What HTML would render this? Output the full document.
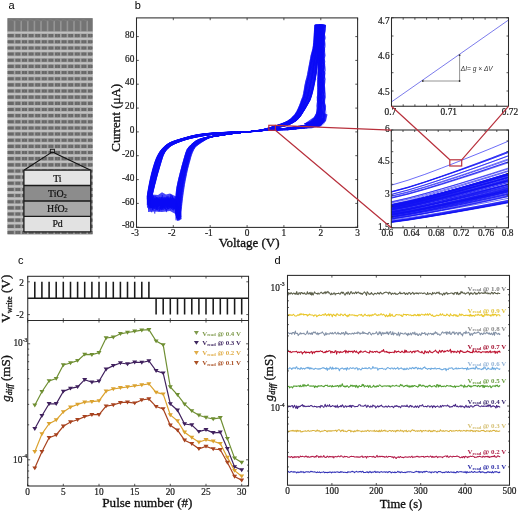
<!DOCTYPE html>
<html><head><meta charset="utf-8"><title>Figure</title>
<style>html,body{margin:0;padding:0;background:#fff;}svg{display:block;}</style></head>
<body><svg width="520" height="512" viewBox="0 0 520 512">
<rect width="520" height="512" fill="#fff"/>
<text x="8.5" y="8.6" font-size="11" text-anchor="start" font-family="'Liberation Sans',Arial,sans-serif" >a</text>
<rect x="7.5" y="18.2" width="85.1" height="216.4" fill="#a3a3a3"/>
<rect x="7.5" y="18.2" width="85.1" height="13.4" fill="#747474"/>
<rect x="13.8" y="20.7" width="1.6" height="11" fill="#949494"/><path d="M14.2,21.4 q-2.4,-2.6 -5.4,-1.2" stroke="#7e7e7e" stroke-width="1.1" fill="none"/><rect x="20.4" y="20.7" width="1.6" height="11" fill="#949494"/><path d="M20.8,21.4 q-2.4,-2.6 -5.4,-1.2" stroke="#7e7e7e" stroke-width="1.1" fill="none"/><rect x="27" y="20.7" width="1.6" height="11" fill="#949494"/><path d="M27.4,21.4 q-2.4,-2.6 -5.4,-1.2" stroke="#7e7e7e" stroke-width="1.1" fill="none"/><rect x="33.6" y="20.7" width="1.6" height="11" fill="#949494"/><path d="M34,21.4 q-2.4,-2.6 -5.4,-1.2" stroke="#7e7e7e" stroke-width="1.1" fill="none"/><rect x="40.2" y="20.7" width="1.6" height="11" fill="#949494"/><path d="M40.6,21.4 q-2.4,-2.6 -5.4,-1.2" stroke="#7e7e7e" stroke-width="1.1" fill="none"/><rect x="46.8" y="20.7" width="1.6" height="11" fill="#949494"/><path d="M47.2,21.4 q-2.4,-2.6 -5.4,-1.2" stroke="#7e7e7e" stroke-width="1.1" fill="none"/><rect x="53.4" y="20.7" width="1.6" height="11" fill="#949494"/><path d="M53.8,21.4 q-2.4,-2.6 -5.4,-1.2" stroke="#7e7e7e" stroke-width="1.1" fill="none"/><rect x="60" y="20.7" width="1.6" height="11" fill="#949494"/><path d="M60.4,21.4 q-2.4,-2.6 -5.4,-1.2" stroke="#7e7e7e" stroke-width="1.1" fill="none"/><rect x="66.6" y="20.7" width="1.6" height="11" fill="#949494"/><path d="M67,21.4 q-2.4,-2.6 -5.4,-1.2" stroke="#7e7e7e" stroke-width="1.1" fill="none"/><rect x="73.2" y="20.7" width="1.6" height="11" fill="#949494"/><path d="M73.6,21.4 q-2.4,-2.6 -5.4,-1.2" stroke="#7e7e7e" stroke-width="1.1" fill="none"/><rect x="79.8" y="20.7" width="1.6" height="11" fill="#949494"/><path d="M80.2,21.4 q-2.4,-2.6 -5.4,-1.2" stroke="#7e7e7e" stroke-width="1.1" fill="none"/><rect x="86.4" y="20.7" width="1.6" height="11" fill="#949494"/><path d="M86.8,21.4 q-2.4,-2.6 -5.4,-1.2" stroke="#7e7e7e" stroke-width="1.1" fill="none"/>
<rect x="7.5" y="31.6" width="85.1" height="1.9" fill="#c2c2c2"/><rect x="7.5" y="37.8" width="85.1" height="1.9" fill="#c2c2c2"/><rect x="7.5" y="43.9" width="85.1" height="1.9" fill="#c2c2c2"/><rect x="7.5" y="50" width="85.1" height="1.9" fill="#c2c2c2"/><rect x="7.5" y="56.2" width="85.1" height="1.9" fill="#c2c2c2"/><rect x="7.5" y="62.3" width="85.1" height="1.9" fill="#c2c2c2"/><rect x="7.5" y="68.5" width="85.1" height="1.9" fill="#c2c2c2"/><rect x="7.5" y="74.7" width="85.1" height="1.9" fill="#c2c2c2"/><rect x="7.5" y="80.8" width="85.1" height="1.9" fill="#c2c2c2"/><rect x="7.5" y="87" width="85.1" height="1.9" fill="#c2c2c2"/><rect x="7.5" y="93.1" width="85.1" height="1.9" fill="#c2c2c2"/><rect x="7.5" y="99.3" width="85.1" height="1.9" fill="#c2c2c2"/><rect x="7.5" y="105.4" width="85.1" height="1.9" fill="#c2c2c2"/><rect x="7.5" y="111.6" width="85.1" height="1.9" fill="#c2c2c2"/><rect x="7.5" y="117.7" width="85.1" height="1.9" fill="#c2c2c2"/><rect x="7.5" y="123.9" width="85.1" height="1.9" fill="#c2c2c2"/><rect x="7.5" y="130" width="85.1" height="1.9" fill="#c2c2c2"/><rect x="7.5" y="136.2" width="85.1" height="1.9" fill="#c2c2c2"/><rect x="7.5" y="142.3" width="85.1" height="1.9" fill="#c2c2c2"/><rect x="7.5" y="148.5" width="85.1" height="1.9" fill="#c2c2c2"/><rect x="7.5" y="154.6" width="85.1" height="1.9" fill="#c2c2c2"/><rect x="7.5" y="160.8" width="85.1" height="1.9" fill="#c2c2c2"/><rect x="7.5" y="166.9" width="85.1" height="1.9" fill="#c2c2c2"/><rect x="7.5" y="173.1" width="85.1" height="1.9" fill="#c2c2c2"/><rect x="7.5" y="179.2" width="85.1" height="1.9" fill="#c2c2c2"/><rect x="7.5" y="185.4" width="85.1" height="1.9" fill="#c2c2c2"/><rect x="7.5" y="191.5" width="85.1" height="1.9" fill="#c2c2c2"/><rect x="7.5" y="197.7" width="85.1" height="1.9" fill="#c2c2c2"/><rect x="7.5" y="203.8" width="85.1" height="1.9" fill="#c2c2c2"/><rect x="7.5" y="210" width="85.1" height="1.9" fill="#c2c2c2"/><rect x="7.5" y="216.1" width="85.1" height="1.9" fill="#c2c2c2"/><rect x="7.5" y="222.3" width="85.1" height="1.9" fill="#c2c2c2"/><rect x="7.5" y="228.4" width="85.1" height="1.9" fill="#c2c2c2"/>
<path d="M7.5,34.1h6.3v3.1h-6.3zM15.4,34.1h5v3.1h-5zM22,34.1h5v3.1h-5zM28.6,34.1h5v3.1h-5zM35.2,34.1h5v3.1h-5zM41.8,34.1h5v3.1h-5zM48.4,34.1h5v3.1h-5zM55,34.1h5v3.1h-5zM61.6,34.1h5v3.1h-5zM68.2,34.1h5v3.1h-5zM74.8,34.1h5v3.1h-5zM81.4,34.1h5v3.1h-5zM88,34.1h4.6v3.1h-4.6zM7.5,40.2h6.3v3.1h-6.3zM15.4,40.2h5v3.1h-5zM22,40.2h5v3.1h-5zM28.6,40.2h5v3.1h-5zM35.2,40.2h5v3.1h-5zM41.8,40.2h5v3.1h-5zM48.4,40.2h5v3.1h-5zM55,40.2h5v3.1h-5zM61.6,40.2h5v3.1h-5zM68.2,40.2h5v3.1h-5zM74.8,40.2h5v3.1h-5zM81.4,40.2h5v3.1h-5zM88,40.2h4.6v3.1h-4.6zM7.5,46.4h6.3v3.1h-6.3zM15.4,46.4h5v3.1h-5zM22,46.4h5v3.1h-5zM28.6,46.4h5v3.1h-5zM35.2,46.4h5v3.1h-5zM41.8,46.4h5v3.1h-5zM48.4,46.4h5v3.1h-5zM55,46.4h5v3.1h-5zM61.6,46.4h5v3.1h-5zM68.2,46.4h5v3.1h-5zM74.8,46.4h5v3.1h-5zM81.4,46.4h5v3.1h-5zM88,46.4h4.6v3.1h-4.6zM7.5,52.5h6.3v3.1h-6.3zM15.4,52.5h5v3.1h-5zM22,52.5h5v3.1h-5zM28.6,52.5h5v3.1h-5zM35.2,52.5h5v3.1h-5zM41.8,52.5h5v3.1h-5zM48.4,52.5h5v3.1h-5zM55,52.5h5v3.1h-5zM61.6,52.5h5v3.1h-5zM68.2,52.5h5v3.1h-5zM74.8,52.5h5v3.1h-5zM81.4,52.5h5v3.1h-5zM88,52.5h4.6v3.1h-4.6zM7.5,58.7h6.3v3.1h-6.3zM15.4,58.7h5v3.1h-5zM22,58.7h5v3.1h-5zM28.6,58.7h5v3.1h-5zM35.2,58.7h5v3.1h-5zM41.8,58.7h5v3.1h-5zM48.4,58.7h5v3.1h-5zM55,58.7h5v3.1h-5zM61.6,58.7h5v3.1h-5zM68.2,58.7h5v3.1h-5zM74.8,58.7h5v3.1h-5zM81.4,58.7h5v3.1h-5zM88,58.7h4.6v3.1h-4.6zM7.5,64.8h6.3v3.1h-6.3zM15.4,64.8h5v3.1h-5zM22,64.8h5v3.1h-5zM28.6,64.8h5v3.1h-5zM35.2,64.8h5v3.1h-5zM41.8,64.8h5v3.1h-5zM48.4,64.8h5v3.1h-5zM55,64.8h5v3.1h-5zM61.6,64.8h5v3.1h-5zM68.2,64.8h5v3.1h-5zM74.8,64.8h5v3.1h-5zM81.4,64.8h5v3.1h-5zM88,64.8h4.6v3.1h-4.6zM7.5,71h6.3v3.1h-6.3zM15.4,71h5v3.1h-5zM22,71h5v3.1h-5zM28.6,71h5v3.1h-5zM35.2,71h5v3.1h-5zM41.8,71h5v3.1h-5zM48.4,71h5v3.1h-5zM55,71h5v3.1h-5zM61.6,71h5v3.1h-5zM68.2,71h5v3.1h-5zM74.8,71h5v3.1h-5zM81.4,71h5v3.1h-5zM88,71h4.6v3.1h-4.6zM7.5,77.2h6.3v3.1h-6.3zM15.4,77.2h5v3.1h-5zM22,77.2h5v3.1h-5zM28.6,77.2h5v3.1h-5zM35.2,77.2h5v3.1h-5zM41.8,77.2h5v3.1h-5zM48.4,77.2h5v3.1h-5zM55,77.2h5v3.1h-5zM61.6,77.2h5v3.1h-5zM68.2,77.2h5v3.1h-5zM74.8,77.2h5v3.1h-5zM81.4,77.2h5v3.1h-5zM88,77.2h4.6v3.1h-4.6zM7.5,83.3h6.3v3.1h-6.3zM15.4,83.3h5v3.1h-5zM22,83.3h5v3.1h-5zM28.6,83.3h5v3.1h-5zM35.2,83.3h5v3.1h-5zM41.8,83.3h5v3.1h-5zM48.4,83.3h5v3.1h-5zM55,83.3h5v3.1h-5zM61.6,83.3h5v3.1h-5zM68.2,83.3h5v3.1h-5zM74.8,83.3h5v3.1h-5zM81.4,83.3h5v3.1h-5zM88,83.3h4.6v3.1h-4.6zM7.5,89.5h6.3v3.1h-6.3zM15.4,89.5h5v3.1h-5zM22,89.5h5v3.1h-5zM28.6,89.5h5v3.1h-5zM35.2,89.5h5v3.1h-5zM41.8,89.5h5v3.1h-5zM48.4,89.5h5v3.1h-5zM55,89.5h5v3.1h-5zM61.6,89.5h5v3.1h-5zM68.2,89.5h5v3.1h-5zM74.8,89.5h5v3.1h-5zM81.4,89.5h5v3.1h-5zM88,89.5h4.6v3.1h-4.6zM7.5,95.6h6.3v3.1h-6.3zM15.4,95.6h5v3.1h-5zM22,95.6h5v3.1h-5zM28.6,95.6h5v3.1h-5zM35.2,95.6h5v3.1h-5zM41.8,95.6h5v3.1h-5zM48.4,95.6h5v3.1h-5zM55,95.6h5v3.1h-5zM61.6,95.6h5v3.1h-5zM68.2,95.6h5v3.1h-5zM74.8,95.6h5v3.1h-5zM81.4,95.6h5v3.1h-5zM88,95.6h4.6v3.1h-4.6zM7.5,101.8h6.3v3.1h-6.3zM15.4,101.8h5v3.1h-5zM22,101.8h5v3.1h-5zM28.6,101.8h5v3.1h-5zM35.2,101.8h5v3.1h-5zM41.8,101.8h5v3.1h-5zM48.4,101.8h5v3.1h-5zM55,101.8h5v3.1h-5zM61.6,101.8h5v3.1h-5zM68.2,101.8h5v3.1h-5zM74.8,101.8h5v3.1h-5zM81.4,101.8h5v3.1h-5zM88,101.8h4.6v3.1h-4.6zM7.5,107.9h6.3v3.1h-6.3zM15.4,107.9h5v3.1h-5zM22,107.9h5v3.1h-5zM28.6,107.9h5v3.1h-5zM35.2,107.9h5v3.1h-5zM41.8,107.9h5v3.1h-5zM48.4,107.9h5v3.1h-5zM55,107.9h5v3.1h-5zM61.6,107.9h5v3.1h-5zM68.2,107.9h5v3.1h-5zM74.8,107.9h5v3.1h-5zM81.4,107.9h5v3.1h-5zM88,107.9h4.6v3.1h-4.6zM7.5,114.1h6.3v3.1h-6.3zM15.4,114.1h5v3.1h-5zM22,114.1h5v3.1h-5zM28.6,114.1h5v3.1h-5zM35.2,114.1h5v3.1h-5zM41.8,114.1h5v3.1h-5zM48.4,114.1h5v3.1h-5zM55,114.1h5v3.1h-5zM61.6,114.1h5v3.1h-5zM68.2,114.1h5v3.1h-5zM74.8,114.1h5v3.1h-5zM81.4,114.1h5v3.1h-5zM88,114.1h4.6v3.1h-4.6zM7.5,120.2h6.3v3.1h-6.3zM15.4,120.2h5v3.1h-5zM22,120.2h5v3.1h-5zM28.6,120.2h5v3.1h-5zM35.2,120.2h5v3.1h-5zM41.8,120.2h5v3.1h-5zM48.4,120.2h5v3.1h-5zM55,120.2h5v3.1h-5zM61.6,120.2h5v3.1h-5zM68.2,120.2h5v3.1h-5zM74.8,120.2h5v3.1h-5zM81.4,120.2h5v3.1h-5zM88,120.2h4.6v3.1h-4.6zM7.5,126.4h6.3v3.1h-6.3zM15.4,126.4h5v3.1h-5zM22,126.4h5v3.1h-5zM28.6,126.4h5v3.1h-5zM35.2,126.4h5v3.1h-5zM41.8,126.4h5v3.1h-5zM48.4,126.4h5v3.1h-5zM55,126.4h5v3.1h-5zM61.6,126.4h5v3.1h-5zM68.2,126.4h5v3.1h-5zM74.8,126.4h5v3.1h-5zM81.4,126.4h5v3.1h-5zM88,126.4h4.6v3.1h-4.6zM7.5,132.5h6.3v3.1h-6.3zM15.4,132.5h5v3.1h-5zM22,132.5h5v3.1h-5zM28.6,132.5h5v3.1h-5zM35.2,132.5h5v3.1h-5zM41.8,132.5h5v3.1h-5zM48.4,132.5h5v3.1h-5zM55,132.5h5v3.1h-5zM61.6,132.5h5v3.1h-5zM68.2,132.5h5v3.1h-5zM74.8,132.5h5v3.1h-5zM81.4,132.5h5v3.1h-5zM88,132.5h4.6v3.1h-4.6zM7.5,138.7h6.3v3.1h-6.3zM15.4,138.7h5v3.1h-5zM22,138.7h5v3.1h-5zM28.6,138.7h5v3.1h-5zM35.2,138.7h5v3.1h-5zM41.8,138.7h5v3.1h-5zM48.4,138.7h5v3.1h-5zM55,138.7h5v3.1h-5zM61.6,138.7h5v3.1h-5zM68.2,138.7h5v3.1h-5zM74.8,138.7h5v3.1h-5zM81.4,138.7h5v3.1h-5zM88,138.7h4.6v3.1h-4.6zM7.5,144.8h6.3v3.1h-6.3zM15.4,144.8h5v3.1h-5zM22,144.8h5v3.1h-5zM28.6,144.8h5v3.1h-5zM35.2,144.8h5v3.1h-5zM41.8,144.8h5v3.1h-5zM48.4,144.8h5v3.1h-5zM55,144.8h5v3.1h-5zM61.6,144.8h5v3.1h-5zM68.2,144.8h5v3.1h-5zM74.8,144.8h5v3.1h-5zM81.4,144.8h5v3.1h-5zM88,144.8h4.6v3.1h-4.6zM7.5,151h6.3v3.1h-6.3zM15.4,151h5v3.1h-5zM22,151h5v3.1h-5zM28.6,151h5v3.1h-5zM35.2,151h5v3.1h-5zM41.8,151h5v3.1h-5zM48.4,151h5v3.1h-5zM55,151h5v3.1h-5zM61.6,151h5v3.1h-5zM68.2,151h5v3.1h-5zM74.8,151h5v3.1h-5zM81.4,151h5v3.1h-5zM88,151h4.6v3.1h-4.6zM7.5,157.1h6.3v3.1h-6.3zM15.4,157.1h5v3.1h-5zM22,157.1h5v3.1h-5zM28.6,157.1h5v3.1h-5zM35.2,157.1h5v3.1h-5zM41.8,157.1h5v3.1h-5zM48.4,157.1h5v3.1h-5zM55,157.1h5v3.1h-5zM61.6,157.1h5v3.1h-5zM68.2,157.1h5v3.1h-5zM74.8,157.1h5v3.1h-5zM81.4,157.1h5v3.1h-5zM88,157.1h4.6v3.1h-4.6zM7.5,163.3h6.3v3.1h-6.3zM15.4,163.3h5v3.1h-5zM22,163.3h5v3.1h-5zM28.6,163.3h5v3.1h-5zM35.2,163.3h5v3.1h-5zM41.8,163.3h5v3.1h-5zM48.4,163.3h5v3.1h-5zM55,163.3h5v3.1h-5zM61.6,163.3h5v3.1h-5zM68.2,163.3h5v3.1h-5zM74.8,163.3h5v3.1h-5zM81.4,163.3h5v3.1h-5zM88,163.3h4.6v3.1h-4.6zM7.5,169.4h6.3v3.1h-6.3zM15.4,169.4h5v3.1h-5zM22,169.4h5v3.1h-5zM28.6,169.4h5v3.1h-5zM35.2,169.4h5v3.1h-5zM41.8,169.4h5v3.1h-5zM48.4,169.4h5v3.1h-5zM55,169.4h5v3.1h-5zM61.6,169.4h5v3.1h-5zM68.2,169.4h5v3.1h-5zM74.8,169.4h5v3.1h-5zM81.4,169.4h5v3.1h-5zM88,169.4h4.6v3.1h-4.6zM7.5,175.6h6.3v3.1h-6.3zM15.4,175.6h5v3.1h-5zM22,175.6h5v3.1h-5zM28.6,175.6h5v3.1h-5zM35.2,175.6h5v3.1h-5zM41.8,175.6h5v3.1h-5zM48.4,175.6h5v3.1h-5zM55,175.6h5v3.1h-5zM61.6,175.6h5v3.1h-5zM68.2,175.6h5v3.1h-5zM74.8,175.6h5v3.1h-5zM81.4,175.6h5v3.1h-5zM88,175.6h4.6v3.1h-4.6zM7.5,181.7h6.3v3.1h-6.3zM15.4,181.7h5v3.1h-5zM22,181.7h5v3.1h-5zM28.6,181.7h5v3.1h-5zM35.2,181.7h5v3.1h-5zM41.8,181.7h5v3.1h-5zM48.4,181.7h5v3.1h-5zM55,181.7h5v3.1h-5zM61.6,181.7h5v3.1h-5zM68.2,181.7h5v3.1h-5zM74.8,181.7h5v3.1h-5zM81.4,181.7h5v3.1h-5zM88,181.7h4.6v3.1h-4.6zM7.5,187.9h6.3v3.1h-6.3zM15.4,187.9h5v3.1h-5zM22,187.9h5v3.1h-5zM28.6,187.9h5v3.1h-5zM35.2,187.9h5v3.1h-5zM41.8,187.9h5v3.1h-5zM48.4,187.9h5v3.1h-5zM55,187.9h5v3.1h-5zM61.6,187.9h5v3.1h-5zM68.2,187.9h5v3.1h-5zM74.8,187.9h5v3.1h-5zM81.4,187.9h5v3.1h-5zM88,187.9h4.6v3.1h-4.6zM7.5,194h6.3v3.1h-6.3zM15.4,194h5v3.1h-5zM22,194h5v3.1h-5zM28.6,194h5v3.1h-5zM35.2,194h5v3.1h-5zM41.8,194h5v3.1h-5zM48.4,194h5v3.1h-5zM55,194h5v3.1h-5zM61.6,194h5v3.1h-5zM68.2,194h5v3.1h-5zM74.8,194h5v3.1h-5zM81.4,194h5v3.1h-5zM88,194h4.6v3.1h-4.6zM7.5,200.2h6.3v3.1h-6.3zM15.4,200.2h5v3.1h-5zM22,200.2h5v3.1h-5zM28.6,200.2h5v3.1h-5zM35.2,200.2h5v3.1h-5zM41.8,200.2h5v3.1h-5zM48.4,200.2h5v3.1h-5zM55,200.2h5v3.1h-5zM61.6,200.2h5v3.1h-5zM68.2,200.2h5v3.1h-5zM74.8,200.2h5v3.1h-5zM81.4,200.2h5v3.1h-5zM88,200.2h4.6v3.1h-4.6zM7.5,206.3h6.3v3.1h-6.3zM15.4,206.3h5v3.1h-5zM22,206.3h5v3.1h-5zM28.6,206.3h5v3.1h-5zM35.2,206.3h5v3.1h-5zM41.8,206.3h5v3.1h-5zM48.4,206.3h5v3.1h-5zM55,206.3h5v3.1h-5zM61.6,206.3h5v3.1h-5zM68.2,206.3h5v3.1h-5zM74.8,206.3h5v3.1h-5zM81.4,206.3h5v3.1h-5zM88,206.3h4.6v3.1h-4.6zM7.5,212.5h6.3v3.1h-6.3zM15.4,212.5h5v3.1h-5zM22,212.5h5v3.1h-5zM28.6,212.5h5v3.1h-5zM35.2,212.5h5v3.1h-5zM41.8,212.5h5v3.1h-5zM48.4,212.5h5v3.1h-5zM55,212.5h5v3.1h-5zM61.6,212.5h5v3.1h-5zM68.2,212.5h5v3.1h-5zM74.8,212.5h5v3.1h-5zM81.4,212.5h5v3.1h-5zM88,212.5h4.6v3.1h-4.6zM7.5,218.6h6.3v3.1h-6.3zM15.4,218.6h5v3.1h-5zM22,218.6h5v3.1h-5zM28.6,218.6h5v3.1h-5zM35.2,218.6h5v3.1h-5zM41.8,218.6h5v3.1h-5zM48.4,218.6h5v3.1h-5zM55,218.6h5v3.1h-5zM61.6,218.6h5v3.1h-5zM68.2,218.6h5v3.1h-5zM74.8,218.6h5v3.1h-5zM81.4,218.6h5v3.1h-5zM88,218.6h4.6v3.1h-4.6zM7.5,224.8h6.3v3.1h-6.3zM15.4,224.8h5v3.1h-5zM22,224.8h5v3.1h-5zM28.6,224.8h5v3.1h-5zM35.2,224.8h5v3.1h-5zM41.8,224.8h5v3.1h-5zM48.4,224.8h5v3.1h-5zM55,224.8h5v3.1h-5zM61.6,224.8h5v3.1h-5zM68.2,224.8h5v3.1h-5zM74.8,224.8h5v3.1h-5zM81.4,224.8h5v3.1h-5zM88,224.8h4.6v3.1h-4.6zM7.5,230.9h6.3v3.1h-6.3zM15.4,230.9h5v3.1h-5zM22,230.9h5v3.1h-5zM28.6,230.9h5v3.1h-5zM35.2,230.9h5v3.1h-5zM41.8,230.9h5v3.1h-5zM48.4,230.9h5v3.1h-5zM55,230.9h5v3.1h-5zM61.6,230.9h5v3.1h-5zM68.2,230.9h5v3.1h-5zM74.8,230.9h5v3.1h-5zM81.4,230.9h5v3.1h-5zM88,230.9h4.6v3.1h-4.6z" fill="#686868"/>
<path d="M17.9,34.1v3.1M24.5,34.1v3.1M31.1,34.1v3.1M37.7,34.1v3.1M44.3,34.1v3.1M50.9,34.1v3.1M57.5,34.1v3.1M64.1,34.1v3.1M70.7,34.1v3.1M77.3,34.1v3.1M83.9,34.1v3.1M90.5,34.1v3.1M17.9,40.2v3.1M24.5,40.2v3.1M31.1,40.2v3.1M37.7,40.2v3.1M44.3,40.2v3.1M50.9,40.2v3.1M57.5,40.2v3.1M64.1,40.2v3.1M70.7,40.2v3.1M77.3,40.2v3.1M83.9,40.2v3.1M90.5,40.2v3.1M17.9,46.4v3.1M24.5,46.4v3.1M31.1,46.4v3.1M37.7,46.4v3.1M44.3,46.4v3.1M50.9,46.4v3.1M57.5,46.4v3.1M64.1,46.4v3.1M70.7,46.4v3.1M77.3,46.4v3.1M83.9,46.4v3.1M90.5,46.4v3.1M17.9,52.5v3.1M24.5,52.5v3.1M31.1,52.5v3.1M37.7,52.5v3.1M44.3,52.5v3.1M50.9,52.5v3.1M57.5,52.5v3.1M64.1,52.5v3.1M70.7,52.5v3.1M77.3,52.5v3.1M83.9,52.5v3.1M90.5,52.5v3.1M17.9,58.7v3.1M24.5,58.7v3.1M31.1,58.7v3.1M37.7,58.7v3.1M44.3,58.7v3.1M50.9,58.7v3.1M57.5,58.7v3.1M64.1,58.7v3.1M70.7,58.7v3.1M77.3,58.7v3.1M83.9,58.7v3.1M90.5,58.7v3.1M17.9,64.8v3.1M24.5,64.8v3.1M31.1,64.8v3.1M37.7,64.8v3.1M44.3,64.8v3.1M50.9,64.8v3.1M57.5,64.8v3.1M64.1,64.8v3.1M70.7,64.8v3.1M77.3,64.8v3.1M83.9,64.8v3.1M90.5,64.8v3.1M17.9,71v3.1M24.5,71v3.1M31.1,71v3.1M37.7,71v3.1M44.3,71v3.1M50.9,71v3.1M57.5,71v3.1M64.1,71v3.1M70.7,71v3.1M77.3,71v3.1M83.9,71v3.1M90.5,71v3.1M17.9,77.2v3.1M24.5,77.2v3.1M31.1,77.2v3.1M37.7,77.2v3.1M44.3,77.2v3.1M50.9,77.2v3.1M57.5,77.2v3.1M64.1,77.2v3.1M70.7,77.2v3.1M77.3,77.2v3.1M83.9,77.2v3.1M90.5,77.2v3.1M17.9,83.3v3.1M24.5,83.3v3.1M31.1,83.3v3.1M37.7,83.3v3.1M44.3,83.3v3.1M50.9,83.3v3.1M57.5,83.3v3.1M64.1,83.3v3.1M70.7,83.3v3.1M77.3,83.3v3.1M83.9,83.3v3.1M90.5,83.3v3.1M17.9,89.5v3.1M24.5,89.5v3.1M31.1,89.5v3.1M37.7,89.5v3.1M44.3,89.5v3.1M50.9,89.5v3.1M57.5,89.5v3.1M64.1,89.5v3.1M70.7,89.5v3.1M77.3,89.5v3.1M83.9,89.5v3.1M90.5,89.5v3.1M17.9,95.6v3.1M24.5,95.6v3.1M31.1,95.6v3.1M37.7,95.6v3.1M44.3,95.6v3.1M50.9,95.6v3.1M57.5,95.6v3.1M64.1,95.6v3.1M70.7,95.6v3.1M77.3,95.6v3.1M83.9,95.6v3.1M90.5,95.6v3.1M17.9,101.8v3.1M24.5,101.8v3.1M31.1,101.8v3.1M37.7,101.8v3.1M44.3,101.8v3.1M50.9,101.8v3.1M57.5,101.8v3.1M64.1,101.8v3.1M70.7,101.8v3.1M77.3,101.8v3.1M83.9,101.8v3.1M90.5,101.8v3.1M17.9,107.9v3.1M24.5,107.9v3.1M31.1,107.9v3.1M37.7,107.9v3.1M44.3,107.9v3.1M50.9,107.9v3.1M57.5,107.9v3.1M64.1,107.9v3.1M70.7,107.9v3.1M77.3,107.9v3.1M83.9,107.9v3.1M90.5,107.9v3.1M17.9,114.1v3.1M24.5,114.1v3.1M31.1,114.1v3.1M37.7,114.1v3.1M44.3,114.1v3.1M50.9,114.1v3.1M57.5,114.1v3.1M64.1,114.1v3.1M70.7,114.1v3.1M77.3,114.1v3.1M83.9,114.1v3.1M90.5,114.1v3.1M17.9,120.2v3.1M24.5,120.2v3.1M31.1,120.2v3.1M37.7,120.2v3.1M44.3,120.2v3.1M50.9,120.2v3.1M57.5,120.2v3.1M64.1,120.2v3.1M70.7,120.2v3.1M77.3,120.2v3.1M83.9,120.2v3.1M90.5,120.2v3.1M17.9,126.4v3.1M24.5,126.4v3.1M31.1,126.4v3.1M37.7,126.4v3.1M44.3,126.4v3.1M50.9,126.4v3.1M57.5,126.4v3.1M64.1,126.4v3.1M70.7,126.4v3.1M77.3,126.4v3.1M83.9,126.4v3.1M90.5,126.4v3.1M17.9,132.5v3.1M24.5,132.5v3.1M31.1,132.5v3.1M37.7,132.5v3.1M44.3,132.5v3.1M50.9,132.5v3.1M57.5,132.5v3.1M64.1,132.5v3.1M70.7,132.5v3.1M77.3,132.5v3.1M83.9,132.5v3.1M90.5,132.5v3.1M17.9,138.7v3.1M24.5,138.7v3.1M31.1,138.7v3.1M37.7,138.7v3.1M44.3,138.7v3.1M50.9,138.7v3.1M57.5,138.7v3.1M64.1,138.7v3.1M70.7,138.7v3.1M77.3,138.7v3.1M83.9,138.7v3.1M90.5,138.7v3.1M17.9,144.8v3.1M24.5,144.8v3.1M31.1,144.8v3.1M37.7,144.8v3.1M44.3,144.8v3.1M50.9,144.8v3.1M57.5,144.8v3.1M64.1,144.8v3.1M70.7,144.8v3.1M77.3,144.8v3.1M83.9,144.8v3.1M90.5,144.8v3.1M17.9,151v3.1M24.5,151v3.1M31.1,151v3.1M37.7,151v3.1M44.3,151v3.1M50.9,151v3.1M57.5,151v3.1M64.1,151v3.1M70.7,151v3.1M77.3,151v3.1M83.9,151v3.1M90.5,151v3.1M17.9,157.1v3.1M24.5,157.1v3.1M31.1,157.1v3.1M37.7,157.1v3.1M44.3,157.1v3.1M50.9,157.1v3.1M57.5,157.1v3.1M64.1,157.1v3.1M70.7,157.1v3.1M77.3,157.1v3.1M83.9,157.1v3.1M90.5,157.1v3.1M17.9,163.3v3.1M24.5,163.3v3.1M31.1,163.3v3.1M37.7,163.3v3.1M44.3,163.3v3.1M50.9,163.3v3.1M57.5,163.3v3.1M64.1,163.3v3.1M70.7,163.3v3.1M77.3,163.3v3.1M83.9,163.3v3.1M90.5,163.3v3.1M17.9,169.4v3.1M24.5,169.4v3.1M31.1,169.4v3.1M37.7,169.4v3.1M44.3,169.4v3.1M50.9,169.4v3.1M57.5,169.4v3.1M64.1,169.4v3.1M70.7,169.4v3.1M77.3,169.4v3.1M83.9,169.4v3.1M90.5,169.4v3.1M17.9,175.6v3.1M24.5,175.6v3.1M31.1,175.6v3.1M37.7,175.6v3.1M44.3,175.6v3.1M50.9,175.6v3.1M57.5,175.6v3.1M64.1,175.6v3.1M70.7,175.6v3.1M77.3,175.6v3.1M83.9,175.6v3.1M90.5,175.6v3.1M17.9,181.7v3.1M24.5,181.7v3.1M31.1,181.7v3.1M37.7,181.7v3.1M44.3,181.7v3.1M50.9,181.7v3.1M57.5,181.7v3.1M64.1,181.7v3.1M70.7,181.7v3.1M77.3,181.7v3.1M83.9,181.7v3.1M90.5,181.7v3.1M17.9,187.9v3.1M24.5,187.9v3.1M31.1,187.9v3.1M37.7,187.9v3.1M44.3,187.9v3.1M50.9,187.9v3.1M57.5,187.9v3.1M64.1,187.9v3.1M70.7,187.9v3.1M77.3,187.9v3.1M83.9,187.9v3.1M90.5,187.9v3.1M17.9,194v3.1M24.5,194v3.1M31.1,194v3.1M37.7,194v3.1M44.3,194v3.1M50.9,194v3.1M57.5,194v3.1M64.1,194v3.1M70.7,194v3.1M77.3,194v3.1M83.9,194v3.1M90.5,194v3.1M17.9,200.2v3.1M24.5,200.2v3.1M31.1,200.2v3.1M37.7,200.2v3.1M44.3,200.2v3.1M50.9,200.2v3.1M57.5,200.2v3.1M64.1,200.2v3.1M70.7,200.2v3.1M77.3,200.2v3.1M83.9,200.2v3.1M90.5,200.2v3.1M17.9,206.3v3.1M24.5,206.3v3.1M31.1,206.3v3.1M37.7,206.3v3.1M44.3,206.3v3.1M50.9,206.3v3.1M57.5,206.3v3.1M64.1,206.3v3.1M70.7,206.3v3.1M77.3,206.3v3.1M83.9,206.3v3.1M90.5,206.3v3.1M17.9,212.5v3.1M24.5,212.5v3.1M31.1,212.5v3.1M37.7,212.5v3.1M44.3,212.5v3.1M50.9,212.5v3.1M57.5,212.5v3.1M64.1,212.5v3.1M70.7,212.5v3.1M77.3,212.5v3.1M83.9,212.5v3.1M90.5,212.5v3.1M17.9,218.6v3.1M24.5,218.6v3.1M31.1,218.6v3.1M37.7,218.6v3.1M44.3,218.6v3.1M50.9,218.6v3.1M57.5,218.6v3.1M64.1,218.6v3.1M70.7,218.6v3.1M77.3,218.6v3.1M83.9,218.6v3.1M90.5,218.6v3.1M17.9,224.8v3.1M24.5,224.8v3.1M31.1,224.8v3.1M37.7,224.8v3.1M44.3,224.8v3.1M50.9,224.8v3.1M57.5,224.8v3.1M64.1,224.8v3.1M70.7,224.8v3.1M77.3,224.8v3.1M83.9,224.8v3.1M90.5,224.8v3.1M17.9,230.9v3.1M24.5,230.9v3.1M31.1,230.9v3.1M37.7,230.9v3.1M44.3,230.9v3.1M50.9,230.9v3.1M57.5,230.9v3.1M64.1,230.9v3.1M70.7,230.9v3.1M77.3,230.9v3.1M83.9,230.9v3.1M90.5,230.9v3.1" stroke="#7a7a7a" stroke-width="0.7"/>
<rect x="50.3" y="149.3" width="4.1" height="3.2" fill="none" stroke="#111" stroke-width="0.9"/>
<path d="M51.2,152.6 L23.9,170.3 M53.5,152.6 L90.7,170.3" stroke="#111" stroke-width="1.1" fill="none"/>
<rect x="23.9" y="170.1" width="66.9" height="15.4" fill="#e4e4e4"/>
<rect x="23.9" y="185.5" width="66.9" height="15.5" fill="#8c8c8c"/>
<rect x="23.9" y="201.0" width="66.9" height="15.4" fill="#a8a8a8"/>
<rect x="23.9" y="216.4" width="66.9" height="15.5" fill="#e2e2e2"/>
<line x1="23.9" y1="170.1" x2="90.8" y2="170.1" stroke="#1a1a1a" stroke-width="1.3"/>
<line x1="23.9" y1="185.5" x2="90.8" y2="185.5" stroke="#1a1a1a" stroke-width="1.3"/>
<line x1="23.9" y1="201.0" x2="90.8" y2="201.0" stroke="#1a1a1a" stroke-width="1.3"/>
<line x1="23.9" y1="216.4" x2="90.8" y2="216.4" stroke="#1a1a1a" stroke-width="1.3"/>
<line x1="23.9" y1="231.9" x2="90.8" y2="231.9" stroke="#1a1a1a" stroke-width="1.3"/>
<path d="M23.9,170.1 V231.9 M90.8,170.1 V231.9" stroke="#1a1a1a" stroke-width="1.3"/>
<text x="57.4" y="182.4" font-size="9.9" text-anchor="middle" font-family="'Liberation Serif','Times New Roman',serif" fill="#111" stroke="#111" stroke-width="0.22">Ti</text>
<text x="57.4" y="197.3" font-size="9.9" text-anchor="middle" font-family="'Liberation Serif','Times New Roman',serif" fill="#111" stroke="#111" stroke-width="0.22">TiO<tspan font-size="6.4" dy="0.6">2</tspan></text>
<text x="57.4" y="211.8" font-size="9.9" text-anchor="middle" font-family="'Liberation Serif','Times New Roman',serif" fill="#111" stroke="#111" stroke-width="0.22">HfO<tspan font-size="6.4" dy="0.6">2</tspan></text>
<text x="57.6" y="226.6" font-size="9.9" text-anchor="middle" font-family="'Liberation Serif','Times New Roman',serif" fill="#111" stroke="#111" stroke-width="0.22">Pd</text>
<text x="134.7" y="8.6" font-size="11" text-anchor="start" font-family="'Liberation Sans',Arial,sans-serif" >b</text>
<g fill="none" stroke="#0a0af5" stroke-width="0.55" stroke-linejoin="round"><path d="M246.9,131.9 243.8,132 240.8,132.2 237.7,132.3 234.6,132.4 231.6,132.6 228.5,132.8 225.4,132.9 222.4,133.1 219.3,133.4 216.3,133.6 213.2,133.8 210.1,134.1 207.1,134.5 204,134.9 201,135.3 198,135.9 195,136.4 192,137.1 189,137.9 186,138.7 183.1,139.5 180.2,140.5 177.3,141.5 174.4,142.6 171.6,143.8 169,145.5 166.6,147.4 164.5,149.6 162.7,152.1 161.3,154.8 160.1,157.6 159.1,160.5 158.1,163.4 157.2,166.4 156.3,169.3 155.5,172.3 154.7,175.2 154,178.2 153.2,181.2 152.5,184.2 151.9,187.2 151.2,190.2 150.6,193.2 150,196.2 150,200.7 151.3,207.3 152.6,207 153.9,206.4 155.2,204.1 156.5,206.1 157.8,207.7 159.1,203.2 160.4,205.2 161.7,202 163,203.3 164.3,202.1 165.6,205.7 166.9,203.4 168.2,206.8 169.5,206.5 170.8,205.8 172.1,200.6 173.4,205 174.7,206.1 176,206.4 177.3,212.1 177.3,212 177.3,209.1 177.3,206.3 177.3,203.4 177.4,200.5 177.6,197.6 177.8,194.8 178.1,191.9 178.5,189 178.9,186.2 179.5,183.4 180.1,180.6 180.8,177.7 181.4,174.9 182.1,172.1 182.8,169.3 183.5,166.6 184.2,163.8 185,161 185.8,158.2 186.6,155.5 187.4,152.7 188.6,150.1 190.1,147.6 192,145.5 194.1,143.5 196.4,141.8 198.9,140.4 201.6,139.3 204.3,138.3 207,137.5 209.8,136.9 212.6,136.4 215.5,136 218.3,135.5 221.2,135.1 224,134.7 226.9,134.3 229.7,133.9 232.6,133.5 235.4,133.2 238.3,132.8 241.2,132.5 244,132.2 246.9,131.9"/><path d="M246.9,131.9 243.8,132 240.6,132 237.5,132.1 234.4,132.1 231.2,132.2 228.1,132.3 225,132.4 221.8,132.6 218.7,132.8 215.6,133 212.4,133.2 209.3,133.4 206.2,133.7 203.1,134.1 200,134.5 196.9,135 193.8,135.6 190.7,136.3 187.7,137.2 184.7,138 181.7,138.9 178.7,139.8 175.7,140.7 172.7,141.8 169.9,143 167.2,144.7 164.7,146.6 162.5,148.8 160.6,151.3 159,154 157.6,156.8 156.4,159.7 155.3,162.6 154.3,165.6 153.4,168.6 152.6,171.6 151.8,174.7 151.1,177.7 150.4,180.8 149.8,183.9 149.2,186.9 148.6,190 148.1,193.1 147.6,196.2 147.6,202.6 149.1,204.2 150.6,207.1 152.1,209.9 153.6,203.5 155,208.8 156.5,207.2 158,205.5 159.5,211.3 160.9,208.6 162.4,204.3 163.9,207.1 165.4,208.2 166.8,206.5 168.3,208.4 169.8,206.8 171.3,208.4 172.8,210.1 174.2,205.4 175.7,207.4 177.2,205.9 178.7,214.2 178.7,212 178.8,209.2 178.9,206.3 179,203.5 179.2,200.7 179.5,197.9 179.7,195 180.1,192.2 180.4,189.4 180.9,186.6 181.4,183.8 182,181 182.6,178.3 183.2,175.5 183.8,172.7 184.5,170 185.1,167.2 185.9,164.5 186.6,161.7 187.4,159 188.1,156.2 189,153.5 190,150.9 191.4,148.5 193.2,146.2 195.2,144.3 197.5,142.6 199.9,141.1 202.4,139.9 205,138.7 207.6,137.7 210.4,137 213.1,136.5 215.9,136 218.7,135.6 221.6,135.1 224.4,134.7 227.2,134.3 230,133.9 232.8,133.5 235.6,133.2 238.4,132.8 241.3,132.5 244.1,132.2 246.9,131.9"/><path d="M246.9,131.9 243.8,132 240.7,132 237.6,132.1 234.4,132.2 231.3,132.3 228.2,132.4 225.1,132.6 222,132.7 218.9,132.9 215.8,133.1 212.6,133.4 209.5,133.6 206.4,133.9 203.3,134.3 200.3,134.7 197.2,135.2 194.1,135.8 191.1,136.6 188.1,137.4 185.1,138.2 182.1,139.1 179.1,140 176.1,140.9 173.2,142 170.3,143.2 167.7,144.9 165.3,146.8 163.1,149 161.2,151.5 159.6,154.2 158.3,157 157.1,159.9 156.1,162.8 155.1,165.8 154.2,168.8 153.4,171.8 152.6,174.8 151.9,177.9 151.2,180.9 150.6,183.9 149.9,187 149.3,190.1 148.8,193.1 148.3,196.2 148.3,201.9 149.8,201.7 151.3,199.5 152.8,199.4 154.3,199.6 155.8,203.5 157.3,199.2 158.8,199.5 160.3,201 161.8,199.9 163.3,199.8 164.8,197.7 166.3,200.2 167.8,199.2 169.3,202.8 170.8,201.6 172.3,200.1 173.8,201.7 175.3,199.4 176.8,202.5 178.3,200.2 179.8,212.3 179.8,212 180,209.2 180.2,206.4 180.5,203.6 180.7,200.8 181,198.1 181.3,195.3 181.7,192.5 182.1,189.7 182.5,186.9 183,184.2 183.5,181.4 184,178.7 184.6,175.9 185.2,173.2 185.8,170.5 186.5,167.7 187.2,165 187.9,162.3 188.7,159.6 189.4,156.9 190.2,154.2 191.3,151.6 192.5,149.1 194.2,146.9 196.2,144.9 198.4,143.2 200.8,141.7 203.2,140.3 205.6,139.1 208.2,137.9 210.8,137.1 213.6,136.5 216.3,136.1 219.1,135.6 221.9,135.2 224.6,134.7 227.4,134.3 230.2,133.9 233,133.5 235.8,133.2 238.5,132.8 241.3,132.5 244.1,132.2 246.9,131.9"/><path d="M246.9,131.9 243.8,132 240.7,132.1 237.6,132.2 234.5,132.3 231.4,132.4 228.3,132.6 225.2,132.7 222.2,132.9 219.1,133.1 216,133.3 212.9,133.6 209.8,133.9 206.7,134.2 203.6,134.6 200.6,135 197.5,135.5 194.5,136.1 191.5,136.8 188.5,137.6 185.5,138.4 182.5,139.3 179.6,140.2 176.6,141.2 173.7,142.2 170.9,143.5 168.3,145.1 165.9,147.1 163.7,149.3 161.9,151.8 160.3,154.5 159.1,157.3 157.9,160.2 156.9,163.1 156,166.1 155.1,169 154.3,172 153.5,175 152.8,178 152.1,181 151.4,184.1 150.8,187.1 150.2,190.1 149.6,193.2 149,196.2 149,201.6 150.4,205.2 151.7,204.8 153,201.4 154.3,203.5 155.6,203.7 156.9,201.4 158.3,204.2 159.6,201.8 160.9,205.8 162.2,204.1 163.5,203.9 164.9,202.4 166.2,203.4 167.5,199.3 168.8,201.2 170.1,204.5 171.4,199 172.8,205.5 174.1,199.8 175.4,205.3 176.7,214.4 176.7,212 176.7,209.1 176.7,206.2 176.7,203.3 176.7,200.4 176.9,197.5 177.1,194.6 177.3,191.8 177.7,188.9 178.2,186 178.8,183.2 179.4,180.4 180,177.5 180.7,174.7 181.4,171.9 182.1,169.1 182.9,166.3 183.6,163.5 184.4,160.7 185.2,157.9 186,155.1 186.8,152.4 188,149.7 189.6,147.3 191.5,145.2 193.7,143.2 196,141.5 198.5,140.1 201.2,139 203.9,138.2 206.7,137.4 209.6,136.9 212.4,136.4 215.3,135.9 218.2,135.5 221,135.1 223.9,134.6 226.8,134.2 229.6,133.9 232.5,133.5 235.4,133.2 238.3,132.8 241.1,132.5 244,132.2 246.9,131.9"/><path d="M246.9,131.9 243.8,131.9 240.6,132 237.5,132 234.3,132.1 231.2,132.1 228,132.2 224.9,132.4 221.7,132.5 218.6,132.7 215.5,132.9 212.3,133.1 209.2,133.3 206,133.6 202.9,134 199.8,134.4 196.7,134.9 193.6,135.5 190.6,136.2 187.5,137.1 184.5,137.9 181.5,138.8 178.4,139.7 175.4,140.6 172.5,141.6 169.6,142.9 166.9,144.5 164.4,146.5 162.2,148.7 160.3,151.2 158.6,153.8 157.2,156.6 155.9,159.5 154.8,162.5 153.9,165.5 153,168.5 152.2,171.5 151.4,174.6 150.7,177.6 150,180.7 149.4,183.8 148.8,186.9 148.2,190 147.7,193.1 147.3,196.2 147.3,204.8 148.8,201.1 150.3,201.5 151.8,200 153.3,205.6 154.8,202.5 156.3,205 157.8,202.9 159.3,201.3 160.8,202.1 162.3,201.6 163.8,202.9 165.3,202 166.8,202.2 168.3,199.8 169.8,201.1 171.3,206.5 172.8,201.4 174.3,200.5 175.8,203.6 177.3,205.9 178.8,214.8 178.8,212 179,209.2 179.1,206.4 179.3,203.5 179.5,200.7 179.7,197.9 180,195.1 180.3,192.3 180.7,189.5 181.1,186.7 181.6,183.9 182.2,181.1 182.8,178.3 183.4,175.5 184,172.8 184.7,170 185.3,167.3 186.1,164.5 186.8,161.8 187.6,159.1 188.3,156.3 189.2,153.6 190.2,151 191.6,148.6 193.3,146.3 195.4,144.4 197.6,142.7 200.1,141.2 202.6,139.9 205.1,138.8 207.7,137.8 210.4,137 213.2,136.5 216,136 218.8,135.6 221.6,135.1 224.4,134.7 227.2,134.3 230,133.9 232.8,133.5 235.6,133.2 238.5,132.8 241.3,132.5 244.1,132.2 246.9,131.9"/><path d="M246.9,131.9 243.8,131.9 240.6,132 237.5,132 234.3,132.1 231.2,132.2 228.1,132.3 224.9,132.4 221.8,132.5 218.6,132.7 215.5,132.9 212.4,133.1 209.2,133.4 206.1,133.7 203,134 199.9,134.4 196.8,134.9 193.7,135.5 190.6,136.3 187.6,137.1 184.6,137.9 181.6,138.8 178.5,139.7 175.5,140.6 172.6,141.7 169.7,142.9 167,144.6 164.6,146.5 162.3,148.7 160.4,151.2 158.8,153.9 157.3,156.7 156.1,159.6 155,162.5 154.1,165.5 153.2,168.5 152.4,171.6 151.6,174.6 150.9,177.7 150.2,180.7 149.6,183.8 149,186.9 148.4,190 147.9,193.1 147.4,196.2 147.4,206.3 148.8,209.3 150.3,205.2 151.7,207 153.1,206.3 154.5,205.4 156,205.2 157.4,207.7 158.8,205.7 160.3,206 161.7,206.4 163.1,208.9 164.5,207.8 166,207.2 167.4,205.1 168.8,203.3 170.2,208.4 171.7,208.5 173.1,206 174.5,207.5 175.9,208.1 177.4,217.9 177.4,212 177.4,209.1 177.4,206.3 177.5,203.4 177.6,200.5 177.7,197.6 177.9,194.8 178.2,191.9 178.6,189.1 179.1,186.2 179.6,183.4 180.2,180.6 180.9,177.8 181.5,175 182.2,172.2 182.9,169.4 183.6,166.6 184.4,163.8 185.1,161 185.9,158.3 186.7,155.5 187.5,152.8 188.7,150.1 190.2,147.7 192.1,145.5 194.2,143.6 196.5,141.9 199,140.4 201.6,139.3 204.3,138.3 207,137.5 209.8,136.9 212.7,136.4 215.5,136 218.4,135.5 221.2,135.1 224,134.7 226.9,134.3 229.7,133.9 232.6,133.5 235.5,133.2 238.3,132.8 241.2,132.5 244,132.2 246.9,131.9"/><path d="M246.9,131.9 243.8,132 240.8,132.2 237.7,132.3 234.7,132.5 231.6,132.6 228.5,132.8 225.5,133 222.4,133.2 219.4,133.4 216.3,133.6 213.3,133.9 210.2,134.2 207.2,134.6 204.1,135 201.1,135.4 198.1,135.9 195.1,136.5 192.1,137.2 189.1,137.9 186.2,138.7 183.2,139.6 180.3,140.6 177.4,141.6 174.6,142.7 171.8,143.9 169.2,145.5 166.8,147.5 164.7,149.7 162.9,152.2 161.5,154.9 160.3,157.7 159.3,160.6 158.4,163.5 157.5,166.4 156.6,169.4 155.8,172.3 155,175.3 154.2,178.3 153.5,181.2 152.8,184.2 152.1,187.2 151.5,190.2 150.8,193.2 150.2,196.2 150.2,207.1 151.6,199.8 152.9,202 154.2,203.9 155.5,198.4 156.8,197.4 158.1,202.6 159.4,202.1 160.7,201.5 162,202.1 163.4,200.2 164.7,198.7 166,201.7 167.3,199.9 168.6,198.4 169.9,203.2 171.2,201.9 172.5,202.9 173.8,199.9 175.2,200.6 176.5,199.9 177.8,213.5 177.8,212 177.8,209.1 177.9,206.3 178,203.4 178.1,200.6 178.3,197.7 178.5,194.9 178.8,192 179.2,189.2 179.7,186.3 180.2,183.5 180.8,180.7 181.4,177.9 182,175.1 182.7,172.3 183.4,169.6 184.1,166.8 184.8,164 185.6,161.3 186.4,158.5 187.2,155.7 188,153 189.1,150.4 190.6,147.9 192.4,145.8 194.5,143.8 196.8,142.1 199.3,140.7 201.9,139.5 204.5,138.5 207.2,137.6 210,136.9 212.8,136.4 215.6,136 218.5,135.5 221.3,135.1 224.1,134.7 227,134.3 229.8,133.9 232.7,133.5 235.5,133.2 238.4,132.8 241.2,132.5 244.1,132.2 246.9,131.9"/><path d="M246.9,131.9 243.8,132 240.7,132 237.5,132.1 234.4,132.2 231.3,132.3 228.2,132.4 225.1,132.6 222,132.7 218.9,132.9 215.7,133.1 212.6,133.3 209.5,133.6 206.4,133.9 203.3,134.3 200.2,134.7 197.2,135.2 194.1,135.8 191.1,136.5 188.1,137.3 185,138.2 182,139 179.1,140 176.1,140.9 173.2,142 170.3,143.2 167.7,144.9 165.2,146.8 163,149 161.2,151.5 159.6,154.2 158.2,157 157.1,159.9 156,162.8 155.1,165.8 154.2,168.8 153.4,171.8 152.6,174.8 151.9,177.8 151.2,180.9 150.5,183.9 149.9,187 149.3,190.1 148.8,193.1 148.3,196.2 148.3,200.9 149.7,204.7 151.2,205.1 152.7,204.3 154.2,207.5 155.6,204.9 157.1,200.1 158.6,203.4 160.1,200.6 161.5,197.8 163,203.7 164.5,207.8 166,205 167.4,202.3 168.9,202.8 170.4,207.4 171.9,205.3 173.3,205 174.8,204.8 176.3,205 177.8,206.7 179.2,214.8 179.2,212 179.4,209.2 179.6,206.4 179.8,203.6 180,200.8 180.2,198 180.5,195.2 180.9,192.4 181.2,189.6 181.7,186.8 182.2,184 182.7,181.2 183.3,178.5 183.9,175.7 184.5,173 185.1,170.2 185.8,167.5 186.5,164.7 187.3,162 188,159.3 188.8,156.6 189.6,153.9 190.6,151.3 192,148.8 193.7,146.6 195.7,144.6 198,142.9 200.4,141.4 202.8,140.1 205.3,138.9 207.9,137.8 210.6,137 213.4,136.5 216.1,136.1 218.9,135.6 221.7,135.1 224.5,134.7 227.3,134.3 230.1,133.9 232.9,133.5 235.7,133.2 238.5,132.8 241.3,132.5 244.1,132.2 246.9,131.9"/><path d="M246.9,131.9 243.8,132 240.7,132.1 237.6,132.2 234.5,132.3 231.4,132.4 228.3,132.6 225.2,132.7 222.2,132.9 219.1,133.1 216,133.3 212.9,133.6 209.8,133.9 206.7,134.2 203.7,134.6 200.6,135 197.5,135.5 194.5,136.1 191.5,136.8 188.5,137.6 185.5,138.4 182.5,139.3 179.6,140.2 176.6,141.2 173.7,142.3 170.9,143.5 168.3,145.1 165.9,147.1 163.7,149.3 161.9,151.8 160.3,154.5 159.1,157.3 158,160.2 157,163.1 156.1,166.1 155.2,169 154.3,172 153.6,175 152.8,178 152.1,181 151.5,184.1 150.8,187.1 150.2,190.1 149.6,193.2 149.1,196.2 149.1,204.6 150.5,207.2 152,206.4 153.4,199.8 154.9,206.1 156.4,205.4 157.8,205.7 159.3,203.2 160.7,205 162.2,205.2 163.6,208.2 165.1,206.3 166.6,205.5 168,208.9 169.5,204.3 170.9,204.7 172.4,201.5 173.8,209 175.3,207.7 176.8,207.6 178.2,207 179.7,213.7 179.7,212 179.9,209.2 180.1,206.4 180.3,203.6 180.5,200.8 180.8,198 181.1,195.2 181.5,192.5 181.9,189.7 182.3,186.9 182.8,184.1 183.3,181.4 183.9,178.6 184.4,175.9 185,173.1 185.7,170.4 186.3,167.7 187,164.9 187.8,162.2 188.5,159.5 189.3,156.8 190.1,154.1 191.1,151.5 192.4,149.1 194,146.8 196,144.8 198.3,143.2 200.7,141.7 203.1,140.3 205.6,139 208.1,137.9 210.8,137.1 213.5,136.5 216.3,136.1 219.1,135.6 221.8,135.2 224.6,134.7 227.4,134.3 230.2,133.9 232.9,133.5 235.7,133.2 238.5,132.8 241.3,132.5 244.1,132.2 246.9,131.9"/><path d="M246.9,131.9 243.8,132 240.7,132 237.5,132.1 234.4,132.2 231.3,132.3 228.2,132.4 225,132.5 221.9,132.7 218.8,132.9 215.7,133.1 212.6,133.3 209.5,133.6 206.4,133.9 203.2,134.2 200.2,134.7 197.1,135.2 194,135.8 191,136.5 187.9,137.3 184.9,138.1 181.9,139 178.9,139.9 176,140.9 173,141.9 170.2,143.1 167.5,144.8 165.1,146.8 162.9,149 161,151.4 159.4,154.1 158,156.9 156.8,159.8 155.8,162.8 154.8,165.7 154,168.7 153.1,171.7 152.4,174.8 151.6,177.8 150.9,180.9 150.3,183.9 149.7,187 149.1,190 148.6,193.1 148.1,196.2 148.1,200.4 149.5,203.1 151,201.4 152.4,203.7 153.9,205.8 155.4,203 156.8,203.4 158.3,203.4 159.7,204.1 161.2,200.4 162.7,203.4 164.1,202 165.6,205.8 167,202.2 168.5,205.2 169.9,207.2 171.4,203.2 172.9,202.6 174.3,204.3 175.8,203.9 177.2,201.7 178.7,218.9 178.7,212 178.8,209.2 178.9,206.3 179.1,203.5 179.3,200.7 179.5,197.9 179.8,195 180.1,192.2 180.5,189.4 180.9,186.6 181.5,183.8 182,181 182.6,178.3 183.2,175.5 183.8,172.7 184.5,170 185.2,167.2 185.9,164.5 186.6,161.7 187.4,159 188.2,156.3 189,153.5 190.1,150.9 191.5,148.5 193.2,146.3 195.3,144.3 197.5,142.6 200,141.1 202.5,139.9 205,138.7 207.7,137.8 210.4,137 213.2,136.5 216,136 218.8,135.6 221.6,135.1 224.4,134.7 227.2,134.3 230,133.9 232.8,133.5 235.6,133.2 238.4,132.8 241.3,132.5 244.1,132.2 246.9,131.9"/><path d="M246.9,131.9 243.8,132 240.7,132.1 237.6,132.2 234.5,132.3 231.4,132.4 228.3,132.6 225.2,132.7 222.1,132.9 219,133.1 216,133.3 212.9,133.6 209.8,133.8 206.7,134.2 203.6,134.5 200.6,135 197.5,135.5 194.5,136.1 191.4,136.8 188.5,137.6 185.5,138.4 182.5,139.3 179.5,140.2 176.6,141.2 173.7,142.2 170.9,143.5 168.2,145.1 165.8,147.1 163.7,149.3 161.8,151.8 160.3,154.5 159,157.3 157.9,160.2 156.9,163.1 156,166 155.1,169 154.3,172 153.5,175 152.7,178 152,181 151.4,184 150.7,187.1 150.1,190.1 149.5,193.2 149,196.2 149,200 150.3,209.2 151.7,212.3 153,207.5 154.4,206.7 155.7,205 157,208.1 158.4,211.2 159.7,210.1 161.1,205.9 162.4,206.1 163.7,206.8 165.1,208.6 166.4,207.5 167.7,208.4 169.1,208.6 170.4,207.3 171.8,207.9 173.1,208.4 174.4,207.8 175.8,209.1 177.1,213.2 177.1,212 177.1,209.1 177.1,206.2 177.2,203.4 177.3,200.5 177.4,197.6 177.6,194.7 177.9,191.9 178.3,189 178.7,186.1 179.3,183.3 179.9,180.5 180.6,177.7 181.2,174.9 181.9,172.1 182.6,169.3 183.3,166.5 184.1,163.7 184.8,160.9 185.6,158.1 186.4,155.4 187.3,152.6 188.4,150 190,147.6 191.9,145.4 194,143.5 196.3,141.7 198.8,140.3 201.5,139.2 204.2,138.3 206.9,137.5 209.7,136.9 212.6,136.4 215.4,135.9 218.3,135.5 221.1,135.1 224,134.7 226.8,134.3 229.7,133.9 232.6,133.5 235.4,133.2 238.3,132.8 241.2,132.5 244,132.2 246.9,131.9"/><path d="M246.9,131.9 243.8,131.9 240.6,132 237.5,132 234.3,132.1 231.2,132.1 228,132.2 224.9,132.4 221.7,132.5 218.6,132.7 215.4,132.8 212.3,133 209.2,133.3 206,133.6 202.9,133.9 199.8,134.3 196.7,134.8 193.6,135.5 190.5,136.2 187.5,137 184.4,137.9 181.4,138.7 178.4,139.6 175.4,140.6 172.4,141.6 169.5,142.8 166.9,144.5 164.4,146.4 162.2,148.7 160.2,151.1 158.6,153.8 157.1,156.6 155.8,159.5 154.8,162.5 153.8,165.4 152.9,168.5 152.1,171.5 151.3,174.6 150.6,177.6 149.9,180.7 149.3,183.8 148.7,186.9 148.2,190 147.7,193.1 147.2,196.2 147.2,199.1 148.7,202.3 150.1,200.1 151.6,199.3 153.1,201.7 154.6,201.4 156,199.3 157.5,202.1 159,199.3 160.5,204.3 162,204.2 163.4,204.2 164.9,200.8 166.4,203 167.9,201.5 169.3,201 170.8,201.1 172.3,199 173.8,198.7 175.2,203.6 176.7,201.4 178.2,220.7 178.2,212 178.3,209.2 178.4,206.3 178.5,203.5 178.6,200.6 178.8,197.8 179.1,194.9 179.4,192.1 179.8,189.3 180.2,186.5 180.8,183.7 181.3,180.9 181.9,178.1 182.6,175.3 183.2,172.5 183.9,169.7 184.6,167 185.3,164.2 186.1,161.5 186.8,158.7 187.6,156 188.4,153.2 189.5,150.6 191,148.2 192.8,146 194.9,144 197.1,142.3 199.6,140.9 202.1,139.7 204.7,138.6 207.4,137.7 210.2,137 213,136.4 215.8,136 218.6,135.5 221.4,135.1 224.2,134.7 227.1,134.3 229.9,133.9 232.7,133.5 235.6,133.2 238.4,132.8 241.2,132.5 244.1,132.2 246.9,131.9"/><path d="M246.9,131.9 243.8,132 240.7,132 237.5,132.1 234.4,132.2 231.3,132.3 228.2,132.4 225.1,132.6 222,132.7 218.8,132.9 215.7,133.1 212.6,133.3 209.5,133.6 206.4,133.9 203.3,134.3 200.2,134.7 197.1,135.2 194.1,135.8 191,136.5 188,137.3 185,138.2 182,139 179,139.9 176.1,140.9 173.1,142 170.3,143.2 167.6,144.8 165.2,146.8 163,149 161.1,151.5 159.5,154.2 158.2,157 157,159.9 155.9,162.8 155,165.8 154.1,168.8 153.3,171.8 152.5,174.8 151.8,177.8 151.1,180.9 150.5,183.9 149.8,187 149.2,190.1 148.7,193.1 148.2,196.2 148.2,204.5 149.7,198.6 151.3,205.7 152.8,204.1 154.4,205.7 156,201.9 157.5,202.1 159.1,200.3 160.6,208.3 162.2,202.3 163.7,206.2 165.3,201.3 166.8,203.1 168.4,199.1 169.9,201.9 171.5,204.9 173,200 174.6,205.1 176.1,203.5 177.7,200.4 179.2,201.6 180.8,217 180.8,212 181.1,209.2 181.4,206.5 181.7,203.7 182,201 182.3,198.2 182.7,195.5 183,192.7 183.4,190 183.9,187.2 184.3,184.5 184.8,181.8 185.3,179 185.9,176.3 186.4,173.6 187,170.9 187.6,168.2 188.3,165.5 189,162.8 189.8,160.1 190.5,157.4 191.3,154.8 192.3,152.2 193.5,149.7 195,147.4 196.9,145.4 199.2,143.8 201.5,142.2 203.8,140.8 206.2,139.3 208.6,138.1 211.2,137.1 213.9,136.6 216.7,136.1 219.4,135.7 222.1,135.2 224.9,134.8 227.6,134.3 230.4,133.9 233.1,133.5 235.9,133.2 238.6,132.8 241.4,132.5 244.1,132.2 246.9,131.9"/><path d="M246.9,131.9 243.8,132 240.8,132.2 237.7,132.3 234.6,132.4 231.6,132.6 228.5,132.8 225.4,132.9 222.4,133.1 219.3,133.4 216.3,133.6 213.2,133.8 210.1,134.1 207.1,134.5 204,134.9 201,135.3 198,135.9 195,136.4 192,137.1 189,137.9 186,138.7 183.1,139.5 180.2,140.5 177.3,141.5 174.4,142.6 171.6,143.9 169,145.5 166.6,147.4 164.5,149.6 162.7,152.1 161.3,154.8 160.1,157.6 159.1,160.5 158.1,163.4 157.2,166.4 156.3,169.3 155.5,172.3 154.7,175.2 154,178.2 153.2,181.2 152.5,184.2 151.9,187.2 151.2,190.2 150.6,193.2 150,196.2 150,198.5 151.5,207.2 152.9,204.2 154.3,208.7 155.8,203.7 157.2,206.2 158.6,204.9 160.1,203.7 161.5,206.7 162.9,205 164.4,206.7 165.8,205.3 167.2,203 168.7,205.1 170.1,205.5 171.6,207.5 173,203.4 174.4,205.3 175.9,201.6 177.3,206.8 178.7,203 180.2,215.5 180.2,212 180.4,209.2 180.6,206.4 180.9,203.7 181.2,200.9 181.5,198.1 181.8,195.3 182.2,192.6 182.5,189.8 183,187 183.5,184.3 184,181.5 184.5,178.8 185.1,176.1 185.6,173.3 186.3,170.6 186.9,167.9 187.6,165.2 188.3,162.5 189.1,159.8 189.8,157.1 190.6,154.4 191.6,151.8 192.9,149.3 194.5,147.1 196.4,145.1 198.7,143.4 201,141.9 203.4,140.5 205.8,139.2 208.3,138 211,137.1 213.7,136.5 216.5,136.1 219.2,135.6 222,135.2 224.7,134.7 227.5,134.3 230.3,133.9 233,133.5 235.8,133.2 238.6,132.8 241.3,132.5 244.1,132.2 246.9,131.9"/><path d="M246.9,131.9 243.9,132.1 240.9,132.3 237.9,132.5 234.8,132.7 231.8,132.9 228.8,133.1 225.8,133.3 222.8,133.5 219.8,133.8 216.8,134 213.7,134.3 210.7,134.7 207.7,135 204.8,135.5 201.8,135.9 198.8,136.5 195.8,137.1 192.9,137.7 189.9,138.4 187,139.2 184.1,140 181.3,141 178.4,142.1 175.6,143.2 172.9,144.5 170.3,146.1 168,148 166,150.2 164.3,152.7 162.9,155.4 161.9,158.3 161,161.2 160.1,164 159.3,166.9 158.4,169.8 157.6,172.7 156.8,175.7 156,178.6 155.3,181.5 154.5,184.4 153.8,187.4 153.1,190.3 152.4,193.3 151.8,196.2 151.8,201.9 153,202.6 154.2,199.5 155.4,199 156.6,197.6 157.8,205.7 159,200.9 160.2,202.2 161.4,201.6 162.6,202 163.8,201.7 165,205.8 166.2,199.3 167.4,198.2 168.6,199.4 169.8,198.7 171,203.3 172.2,203.4 173.4,199.5 174.6,198.6 175.8,200.9 177,216.9 177,212 177,209.1 177,206.2 177,203.3 177.1,200.5 177.2,197.6 177.4,194.7 177.7,191.8 178.1,189 178.6,186.1 179.1,183.3 179.7,180.5 180.4,177.6 181,174.8 181.7,172 182.4,169.2 183.2,166.4 183.9,163.6 184.7,160.9 185.5,158.1 186.3,155.3 187.1,152.5 188.3,149.9 189.8,147.5 191.8,145.3 193.9,143.4 196.2,141.7 198.7,140.2 201.4,139.2 204.1,138.2 206.9,137.5 209.7,136.9 212.5,136.4 215.4,135.9 218.2,135.5 221.1,135.1 224,134.7 226.8,134.2 229.7,133.9 232.5,133.5 235.4,133.2 238.3,132.8 241.2,132.5 244,132.2 246.9,131.9"/><path d="M246.9,131.9 243.8,132 240.7,132.1 237.7,132.3 234.6,132.4 231.5,132.5 228.4,132.7 225.4,132.9 222.3,133.1 219.2,133.3 216.1,133.5 213.1,133.7 210,134 207,134.4 203.9,134.8 200.8,135.2 197.8,135.7 194.8,136.3 191.8,137 188.8,137.8 185.8,138.6 182.9,139.4 179.9,140.4 177,141.4 174.2,142.5 171.3,143.7 168.7,145.3 166.4,147.3 164.2,149.5 162.4,152 160.9,154.7 159.7,157.5 158.6,160.4 157.7,163.3 156.8,166.3 155.9,169.2 155.1,172.2 154.3,175.2 153.5,178.1 152.8,181.1 152.1,184.1 151.5,187.1 150.8,190.2 150.2,193.2 149.7,196.2 149.7,203.1 150.9,195.4 152.2,198.7 153.4,199.5 154.7,199.4 155.9,199.4 157.2,197.1 158.5,199.4 159.7,199.5 161,202.4 162.2,203.7 163.5,199.3 164.8,197.9 166,199.4 167.3,198.2 168.5,197.9 169.8,199.4 171.1,197.3 172.3,200.9 173.6,199.3 174.8,200.1 176.1,220.3 176.1,212 176,209.1 175.9,206.2 175.9,203.3 175.9,200.3 176,197.4 176.2,194.5 176.4,191.6 176.8,188.7 177.3,185.8 177.9,183 178.5,180.1 179.2,177.3 179.9,174.5 180.6,171.7 181.4,168.8 182.1,166 182.9,163.2 183.7,160.4 184.5,157.6 185.3,154.8 186.2,152 187.3,149.3 189,146.9 191,144.8 193.2,142.9 195.5,141.2 198.1,139.8 200.8,138.8 203.6,138 206.5,137.3 209.3,136.8 212.2,136.4 215.1,135.9 218,135.5 220.8,135 223.7,134.6 226.6,134.2 229.5,133.9 232.4,133.5 235.3,133.2 238.2,132.8 241.1,132.5 244,132.2 246.9,131.9"/><path d="M246.9,131.9 243.8,132 240.7,132.1 237.6,132.2 234.5,132.3 231.4,132.4 228.3,132.6 225.2,132.7 222.2,132.9 219.1,133.1 216,133.3 212.9,133.6 209.8,133.9 206.7,134.2 203.6,134.6 200.6,135 197.5,135.5 194.5,136.1 191.5,136.8 188.5,137.6 185.5,138.4 182.5,139.3 179.6,140.2 176.6,141.2 173.7,142.3 170.9,143.5 168.3,145.1 165.9,147.1 163.7,149.3 161.9,151.8 160.3,154.5 159.1,157.3 158,160.2 156.9,163.1 156,166.1 155.2,169 154.3,172 153.5,175 152.8,178 152.1,181 151.4,184.1 150.8,187.1 150.2,190.1 149.6,193.2 149,196.2 149,207.1 150.4,200.5 151.7,200.6 153.1,199.9 154.4,199.3 155.7,199.5 157.1,198.1 158.4,199.7 159.7,199.1 161.1,200.5 162.4,197.6 163.7,200.8 165.1,200.6 166.4,200 167.7,199.3 169.1,201.5 170.4,196.6 171.8,201.3 173.1,200.8 174.4,200.9 175.8,201.1 177.1,218 177.1,212 177.1,209.1 177.1,206.2 177.1,203.4 177.2,200.5 177.4,197.6 177.6,194.7 177.9,191.8 178.2,189 178.7,186.1 179.3,183.3 179.9,180.5 180.5,177.7 181.2,174.9 181.9,172.1 182.6,169.3 183.3,166.5 184,163.7 184.8,160.9 185.6,158.1 186.4,155.4 187.3,152.6 188.4,150 189.9,147.5 191.9,145.4 194,143.4 196.3,141.7 198.8,140.3 201.4,139.2 204.2,138.3 206.9,137.5 209.7,136.9 212.6,136.4 215.4,135.9 218.3,135.5 221.1,135.1 224,134.7 226.8,134.3 229.7,133.9 232.6,133.5 235.4,133.2 238.3,132.8 241.2,132.5 244,132.2 246.9,131.9"/><path d="M246.9,131.9 243.9,132.1 240.9,132.3 237.9,132.5 234.8,132.7 231.8,132.9 228.8,133.1 225.8,133.3 222.8,133.6 219.8,133.8 216.8,134.1 213.8,134.4 210.8,134.7 207.8,135.1 204.8,135.5 201.8,136 198.8,136.5 195.9,137.1 192.9,137.7 190,138.4 187.1,139.2 184.2,140.1 181.3,141 178.5,142.1 175.7,143.2 173,144.5 170.4,146.1 168.1,148.1 166,150.3 164.3,152.7 163,155.4 162,158.3 161.1,161.2 160.2,164.1 159.4,167 158.5,169.9 157.7,172.8 156.9,175.7 156.1,178.6 155.4,181.5 154.6,184.4 153.9,187.4 153.2,190.3 152.5,193.3 151.8,196.2 151.8,201.2 153.1,196.3 154.5,202.7 155.8,198.6 157.1,199 158.4,200.4 159.7,204.6 161,201 162.3,202.4 163.6,205.7 164.9,205.3 166.2,201.6 167.5,201.3 168.8,199.1 170.1,200.3 171.4,202.8 172.8,202.7 174.1,202.1 175.4,204 176.7,200.1 178,201.7 179.3,216 179.3,212 179.5,209.2 179.6,206.4 179.8,203.6 180,200.8 180.3,198 180.6,195.2 180.9,192.4 181.3,189.6 181.8,186.8 182.3,184 182.8,181.2 183.4,178.5 183.9,175.7 184.6,173 185.2,170.2 185.9,167.5 186.6,164.8 187.3,162 188.1,159.3 188.8,156.6 189.6,153.9 190.7,151.3 192,148.8 193.7,146.6 195.7,144.6 198,142.9 200.4,141.5 202.8,140.1 205.3,138.9 207.9,137.8 210.6,137 213.4,136.5 216.2,136.1 218.9,135.6 221.7,135.1 224.5,134.7 227.3,134.3 230.1,133.9 232.9,133.5 235.7,133.2 238.5,132.8 241.3,132.5 244.1,132.2 246.9,131.9"/><path d="M246.9,131.9 243.8,132 240.7,132.1 237.7,132.3 234.6,132.4 231.5,132.5 228.4,132.7 225.4,132.9 222.3,133.1 219.2,133.3 216.2,133.5 213.1,133.8 210,134 207,134.4 203.9,134.8 200.9,135.2 197.8,135.7 194.8,136.3 191.8,137 188.8,137.8 185.9,138.6 182.9,139.5 180,140.4 177.1,141.4 174.2,142.5 171.4,143.7 168.8,145.4 166.4,147.3 164.2,149.5 162.4,152 160.9,154.7 159.7,157.5 158.7,160.4 157.7,163.3 156.8,166.3 155.9,169.2 155.1,172.2 154.3,175.2 153.6,178.1 152.8,181.1 152.2,184.1 151.5,187.1 150.9,190.2 150.3,193.2 149.7,196.2 149.7,206.8 151,199.9 152.2,199.3 153.5,196.2 154.7,200.5 156,203.2 157.3,202 158.5,199.9 159.8,201.2 161,202.9 162.3,195.1 163.6,200.9 164.8,202.4 166.1,202.7 167.3,205 168.6,203.7 169.9,201.9 171.1,201.9 172.4,202.9 173.6,200 174.9,201.1 176.2,214.6 176.2,212 176.1,209.1 176,206.2 176,203.3 176,200.4 176.1,197.4 176.3,194.5 176.5,191.6 176.9,188.7 177.4,185.9 178,183 178.6,180.2 179.3,177.3 180,174.5 180.7,171.7 181.5,168.9 182.2,166 183,163.2 183.7,160.4 184.6,157.6 185.4,154.8 186.2,152 187.4,149.4 189.1,147 191.1,144.9 193.2,142.9 195.6,141.2 198.1,139.8 200.9,138.8 203.6,138 206.5,137.4 209.4,136.8 212.2,136.4 215.1,135.9 218,135.5 220.9,135 223.8,134.6 226.6,134.2 229.5,133.9 232.4,133.5 235.3,133.2 238.2,132.8 241.1,132.5 244,132.2 246.9,131.9"/><path d="M246.9,131.9 243.8,132 240.7,132 237.6,132.1 234.4,132.2 231.3,132.3 228.2,132.4 225.1,132.6 222,132.7 218.9,132.9 215.8,133.1 212.6,133.4 209.5,133.6 206.4,133.9 203.3,134.3 200.3,134.7 197.2,135.2 194.1,135.8 191.1,136.6 188.1,137.4 185.1,138.2 182.1,139.1 179.1,140 176.1,140.9 173.2,142 170.3,143.2 167.7,144.9 165.3,146.8 163.1,149 161.2,151.5 159.6,154.2 158.3,157 157.1,159.9 156.1,162.8 155.1,165.8 154.2,168.8 153.4,171.8 152.6,174.8 151.9,177.9 151.2,180.9 150.6,183.9 150,187 149.4,190.1 148.8,193.1 148.3,196.2 148.3,199.4 149.8,204.3 151.3,205.7 152.8,208.4 154.4,206.2 155.9,204.3 157.4,210 158.9,208.8 160.4,208.8 161.9,206.6 163.4,209.9 164.9,207.1 166.4,210.1 168,205.7 169.5,205.8 171,208.1 172.5,206.1 174,209.2 175.5,208.2 177,205.6 178.5,207.8 180.1,220 180.1,212 180.3,209.2 180.5,206.4 180.7,203.7 181,200.9 181.3,198.1 181.6,195.3 182,192.5 182.4,189.8 182.8,187 183.3,184.3 183.8,181.5 184.3,178.8 184.9,176 185.5,173.3 186.1,170.6 186.8,167.8 187.5,165.1 188.2,162.4 188.9,159.7 189.7,157 190.5,154.4 191.5,151.8 192.8,149.3 194.4,147 196.3,145 198.6,143.4 200.9,141.9 203.3,140.4 205.8,139.1 208.3,138 210.9,137.1 213.7,136.5 216.4,136.1 219.2,135.6 221.9,135.2 224.7,134.7 227.5,134.3 230.2,133.9 233,133.5 235.8,133.2 238.6,132.8 241.3,132.5 244.1,132.2 246.9,131.9"/><path d="M246.9,131.9 243.9,132.1 240.8,132.2 237.8,132.4 234.8,132.6 231.7,132.8 228.7,133 225.7,133.2 222.6,133.4 219.6,133.6 216.6,133.9 213.5,134.2 210.5,134.5 207.5,134.8 204.5,135.2 201.5,135.7 198.5,136.2 195.5,136.8 192.5,137.5 189.6,138.2 186.6,139 183.7,139.9 180.9,140.8 178,141.8 175.2,143 172.4,144.2 169.8,145.8 167.5,147.8 165.4,150 163.7,152.5 162.3,155.2 161.2,158 160.3,160.9 159.4,163.8 158.5,166.7 157.7,169.6 156.8,172.6 156,175.5 155.2,178.4 154.5,181.4 153.8,184.3 153.1,187.3 152.4,190.3 151.7,193.2 151.1,196.2 151.1,203.1 152.3,200.7 153.6,197.8 154.8,196 156,196.5 157.3,201.1 158.5,198 159.7,199.3 160.9,200.1 162.2,201 163.4,198.9 164.6,200.8 165.9,197.7 167.1,198.9 168.3,197.4 169.6,202.1 170.8,199.6 172,198 173.3,198.9 174.5,199.2 175.7,201.2 176.9,213.5 176.9,212 176.9,209.1 176.9,206.2 176.9,203.3 177,200.5 177.2,197.6 177.4,194.7 177.6,191.8 178,188.9 178.5,186.1 179.1,183.3 179.7,180.4 180.3,177.6 181,174.8 181.7,172 182.4,169.2 183.1,166.4 183.9,163.6 184.6,160.8 185.4,158.1 186.2,155.3 187.1,152.5 188.2,149.9 189.8,147.5 191.7,145.3 193.9,143.4 196.2,141.6 198.7,140.2 201.4,139.1 204.1,138.2 206.8,137.5 209.7,136.9 212.5,136.4 215.4,135.9 218.2,135.5 221.1,135.1 223.9,134.6 226.8,134.2 229.7,133.9 232.5,133.5 235.4,133.2 238.3,132.8 241.2,132.5 244,132.2 246.9,131.9"/><path d="M246.9,131.9 243.8,132 240.6,132 237.5,132.1 234.4,132.2 231.3,132.2 228.1,132.4 225,132.5 221.9,132.7 218.8,132.8 215.6,133 212.5,133.2 209.4,133.5 206.3,133.8 203.2,134.2 200.1,134.6 197,135.1 193.9,135.7 190.9,136.4 187.9,137.2 184.8,138.1 181.8,138.9 178.8,139.8 175.9,140.8 172.9,141.8 170,143.1 167.4,144.7 164.9,146.7 162.7,148.9 160.8,151.4 159.2,154.1 157.8,156.9 156.6,159.7 155.6,162.7 154.6,165.7 153.7,168.7 152.9,171.7 152.1,174.7 151.4,177.8 150.7,180.8 150.1,183.9 149.5,187 148.9,190 148.4,193.1 147.9,196.2 147.9,199.4 149.3,207.8 150.7,205.3 152.1,205.5 153.4,199.6 154.8,205.4 156.2,203.6 157.6,205 159,205.5 160.4,203.3 161.8,200.3 163.2,204.8 164.6,202.4 166,203.3 167.3,202.7 168.7,203.3 170.1,199 171.5,206.7 172.9,204.6 174.3,206.5 175.7,208.4 177.1,219.3 177.1,212 177.1,209.1 177.1,206.2 177.1,203.4 177.2,200.5 177.3,197.6 177.5,194.7 177.8,191.8 178.2,189 178.7,186.1 179.2,183.3 179.9,180.5 180.5,177.7 181.2,174.9 181.8,172.1 182.5,169.3 183.3,166.5 184,163.7 184.8,160.9 185.6,158.1 186.4,155.3 187.2,152.6 188.4,149.9 189.9,147.5 191.8,145.4 194,143.4 196.3,141.7 198.8,140.3 201.4,139.2 204.1,138.3 206.9,137.5 209.7,136.9 212.6,136.4 215.4,135.9 218.3,135.5 221.1,135.1 224,134.7 226.8,134.3 229.7,133.9 232.6,133.5 235.4,133.2 238.3,132.8 241.2,132.5 244,132.2 246.9,131.9"/><path d="M246.9,131.9 243.8,132 240.6,132 237.5,132.1 234.4,132.2 231.3,132.2 228.1,132.4 225,132.5 221.9,132.7 218.8,132.8 215.6,133 212.5,133.3 209.4,133.5 206.3,133.8 203.2,134.2 200.1,134.6 197,135.1 193.9,135.7 190.9,136.4 187.9,137.2 184.9,138.1 181.8,138.9 178.9,139.9 175.9,140.8 172.9,141.9 170.1,143.1 167.4,144.7 165,146.7 162.8,148.9 160.9,151.4 159.2,154.1 157.9,156.9 156.7,159.8 155.6,162.7 154.7,165.7 153.8,168.7 153,171.7 152.2,174.7 151.4,177.8 150.8,180.8 150.1,183.9 149.5,187 148.9,190 148.4,193.1 147.9,196.2 147.9,202.6 149.4,199.3 150.8,199.1 152.2,196.8 153.7,200.4 155.1,204.5 156.6,204.8 158,203.4 159.4,202 160.9,199 162.3,203.7 163.8,200.4 165.2,200.3 166.6,199.8 168.1,200.7 169.5,199.5 171,200.3 172.4,198.1 173.8,199.7 175.3,205.5 176.7,200.3 178.2,217.4 178.2,212 178.2,209.2 178.3,206.3 178.4,203.5 178.6,200.6 178.8,197.8 179,194.9 179.4,192.1 179.7,189.3 180.2,186.5 180.7,183.7 181.3,180.9 181.9,178.1 182.5,175.3 183.2,172.5 183.9,169.7 184.6,167 185.3,164.2 186,161.5 186.8,158.7 187.6,156 188.4,153.2 189.5,150.6 191,148.2 192.8,146 194.8,144 197.1,142.3 199.6,140.9 202.1,139.7 204.7,138.6 207.4,137.7 210.2,137 213,136.4 215.8,136 218.6,135.5 221.4,135.1 224.2,134.7 227.1,134.3 229.9,133.9 232.7,133.5 235.6,133.2 238.4,132.8 241.2,132.5 244.1,132.2 246.9,131.9"/><path d="M246.9,131.9 243.8,132 240.6,132 237.5,132.1 234.4,132.1 231.2,132.2 228.1,132.3 224.9,132.4 221.8,132.6 218.7,132.8 215.6,132.9 212.4,133.2 209.3,133.4 206.2,133.7 203.1,134.1 199.9,134.5 196.8,135 193.8,135.6 190.7,136.3 187.7,137.1 184.7,138 181.7,138.9 178.6,139.8 175.7,140.7 172.7,141.7 169.8,143 167.2,144.6 164.7,146.6 162.5,148.8 160.6,151.3 158.9,154 157.5,156.8 156.3,159.6 155.2,162.6 154.3,165.6 153.4,168.6 152.6,171.6 151.8,174.7 151.1,177.7 150.4,180.8 149.8,183.8 149.2,186.9 148.6,190 148.1,193.1 147.6,196.2 147.6,207.6 149.1,202.9 150.6,205.7 152.1,206 153.6,208.6 155.1,208.5 156.6,210.2 158.1,203.7 159.6,208.8 161.1,206.5 162.6,205.7 164.1,208.3 165.6,205.1 167.1,202.6 168.6,206.3 170.1,203.9 171.6,205.7 173.1,208 174.6,207.8 176.1,210.6 177.6,206.7 179.1,220.5 179.1,212 179.2,209.2 179.4,206.4 179.5,203.6 179.7,200.7 180,197.9 180.3,195.1 180.6,192.3 181,189.5 181.4,186.7 181.9,183.9 182.5,181.2 183.1,178.4 183.7,175.6 184.3,172.9 184.9,170.1 185.6,167.4 186.3,164.6 187.1,161.9 187.8,159.2 188.6,156.5 189.4,153.8 190.5,151.1 191.8,148.7 193.5,146.5 195.5,144.5 197.8,142.8 200.2,141.3 202.7,140 205.2,138.8 207.8,137.8 210.5,137 213.3,136.5 216.1,136 218.9,135.6 221.7,135.1 224.5,134.7 227.3,134.3 230.1,133.9 232.9,133.5 235.7,133.2 238.5,132.8 241.3,132.5 244.1,132.2 246.9,131.9"/><path d="M246.9,131.9 243.8,132 240.7,132.1 237.6,132.2 234.5,132.2 231.4,132.4 228.3,132.5 225.2,132.6 222.1,132.8 219,133 215.8,133.2 212.7,133.5 209.7,133.7 206.6,134 203.5,134.4 200.4,134.8 197.3,135.4 194.3,136 191.3,136.7 188.2,137.5 185.3,138.3 182.3,139.1 179.3,140.1 176.3,141 173.4,142.1 170.6,143.3 167.9,145 165.5,146.9 163.3,149.2 161.5,151.6 159.9,154.3 158.6,157.1 157.5,160 156.4,162.9 155.5,165.9 154.6,168.9 153.8,171.9 153,174.9 152.3,177.9 151.6,181 150.9,184 150.3,187 149.7,190.1 149.1,193.1 148.6,196.2 148.6,204 150,204.3 151.4,203 152.7,205.6 154.1,203.8 155.4,203.8 156.8,203.8 158.2,199.7 159.5,202.5 160.9,202.3 162.3,203.4 163.6,199.9 165,206.5 166.4,203.1 167.7,200.2 169.1,199.1 170.5,202.3 171.8,202.7 173.2,201.3 174.6,203.1 175.9,201.5 177.3,214.3 177.3,212 177.3,209.1 177.3,206.3 177.4,203.4 177.5,200.5 177.7,197.6 177.9,194.8 178.1,191.9 178.5,189 179,186.2 179.6,183.4 180.2,180.6 180.8,177.8 181.4,175 182.1,172.2 182.8,169.4 183.5,166.6 184.3,163.8 185.1,161 185.8,158.2 186.6,155.5 187.5,152.7 188.6,150.1 190.1,147.7 192,145.5 194.1,143.6 196.5,141.8 199,140.4 201.6,139.3 204.3,138.3 207,137.5 209.8,136.9 212.6,136.4 215.5,136 218.3,135.5 221.2,135.1 224,134.7 226.9,134.3 229.7,133.9 232.6,133.5 235.5,133.2 238.3,132.8 241.2,132.5 244,132.2 246.9,131.9"/><path d="M246.9,131.9 243.9,132.1 240.9,132.3 237.8,132.4 234.8,132.6 231.8,132.8 228.8,133.1 225.8,133.3 222.8,133.5 219.7,133.8 216.7,134 213.7,134.3 210.7,134.6 207.7,135 204.7,135.4 201.7,135.9 198.7,136.4 195.8,137 192.8,137.7 189.9,138.3 187,139.1 184.1,140 181.2,141 178.4,142 175.6,143.2 172.8,144.4 170.2,146 167.9,148 165.9,150.2 164.2,152.7 162.8,155.4 161.8,158.2 160.9,161.1 160,164 159.2,166.9 158.3,169.8 157.5,172.7 156.7,175.6 155.9,178.6 155.1,181.5 154.4,184.4 153.7,187.4 153,190.3 152.3,193.2 151.7,196.2 151.7,200.2 152.9,199.2 154.2,200.2 155.4,196.7 156.7,198.1 157.9,200.4 159.2,201.6 160.4,200.9 161.7,197.4 162.9,200.3 164.2,203 165.4,202.5 166.7,201.1 167.9,199.3 169.2,202.7 170.4,200 171.7,198.7 173,199.5 174.2,204.5 175.5,201.8 176.7,203.8 178,218.4 178,212 178,209.1 178.1,206.3 178.2,203.4 178.3,200.6 178.5,197.7 178.8,194.9 179.1,192.1 179.5,189.2 179.9,186.4 180.5,183.6 181,180.8 181.7,178 182.3,175.2 182.9,172.4 183.6,169.7 184.3,166.9 185.1,164.1 185.8,161.4 186.6,158.6 187.4,155.9 188.2,153.1 189.3,150.5 190.8,148.1 192.6,145.9 194.7,143.9 197,142.2 199.4,140.8 202,139.6 204.6,138.5 207.3,137.6 210.1,136.9 212.9,136.4 215.7,136 218.5,135.5 221.4,135.1 224.2,134.7 227,134.3 229.9,133.9 232.7,133.5 235.5,133.2 238.4,132.8 241.2,132.5 244.1,132.2 246.9,131.9"/><path d="M246.9,131.9 243.8,132 240.7,132.1 237.6,132.2 234.5,132.2 231.4,132.4 228.3,132.5 225.2,132.6 222.1,132.8 219,133 215.8,133.2 212.7,133.5 209.7,133.7 206.6,134 203.5,134.4 200.4,134.8 197.3,135.4 194.3,136 191.3,136.7 188.2,137.5 185.2,138.3 182.3,139.1 179.3,140.1 176.3,141 173.4,142.1 170.6,143.3 167.9,145 165.5,146.9 163.3,149.2 161.5,151.6 159.9,154.3 158.6,157.1 157.5,160 156.4,162.9 155.5,165.9 154.6,168.9 153.8,171.9 153,174.9 152.3,177.9 151.6,181 150.9,184 150.3,187 149.7,190.1 149.1,193.1 148.6,196.2 148.6,198.9 150,201 151.3,201.2 152.7,203.9 154,201.7 155.4,202.8 156.7,198.6 158.1,202.9 159.4,205.6 160.8,202.7 162.1,201.5 163.5,201.3 164.8,204.9 166.2,198.9 167.5,200.7 168.9,202 170.2,202.6 171.6,200 172.9,201.6 174.3,200.4 175.6,201.2 177,213.2 177,212 177,209.1 176.9,206.2 177,203.3 177.1,200.5 177.2,197.6 177.4,194.7 177.7,191.8 178,189 178.5,186.1 179.1,183.3 179.7,180.4 180.4,177.6 181,174.8 181.7,172 182.4,169.2 183.1,166.4 183.9,163.6 184.7,160.8 185.5,158.1 186.3,155.3 187.1,152.5 188.2,149.9 189.8,147.5 191.7,145.3 193.9,143.4 196.2,141.7 198.7,140.2 201.4,139.1 204.1,138.2 206.9,137.5 209.7,136.9 212.5,136.4 215.4,135.9 218.2,135.5 221.1,135.1 223.9,134.6 226.8,134.2 229.7,133.9 232.5,133.5 235.4,133.2 238.3,132.8 241.2,132.5 244,132.2 246.9,131.9"/><path d="M246.9,131.9 243.9,132.1 240.8,132.2 237.8,132.4 234.7,132.5 231.7,132.7 228.7,132.9 225.6,133.1 222.6,133.3 219.5,133.6 216.5,133.8 213.5,134.1 210.4,134.4 207.4,134.8 204.4,135.2 201.4,135.6 198.4,136.2 195.4,136.7 192.4,137.4 189.5,138.1 186.5,138.9 183.6,139.8 180.7,140.7 177.8,141.8 175,142.9 172.2,144.2 169.6,145.8 167.3,147.7 165.2,149.9 163.5,152.4 162.1,155.1 161,157.9 160,160.8 159.1,163.7 158.2,166.7 157.4,169.6 156.5,172.5 155.7,175.4 155,178.4 154.2,181.3 153.5,184.3 152.8,187.3 152.1,190.2 151.5,193.2 150.9,196.2 150.9,202.6 152.1,200.7 153.4,202.8 154.7,201.5 155.9,201.4 157.2,204.6 158.4,198.3 159.7,203.5 161,201.1 162.2,204.3 163.5,201.6 164.7,199.7 166,201.8 167.3,202.8 168.5,201.3 169.8,202.3 171.1,200 172.3,196.5 173.6,203.2 174.8,202.7 176.1,201.5 177.4,220.6 177.4,212 177.4,209.1 177.4,206.3 177.4,203.4 177.6,200.5 177.7,197.6 177.9,194.8 178.2,191.9 178.6,189.1 179.1,186.2 179.6,183.4 180.2,180.6 180.9,177.8 181.5,175 182.2,172.2 182.9,169.4 183.6,166.6 184.3,163.8 185.1,161 185.9,158.3 186.7,155.5 187.5,152.8 188.7,150.1 190.2,147.7 192.1,145.5 194.2,143.6 196.5,141.9 199,140.4 201.6,139.3 204.3,138.3 207,137.5 209.8,136.9 212.7,136.4 215.5,136 218.4,135.5 221.2,135.1 224,134.7 226.9,134.3 229.7,133.9 232.6,133.5 235.5,133.2 238.3,132.8 241.2,132.5 244,132.2 246.9,131.9"/><path d="M246.9,131.9 243.8,132 240.7,132 237.6,132.1 234.4,132.2 231.3,132.3 228.2,132.4 225.1,132.6 222,132.8 218.9,132.9 215.8,133.1 212.7,133.4 209.6,133.6 206.5,134 203.4,134.3 200.3,134.8 197.2,135.3 194.1,135.9 191.1,136.6 188.1,137.4 185.1,138.2 182.1,139.1 179.1,140 176.2,140.9 173.2,142 170.4,143.2 167.7,144.9 165.3,146.9 163.1,149.1 161.3,151.5 159.7,154.2 158.3,157 157.2,159.9 156.1,162.9 155.2,165.8 154.3,168.8 153.5,171.8 152.7,174.8 152,177.9 151.3,180.9 150.6,184 150,187 149.4,190.1 148.9,193.1 148.4,196.2 148.4,202.9 149.8,200.7 151.2,198 152.6,200.1 154.1,202.9 155.5,203.5 156.9,200 158.4,201.8 159.8,202.5 161.2,199.5 162.6,201.7 164.1,200.8 165.5,199.7 166.9,199.8 168.4,201 169.8,201 171.2,199.6 172.6,200 174.1,203.3 175.5,201.4 176.9,202.8 178.4,219.7 178.4,212 178.4,209.2 178.5,206.3 178.7,203.5 178.8,200.6 179.1,197.8 179.3,195 179.6,192.1 180,189.3 180.5,186.5 181,183.7 181.6,180.9 182.2,178.1 182.8,175.4 183.4,172.6 184.1,169.8 184.8,167.1 185.5,164.3 186.3,161.6 187,158.8 187.8,156.1 188.6,153.3 189.7,150.7 191.1,148.3 192.9,146.1 195,144.1 197.3,142.4 199.7,141 202.2,139.7 204.8,138.6 207.5,137.7 210.2,137 213,136.5 215.8,136 218.7,135.6 221.5,135.1 224.3,134.7 227.1,134.3 229.9,133.9 232.7,133.5 235.6,133.2 238.4,132.8 241.2,132.5 244.1,132.2 246.9,131.9"/><path d="M246.9,131.9 243.8,132 240.7,132.1 237.6,132.2 234.5,132.3 231.4,132.4 228.3,132.5 225.2,132.7 222.1,132.9 219,133.1 215.9,133.3 212.8,133.5 209.7,133.8 206.7,134.1 203.6,134.5 200.5,134.9 197.4,135.4 194.4,136 191.4,136.7 188.4,137.5 185.4,138.3 182.4,139.2 179.4,140.1 176.5,141.1 173.6,142.2 170.8,143.4 168.1,145.1 165.7,147 163.5,149.2 161.7,151.7 160.1,154.4 158.9,157.2 157.7,160.1 156.7,163 155.8,166 154.9,169 154.1,172 153.3,175 152.6,178 151.9,181 151.2,184 150.6,187.1 150,190.1 149.4,193.1 148.9,196.2 148.9,199.5 150.4,206.1 151.9,207.3 153.4,207.7 155,206.1 156.5,208.5 158,201.3 159.6,207.7 161.1,204 162.6,208.4 164.1,205.8 165.7,204.3 167.2,207.1 168.7,204.3 170.3,204.3 171.8,202.8 173.3,206.2 174.8,207.4 176.4,208.5 177.9,206 179.4,208.6 181,219.2 181,212 181.3,209.2 181.6,206.5 181.9,203.7 182.2,201 182.5,198.3 182.9,195.5 183.3,192.8 183.7,190 184.1,187.3 184.5,184.5 185,181.8 185.5,179.1 186.1,176.4 186.6,173.7 187.2,171 187.8,168.3 188.5,165.6 189.2,162.9 190,160.2 190.7,157.5 191.5,154.9 192.5,152.3 193.6,149.8 195.1,147.5 197.1,145.5 199.3,143.9 201.6,142.3 203.9,140.8 206.3,139.4 208.7,138.1 211.3,137.1 214,136.6 216.7,136.1 219.5,135.7 222.2,135.2 224.9,134.8 227.7,134.3 230.4,133.9 233.1,133.5 235.9,133.2 238.6,132.8 241.4,132.5 244.1,132.2 246.9,131.9"/><path d="M246.9,131.9 243.9,132.1 240.8,132.2 237.8,132.4 234.7,132.6 231.7,132.7 228.7,132.9 225.6,133.1 222.6,133.4 219.6,133.6 216.5,133.8 213.5,134.1 210.5,134.4 207.5,134.8 204.4,135.2 201.4,135.7 198.4,136.2 195.5,136.8 192.5,137.4 189.5,138.2 186.6,138.9 183.7,139.8 180.8,140.8 177.9,141.8 175.1,142.9 172.3,144.2 169.8,145.8 167.4,147.8 165.3,150 163.6,152.5 162.2,155.2 161.1,158 160.2,160.9 159.2,163.8 158.4,166.7 157.5,169.6 156.7,172.5 155.9,175.5 155.1,178.4 154.4,181.4 153.7,184.3 153,187.3 152.3,190.3 151.6,193.2 151,196.2 151,200.3 152.2,203.7 153.5,203.7 154.7,201.9 156,207.3 157.2,203.7 158.5,206.8 159.7,205 161,201.4 162.2,202 163.5,203.8 164.7,203 166,203 167.2,202.2 168.5,198.9 169.7,202.4 171,198 172.2,203.7 173.5,201.3 174.7,201.3 176,202.4 177.2,212.8 177.2,212 177.2,209.1 177.3,206.2 177.3,203.4 177.4,200.5 177.6,197.6 177.8,194.7 178.1,191.9 178.4,189 178.9,186.2 179.5,183.4 180.1,180.5 180.7,177.7 181.4,174.9 182,172.1 182.7,169.3 183.5,166.5 184.2,163.8 185,161 185.8,158.2 186.6,155.4 187.4,152.7 188.5,150 190.1,147.6 192,145.5 194.1,143.5 196.4,141.8 198.9,140.4 201.5,139.3 204.2,138.3 207,137.5 209.8,136.9 212.6,136.4 215.5,136 218.3,135.5 221.2,135.1 224,134.7 226.9,134.3 229.7,133.9 232.6,133.5 235.4,133.2 238.3,132.8 241.2,132.5 244,132.2 246.9,131.9"/><path d="M246.9,131.9 243.8,132 240.7,132.1 237.7,132.2 234.6,132.4 231.5,132.5 228.4,132.6 225.3,132.8 222.2,133 219.2,133.2 216.1,133.4 213,133.7 209.9,134 206.9,134.3 203.8,134.7 200.8,135.1 197.7,135.6 194.7,136.2 191.7,136.9 188.7,137.7 185.7,138.5 182.8,139.4 179.8,140.3 176.9,141.3 174,142.4 171.2,143.6 168.6,145.3 166.2,147.2 164,149.4 162.2,151.9 160.7,154.6 159.5,157.4 158.4,160.3 157.4,163.2 156.5,166.2 155.6,169.1 154.8,172.1 154,175.1 153.3,178.1 152.6,181.1 151.9,184.1 151.2,187.1 150.6,190.1 150,193.2 149.5,196.2 149.5,201 150.8,205.1 152.2,207.7 153.5,204.3 154.9,204.2 156.2,201.7 157.6,205.2 158.9,203.3 160.3,205.7 161.6,203.8 163,207.7 164.3,199.5 165.7,203.2 167,205.8 168.4,203.1 169.7,202.1 171.1,203.3 172.4,200.8 173.8,204.1 175.1,209.2 176.5,206.4 177.8,220.3 177.8,212 177.9,209.1 177.9,206.3 178,203.4 178.2,200.6 178.4,197.7 178.6,194.9 178.9,192 179.3,189.2 179.7,186.4 180.3,183.5 180.9,180.7 181.5,177.9 182.1,175.2 182.8,172.4 183.5,169.6 184.2,166.8 184.9,164 185.7,161.3 186.4,158.5 187.2,155.8 188.1,153 189.2,150.4 190.7,148 192.5,145.8 194.6,143.8 196.9,142.1 199.3,140.7 201.9,139.5 204.6,138.5 207.3,137.6 210,136.9 212.8,136.4 215.7,136 218.5,135.5 221.3,135.1 224.2,134.7 227,134.3 229.8,133.9 232.7,133.5 235.5,133.2 238.4,132.8 241.2,132.5 244.1,132.2 246.9,131.9"/><path d="M246.9,131.9 243.9,132.1 240.8,132.2 237.8,132.4 234.8,132.6 231.8,132.8 228.7,133 225.7,133.2 222.7,133.5 219.7,133.7 216.7,134 213.6,134.2 210.6,134.6 207.6,134.9 204.6,135.3 201.6,135.8 198.6,136.3 195.7,136.9 192.7,137.6 189.7,138.3 186.8,139.1 183.9,139.9 181,140.9 178.2,141.9 175.4,143.1 172.6,144.3 170.1,145.9 167.7,147.9 165.7,150.1 163.9,152.6 162.6,155.3 161.5,158.1 160.6,161 159.7,163.9 158.9,166.8 158,169.7 157.2,172.7 156.4,175.6 155.6,178.5 154.8,181.4 154.1,184.4 153.4,187.3 152.7,190.3 152,193.2 151.4,196.2 151.4,199.4 152.8,201.3 154.2,198.3 155.6,200.7 157,203.8 158.3,202.2 159.7,197.1 161.1,201.6 162.5,202.2 163.9,198 165.3,197.6 166.7,199.4 168.1,196.1 169.5,202.9 170.8,194.4 172.2,197.2 173.6,199.1 175,199.2 176.4,200 177.8,200.3 179.2,199.2 180.6,218.8 180.6,212 180.8,209.2 181.1,206.5 181.4,203.7 181.7,200.9 182,198.2 182.3,195.4 182.7,192.7 183.1,189.9 183.5,187.2 184,184.4 184.5,181.7 185,179 185.6,176.2 186.1,173.5 186.7,170.8 187.4,168.1 188.1,165.4 188.8,162.7 189.5,160 190.2,157.3 191,154.7 192,152.1 193.3,149.6 194.8,147.3 196.7,145.3 199,143.6 201.3,142.1 203.7,140.7 206,139.3 208.5,138 211.1,137.1 213.8,136.5 216.6,136.1 219.3,135.6 222.1,135.2 224.8,134.8 227.6,134.3 230.3,133.9 233.1,133.5 235.8,133.2 238.6,132.8 241.4,132.5 244.1,132.2 246.9,131.9"/><path d="M246.9,131.9 243.8,132 240.7,132.1 237.6,132.1 234.5,132.2 231.3,132.3 228.2,132.5 225.1,132.6 222,132.8 218.9,133 215.8,133.2 212.7,133.4 209.6,133.7 206.5,134 203.4,134.3 200.3,134.8 197.2,135.3 194.2,135.9 191.2,136.6 188.1,137.4 185.1,138.2 182.1,139.1 179.2,140 176.2,141 173.3,142 170.4,143.3 167.8,144.9 165.4,146.9 163.2,149.1 161.3,151.6 159.7,154.3 158.4,157.1 157.2,159.9 156.2,162.9 155.3,165.9 154.4,168.8 153.6,171.8 152.8,174.9 152.1,177.9 151.4,180.9 150.7,184 150.1,187 149.5,190.1 148.9,193.1 148.4,196.2 148.4,205.8 149.8,201.1 151.1,205 152.5,209.9 153.8,206.1 155.2,204.8 156.5,203.9 157.9,203.1 159.3,203.9 160.6,203.1 162,206 163.3,203.5 164.7,203.4 166,201.7 167.4,204.2 168.7,202.4 170.1,203.9 171.4,206.6 172.8,205.1 174.1,205.4 175.5,205.1 176.8,217.9 176.8,212 176.8,209.1 176.8,206.2 176.8,203.3 176.9,200.4 177,197.6 177.2,194.7 177.5,191.8 177.9,188.9 178.4,186.1 178.9,183.2 179.6,180.4 180.2,177.6 180.9,174.8 181.6,172 182.3,169.2 183,166.4 183.8,163.6 184.5,160.8 185.3,158 186.1,155.2 187,152.5 188.1,149.8 189.7,147.4 191.6,145.3 193.8,143.3 196.1,141.6 198.6,140.2 201.3,139.1 204,138.2 206.8,137.5 209.6,136.9 212.5,136.4 215.3,135.9 218.2,135.5 221.1,135.1 223.9,134.6 226.8,134.2 229.7,133.9 232.5,133.5 235.4,133.2 238.3,132.8 241.1,132.5 244,132.2 246.9,131.9"/><path d="M246.9,131.9 243.8,132 240.7,132.1 237.6,132.2 234.5,132.3 231.4,132.4 228.3,132.6 225.3,132.8 222.2,132.9 219.1,133.1 216,133.3 212.9,133.6 209.8,133.9 206.7,134.2 203.7,134.6 200.6,135 197.6,135.5 194.5,136.1 191.5,136.8 188.5,137.6 185.5,138.4 182.6,139.3 179.6,140.2 176.7,141.2 173.8,142.3 170.9,143.5 168.3,145.2 165.9,147.1 163.8,149.3 161.9,151.8 160.4,154.5 159.1,157.3 158,160.2 157,163.1 156.1,166.1 155.2,169 154.4,172 153.6,175 152.9,178 152.2,181 151.5,184.1 150.9,187.1 150.2,190.1 149.6,193.2 149.1,196.2 149.1,201.2 150.5,202.5 151.8,199.2 153.2,202.6 154.5,199.8 155.9,204.2 157.2,206.6 158.6,205.7 159.9,201.3 161.3,202.6 162.6,208.2 164,204.9 165.3,204.3 166.7,206.6 168,209.6 169.4,207.1 170.8,204.5 172.1,205 173.5,205.6 174.8,202.9 176.2,201.9 177.5,213.2 177.5,212 177.5,209.1 177.6,206.3 177.6,203.4 177.8,200.5 177.9,197.7 178.2,194.8 178.4,191.9 178.8,189.1 179.3,186.3 179.8,183.4 180.4,180.6 181.1,177.8 181.7,175 182.4,172.2 183.1,169.5 183.8,166.7 184.5,163.9 185.3,161.1 186.1,158.4 186.9,155.6 187.7,152.9 188.8,150.2 190.3,147.8 192.2,145.6 194.3,143.7 196.6,142 199.1,140.5 201.7,139.4 204.4,138.4 207.1,137.6 209.9,136.9 212.7,136.4 215.6,136 218.4,135.5 221.2,135.1 224.1,134.7 226.9,134.3 229.8,133.9 232.6,133.5 235.5,133.2 238.3,132.8 241.2,132.5 244,132.2 246.9,131.9"/><path d="M246.9,131.9 243.9,132.1 240.8,132.2 237.8,132.4 234.7,132.5 231.7,132.7 228.7,132.9 225.6,133.1 222.6,133.4 219.6,133.6 216.5,133.8 213.5,134.1 210.5,134.4 207.4,134.8 204.4,135.2 201.4,135.7 198.4,136.2 195.4,136.8 192.5,137.4 189.5,138.1 186.6,138.9 183.6,139.8 180.8,140.8 177.9,141.8 175.1,142.9 172.3,144.2 169.7,145.8 167.4,147.7 165.3,150 163.5,152.4 162.1,155.1 161.1,158 160.1,160.9 159.2,163.8 158.3,166.7 157.5,169.6 156.6,172.5 155.8,175.5 155.1,178.4 154.3,181.4 153.6,184.3 152.9,187.3 152.2,190.2 151.6,193.2 150.9,196.2 150.9,205.8 152.2,201.3 153.4,204.5 154.7,203.4 155.9,201.1 157.1,202.5 158.4,203.4 159.6,204.4 160.9,202 162.1,202.7 163.3,199.3 164.6,200.8 165.8,206.9 167.1,198.5 168.3,202.6 169.5,203.8 170.8,202.5 172,201.5 173.3,203.2 174.5,203.3 175.7,203.1 177,212.5 177,212 177,209.1 176.9,206.2 177,203.3 177.1,200.5 177.2,197.6 177.4,194.7 177.7,191.8 178,189 178.5,186.1 179.1,183.3 179.7,180.5 180.4,177.6 181,174.8 181.7,172 182.4,169.2 183.2,166.4 183.9,163.6 184.7,160.8 185.5,158.1 186.3,155.3 187.1,152.5 188.3,149.9 189.8,147.5 191.7,145.3 193.9,143.4 196.2,141.7 198.7,140.2 201.4,139.1 204.1,138.2 206.9,137.5 209.7,136.9 212.5,136.4 215.4,135.9 218.2,135.5 221.1,135.1 223.9,134.6 226.8,134.2 229.7,133.9 232.5,133.5 235.4,133.2 238.3,132.8 241.2,132.5 244,132.2 246.9,131.9"/><path d="M246.9,131.9 243.8,132 240.7,132 237.5,132.1 234.4,132.2 231.3,132.3 228.2,132.4 225.1,132.6 222,132.7 218.9,132.9 215.7,133.1 212.6,133.4 209.5,133.6 206.4,133.9 203.3,134.3 200.2,134.7 197.2,135.2 194.1,135.8 191.1,136.6 188.1,137.4 185.1,138.2 182.1,139.1 179.1,140 176.1,140.9 173.2,142 170.3,143.2 167.7,144.9 165.3,146.8 163.1,149 161.2,151.5 159.6,154.2 158.2,157 157.1,159.9 156,162.8 155.1,165.8 154.2,168.8 153.4,171.8 152.6,174.8 151.9,177.8 151.2,180.9 150.5,183.9 149.9,187 149.3,190.1 148.8,193.1 148.3,196.2 148.3,204.4 149.6,205.2 151,207.4 152.3,202.5 153.7,206 155,204.4 156.4,204.7 157.7,201.7 159.1,203.6 160.4,205.5 161.8,207.5 163.1,207.7 164.5,205.4 165.8,205.1 167.2,203.7 168.5,206.4 169.9,205 171.2,206.9 172.6,209.4 173.9,205.5 175.3,202.3 176.6,212.4 176.6,212 176.6,209.1 176.5,206.2 176.5,203.3 176.6,200.4 176.7,197.5 176.9,194.6 177.2,191.7 177.6,188.9 178,186 178.6,183.2 179.3,180.3 179.9,177.5 180.6,174.7 181.3,171.9 182,169.1 182.7,166.3 183.5,163.5 184.3,160.7 185.1,157.9 185.9,155.1 186.7,152.3 187.9,149.7 189.5,147.3 191.5,145.1 193.6,143.2 195.9,141.5 198.5,140 201.1,139 203.9,138.1 206.7,137.4 209.5,136.9 212.4,136.4 215.3,135.9 218.1,135.5 221,135.1 223.9,134.6 226.7,134.2 229.6,133.9 232.5,133.5 235.4,133.2 238.3,132.8 241.1,132.5 244,132.2 246.9,131.9"/><path d="M246.9,131.9 243.9,132.1 240.9,132.3 237.9,132.5 234.9,132.7 231.9,132.9 228.9,133.1 225.8,133.4 222.8,133.6 219.8,133.9 216.8,134.1 213.8,134.4 210.8,134.7 207.8,135.1 204.9,135.5 201.9,136 198.9,136.6 196,137.1 193,137.8 190.1,138.5 187.2,139.2 184.3,140.1 181.4,141.1 178.6,142.1 175.8,143.3 173.1,144.6 170.5,146.2 168.2,148.1 166.2,150.3 164.5,152.8 163.2,155.5 162.2,158.4 161.3,161.2 160.4,164.1 159.6,167 158.8,169.9 157.9,172.8 157.1,175.7 156.3,178.6 155.6,181.6 154.8,184.5 154.1,187.4 153.4,190.3 152.7,193.3 152,196.2 152,200.6 153.4,206.5 154.7,206.6 156.1,206.5 157.4,206.9 158.8,205.4 160.1,200.6 161.5,203.6 162.8,204.6 164.2,203.1 165.5,205.9 166.9,203.1 168.2,201.9 169.6,207.1 170.9,205.4 172.3,204.4 173.6,206 175,206.3 176.3,204.7 177.7,198.5 179,202.4 180.4,213.3 180.4,212 180.7,209.2 180.9,206.5 181.2,203.7 181.5,200.9 181.8,198.2 182.1,195.4 182.5,192.6 182.9,189.9 183.3,187.1 183.8,184.4 184.3,181.6 184.8,178.9 185.4,176.2 185.9,173.4 186.5,170.7 187.2,168 187.9,165.3 188.6,162.6 189.3,159.9 190.1,157.2 190.9,154.6 191.9,152 193.1,149.5 194.7,147.2 196.6,145.2 198.9,143.6 201.2,142 203.6,140.6 205.9,139.2 208.4,138 211.1,137.1 213.8,136.5 216.5,136.1 219.3,135.6 222,135.2 224.8,134.7 227.5,134.3 230.3,133.9 233.1,133.5 235.8,133.2 238.6,132.8 241.4,132.5 244.1,132.2 246.9,131.9"/><path d="M246.9,131.9 243.9,132.1 240.9,132.3 237.9,132.5 234.8,132.7 231.8,132.9 228.8,133.1 225.8,133.3 222.8,133.6 219.8,133.8 216.8,134.1 213.8,134.4 210.8,134.7 207.8,135 204.8,135.5 201.8,136 198.8,136.5 195.9,137.1 192.9,137.7 190,138.4 187,139.2 184.2,140.1 181.3,141 178.5,142.1 175.7,143.2 172.9,144.5 170.4,146.1 168.1,148 166,150.3 164.3,152.7 163,155.4 162,158.3 161.1,161.2 160.2,164.1 159.4,167 158.5,169.9 157.7,172.8 156.9,175.7 156.1,178.6 155.3,181.5 154.6,184.4 153.9,187.4 153.1,190.3 152.5,193.3 151.8,196.2 151.8,204.8 153,202.9 154.2,202 155.4,204.4 156.6,205.7 157.8,202.6 159,204.7 160.3,203.8 161.5,210.2 162.7,202.4 163.9,207 165.1,203.9 166.3,203.7 167.5,205.6 168.7,206 169.9,206.8 171.1,204.7 172.3,202.7 173.5,202.8 174.7,205.1 175.9,205.3 177.1,217.2 177.1,212 177.1,209.1 177.1,206.2 177.2,203.4 177.3,200.5 177.4,197.6 177.6,194.7 177.9,191.9 178.3,189 178.8,186.2 179.3,183.3 179.9,180.5 180.6,177.7 181.2,174.9 181.9,172.1 182.6,169.3 183.4,166.5 184.1,163.7 184.9,160.9 185.7,158.2 186.5,155.4 187.3,152.6 188.4,150 190,147.6 191.9,145.4 194,143.5 196.3,141.7 198.8,140.3 201.5,139.2 204.2,138.3 206.9,137.5 209.7,136.9 212.6,136.4 215.4,136 218.3,135.5 221.1,135.1 224,134.7 226.8,134.3 229.7,133.9 232.6,133.5 235.4,133.2 238.3,132.8 241.2,132.5 244,132.2 246.9,131.9"/><path d="M246.9,131.9 243.9,132.1 240.9,132.3 237.9,132.5 234.9,132.7 231.9,132.9 228.9,133.1 225.8,133.4 222.8,133.6 219.8,133.9 216.8,134.1 213.8,134.4 210.8,134.7 207.8,135.1 204.9,135.5 201.9,136 198.9,136.6 196,137.1 193,137.8 190.1,138.5 187.2,139.2 184.3,140.1 181.4,141.1 178.6,142.1 175.8,143.3 173.1,144.6 170.5,146.2 168.2,148.1 166.2,150.3 164.5,152.8 163.2,155.5 162.2,158.4 161.3,161.3 160.5,164.1 159.6,167 158.8,169.9 157.9,172.8 157.1,175.7 156.3,178.6 155.6,181.6 154.8,184.5 154.1,187.4 153.4,190.3 152.7,193.3 152,196.2 152,200.4 153.2,206.1 154.4,203.7 155.5,203.4 156.7,204.1 157.9,204.3 159,202.7 160.2,203.8 161.4,207.4 162.5,200.1 163.7,204.5 164.9,201.9 166,204.3 167.2,205.7 168.4,203.8 169.6,205.6 170.7,200.4 171.9,206.3 173.1,202.6 174.2,205.3 175.4,204.3 176.6,215.5 176.6,212 176.5,209.1 176.5,206.2 176.5,203.3 176.5,200.4 176.7,197.5 176.8,194.6 177.1,191.7 177.5,188.8 178,186 178.5,183.1 179.2,180.3 179.8,177.5 180.5,174.7 181.2,171.8 181.9,169 182.7,166.2 183.4,163.4 184.2,160.6 185,157.8 185.8,155.1 186.7,152.3 187.8,149.6 189.4,147.2 191.4,145.1 193.6,143.2 195.9,141.4 198.4,140 201.1,139 203.9,138.1 206.7,137.4 209.5,136.9 212.4,136.4 215.2,135.9 218.1,135.5 221,135.1 223.8,134.6 226.7,134.2 229.6,133.9 232.5,133.5 235.4,133.2 238.2,132.8 241.1,132.5 244,132.2 246.9,131.9"/><path d="M246.9,131.9 243.9,132.1 240.8,132.2 237.8,132.4 234.7,132.5 231.7,132.7 228.6,132.9 225.6,133.1 222.6,133.3 219.5,133.6 216.5,133.8 213.5,134.1 210.4,134.4 207.4,134.7 204.4,135.2 201.4,135.6 198.4,136.1 195.4,136.7 192.4,137.4 189.4,138.1 186.5,138.9 183.6,139.8 180.7,140.7 177.8,141.8 175,142.9 172.2,144.1 169.6,145.8 167.3,147.7 165.2,149.9 163.5,152.4 162,155.1 161,157.9 160,160.8 159.1,163.7 158.2,166.6 157.3,169.6 156.5,172.5 155.7,175.4 154.9,178.4 154.2,181.3 153.5,184.3 152.8,187.3 152.1,190.2 151.5,193.2 150.8,196.2 150.8,205.6 152.2,206 153.6,201.7 155,202.9 156.4,201.3 157.7,197.9 159.1,203 160.5,197.4 161.9,199.6 163.3,200.7 164.6,202 166,201 167.4,201 168.8,198.4 170.1,197.3 171.5,200.2 172.9,198.5 174.3,197.2 175.7,197.3 177,199 178.4,196 179.8,217.8 179.8,212 180,209.2 180.2,206.4 180.4,203.6 180.7,200.8 181,198.1 181.3,195.3 181.6,192.5 182,189.7 182.5,186.9 182.9,184.2 183.5,181.4 184,178.7 184.6,175.9 185.2,173.2 185.8,170.4 186.5,167.7 187.2,165 187.9,162.3 188.6,159.6 189.4,156.9 190.2,154.2 191.2,151.6 192.5,149.1 194.1,146.9 196.1,144.9 198.4,143.2 200.7,141.7 203.2,140.3 205.6,139 208.2,137.9 210.8,137.1 213.6,136.5 216.3,136.1 219.1,135.6 221.9,135.2 224.6,134.7 227.4,134.3 230.2,133.9 233,133.5 235.7,133.2 238.5,132.8 241.3,132.5 244.1,132.2 246.9,131.9"/><path d="M246.9,131.9 243.8,132 240.7,132.1 237.6,132.2 234.5,132.3 231.4,132.4 228.3,132.6 225.3,132.8 222.2,132.9 219.1,133.1 216,133.4 212.9,133.6 209.8,133.9 206.8,134.2 203.7,134.6 200.6,135 197.6,135.5 194.5,136.1 191.5,136.8 188.5,137.6 185.5,138.4 182.6,139.3 179.6,140.2 176.7,141.2 173.8,142.3 170.9,143.5 168.3,145.2 165.9,147.1 163.8,149.3 161.9,151.8 160.4,154.5 159.1,157.3 158,160.2 157,163.1 156.1,166.1 155.2,169 154.4,172 153.6,175 152.9,178 152.2,181 151.5,184.1 150.9,187.1 150.2,190.1 149.7,193.2 149.1,196.2 149.1,204.9 150.5,201.8 151.9,198.1 153.2,198.9 154.6,202.3 156,202.4 157.3,199.7 158.7,202.5 160.1,202.4 161.4,197.2 162.8,200.4 164.2,202 165.5,199.8 166.9,196.4 168.3,200.5 169.6,202.8 171,204.6 172.4,196.3 173.8,206.9 175.1,198.6 176.5,203.2 177.9,216.7 177.9,212 177.9,209.1 178,206.3 178.1,203.4 178.2,200.6 178.4,197.7 178.6,194.9 178.9,192 179.3,189.2 179.8,186.4 180.3,183.6 180.9,180.8 181.5,178 182.1,175.2 182.8,172.4 183.5,169.6 184.2,166.8 184.9,164.1 185.7,161.3 186.5,158.5 187.2,155.8 188.1,153.1 189.2,150.4 190.7,148 192.5,145.8 194.6,143.8 196.9,142.1 199.3,140.7 201.9,139.5 204.6,138.5 207.3,137.6 210,136.9 212.8,136.4 215.7,136 218.5,135.5 221.3,135.1 224.2,134.7 227,134.3 229.8,133.9 232.7,133.5 235.5,133.2 238.4,132.8 241.2,132.5 244.1,132.2 246.9,131.9"/><path d="M246.9,131.9 243.8,132 240.7,132.1 237.6,132.2 234.5,132.3 231.4,132.4 228.3,132.5 225.2,132.7 222.1,132.9 219,133.1 215.9,133.3 212.8,133.5 209.7,133.8 206.6,134.1 203.6,134.5 200.5,134.9 197.4,135.4 194.4,136 191.4,136.7 188.4,137.5 185.4,138.3 182.4,139.2 179.4,140.1 176.5,141.1 173.6,142.2 170.7,143.4 168.1,145.1 165.7,147 163.5,149.2 161.7,151.7 160.1,154.4 158.8,157.2 157.7,160.1 156.7,163 155.8,166 154.9,169 154.1,172 153.3,175 152.5,178 151.8,181 151.2,184 150.5,187.1 149.9,190.1 149.4,193.1 148.8,196.2 148.8,207.9 150.3,208.5 151.7,205.1 153.2,202.5 154.6,204.7 156.1,200.3 157.6,201.4 159,205.3 160.5,202.9 161.9,204.8 163.4,204.9 164.8,209.4 166.3,208 167.7,205 169.2,207.8 170.6,203.4 172.1,204.4 173.6,207.1 175,202.4 176.5,204.5 177.9,202.2 179.4,219.7 179.4,212 179.5,209.2 179.7,206.4 179.9,203.6 180.1,200.8 180.4,198 180.7,195.2 181,192.4 181.4,189.6 181.9,186.8 182.4,184 182.9,181.3 183.5,178.5 184.1,175.8 184.7,173 185.3,170.3 186,167.5 186.7,164.8 187.4,162.1 188.2,159.4 188.9,156.6 189.7,153.9 190.8,151.3 192.1,148.9 193.8,146.6 195.8,144.7 198.1,143 200.4,141.5 202.9,140.2 205.4,138.9 208,137.9 210.6,137 213.4,136.5 216.2,136.1 219,135.6 221.7,135.1 224.5,134.7 227.3,134.3 230.1,133.9 232.9,133.5 235.7,133.2 238.5,132.8 241.3,132.5 244.1,132.2 246.9,131.9"/><path d="M246.9,131.9 243.9,132.1 240.8,132.2 237.8,132.4 234.8,132.6 231.8,132.8 228.7,133 225.7,133.2 222.7,133.5 219.7,133.7 216.7,134 213.6,134.2 210.6,134.6 207.6,134.9 204.6,135.3 201.6,135.8 198.6,136.3 195.7,136.9 192.7,137.6 189.8,138.3 186.8,139.1 183.9,139.9 181.1,140.9 178.2,141.9 175.4,143.1 172.6,144.4 170.1,145.9 167.8,147.9 165.7,150.1 164,152.6 162.6,155.3 161.6,158.1 160.6,161 159.7,163.9 158.9,166.8 158,169.7 157.2,172.7 156.4,175.6 155.6,178.5 154.9,181.4 154.1,184.4 153.4,187.3 152.7,190.3 152.1,193.2 151.4,196.2 151.4,198.9 152.7,205.4 154.1,203.1 155.4,205.6 156.7,204.5 158.1,204.4 159.4,205.2 160.7,202.6 162,202.9 163.4,200 164.7,202.9 166,200.7 167.4,203.5 168.7,201.7 170,204 171.4,204.8 172.7,200.7 174,202 175.3,201.8 176.7,205.5 178,207.6 179.3,216.5 179.3,212 179.5,209.2 179.7,206.4 179.9,203.6 180.1,200.8 180.4,198 180.6,195.2 181,192.4 181.4,189.6 181.8,186.8 182.3,184 182.8,181.3 183.4,178.5 184,175.7 184.6,173 185.3,170.2 185.9,167.5 186.6,164.8 187.4,162.1 188.1,159.3 188.9,156.6 189.7,153.9 190.7,151.3 192.1,148.8 193.7,146.6 195.8,144.6 198,143 200.4,141.5 202.9,140.1 205.4,138.9 207.9,137.9 210.6,137 213.4,136.5 216.2,136.1 219,135.6 221.7,135.1 224.5,134.7 227.3,134.3 230.1,133.9 232.9,133.5 235.7,133.2 238.5,132.8 241.3,132.5 244.1,132.2 246.9,131.9"/><path d="M246.9,131.9 243.8,132 240.7,132 237.5,132.1 234.4,132.2 231.3,132.3 228.2,132.4 225.1,132.5 221.9,132.7 218.8,132.9 215.7,133.1 212.6,133.3 209.5,133.6 206.4,133.9 203.3,134.2 200.2,134.7 197.1,135.2 194,135.8 191,136.5 188,137.3 185,138.1 182,139 179,139.9 176,140.9 173.1,141.9 170.2,143.2 167.5,144.8 165.1,146.8 162.9,149 161,151.5 159.4,154.1 158.1,156.9 156.9,159.8 155.8,162.8 154.9,165.7 154,168.7 153.2,171.8 152.4,174.8 151.7,177.8 151,180.9 150.4,183.9 149.7,187 149.1,190 148.6,193.1 148.1,196.2 148.1,201.8 149.5,204 150.8,203.5 152.2,205.6 153.6,203.1 154.9,208.1 156.3,201.4 157.6,203.5 159,198.8 160.4,200.2 161.7,205.9 163.1,200.9 164.5,204.1 165.8,202.8 167.2,200.7 168.5,202.2 169.9,201.8 171.3,201.9 172.6,204.6 174,204.4 175.4,201.7 176.7,217.7 176.7,212 176.7,209.1 176.7,206.2 176.7,203.3 176.7,200.4 176.9,197.5 177.1,194.6 177.3,191.8 177.7,188.9 178.2,186 178.7,183.2 179.4,180.4 180,177.5 180.7,174.7 181.4,171.9 182.1,169.1 182.9,166.3 183.6,163.5 184.4,160.7 185.2,157.9 186,155.1 186.8,152.4 188,149.7 189.6,147.3 191.5,145.2 193.7,143.2 196,141.5 198.5,140.1 201.2,139 203.9,138.2 206.7,137.4 209.6,136.9 212.4,136.4 215.3,135.9 218.2,135.5 221,135.1 223.9,134.6 226.8,134.2 229.6,133.9 232.5,133.5 235.4,133.2 238.3,132.8 241.1,132.5 244,132.2 246.9,131.9"/><path d="M246.9,131.9 243.8,132 240.8,132.1 237.7,132.3 234.6,132.4 231.5,132.6 228.5,132.7 225.4,132.9 222.3,133.1 219.3,133.3 216.2,133.5 213.1,133.8 210.1,134.1 207,134.4 204,134.8 200.9,135.3 197.9,135.8 194.9,136.4 191.9,137.1 188.9,137.8 185.9,138.6 183,139.5 180.1,140.4 177.1,141.4 174.3,142.5 171.5,143.8 168.9,145.4 166.5,147.4 164.4,149.6 162.6,152.1 161.1,154.7 159.9,157.6 158.8,160.5 157.9,163.4 157,166.3 156.1,169.3 155.3,172.2 154.5,175.2 153.7,178.2 153,181.2 152.3,184.2 151.7,187.2 151,190.2 150.4,193.2 149.8,196.2 149.8,206.3 151.2,207.8 152.6,205.3 154,205.7 155.4,203.5 156.8,209.8 158.1,207.3 159.5,210.1 160.9,207.9 162.3,209.4 163.7,205.6 165.1,207.7 166.5,212.1 167.8,203.5 169.2,208.7 170.6,209.9 172,207.1 173.4,207.8 174.8,209 176.1,204.7 177.5,207.1 178.9,216.8 178.9,212 179,209.2 179.2,206.4 179.3,203.5 179.6,200.7 179.8,197.9 180.1,195.1 180.4,192.3 180.8,189.5 181.2,186.7 181.7,183.9 182.3,181.1 182.9,178.3 183.5,175.6 184.1,172.8 184.8,170.1 185.4,167.3 186.1,164.6 186.9,161.8 187.7,159.1 188.4,156.4 189.2,153.7 190.3,151.1 191.7,148.6 193.4,146.4 195.4,144.4 197.7,142.7 200.1,141.3 202.6,140 205.1,138.8 207.8,137.8 210.5,137 213.2,136.5 216,136 218.8,135.6 221.6,135.1 224.4,134.7 227.2,134.3 230,133.9 232.8,133.5 235.6,133.2 238.5,132.8 241.3,132.5 244.1,132.2 246.9,131.9"/><path d="M246.9,131.9 243.8,132 240.7,132.1 237.6,132.2 234.5,132.3 231.4,132.4 228.3,132.5 225.2,132.7 222.1,132.9 219,133.1 215.9,133.3 212.8,133.5 209.8,133.8 206.7,134.1 203.6,134.5 200.5,134.9 197.5,135.5 194.4,136.1 191.4,136.8 188.4,137.5 185.4,138.4 182.4,139.2 179.5,140.2 176.5,141.1 173.6,142.2 170.8,143.4 168.2,145.1 165.8,147 163.6,149.3 161.7,151.7 160.2,154.4 158.9,157.2 157.8,160.1 156.8,163.1 155.9,166 155,169 154.2,172 153.4,175 152.6,178 151.9,181 151.3,184 150.6,187.1 150,190.1 149.5,193.1 148.9,196.2 148.9,200.9 150.4,207.9 151.8,203.2 153.3,208.7 154.8,213.6 156.2,202.8 157.7,209.2 159.2,207.8 160.6,206.7 162.1,210.1 163.5,204.3 165,207.4 166.5,210.3 167.9,206.5 169.4,206 170.8,207.2 172.3,206 173.8,210.5 175.2,204.9 176.7,209 178.2,204.2 179.6,215.4 179.6,212 179.8,209.2 180,206.4 180.2,203.6 180.5,200.8 180.7,198 181,195.2 181.4,192.4 181.8,189.7 182.2,186.9 182.7,184.1 183.2,181.4 183.8,178.6 184.4,175.9 185,173.1 185.6,170.4 186.3,167.6 187,164.9 187.7,162.2 188.5,159.5 189.2,156.8 190,154.1 191,151.5 192.4,149 194,146.8 196,144.8 198.3,143.1 200.6,141.6 203.1,140.3 205.5,139 208.1,137.9 210.7,137.1 213.5,136.5 216.3,136.1 219,135.6 221.8,135.2 224.6,134.7 227.4,134.3 230.2,133.9 232.9,133.5 235.7,133.2 238.5,132.8 241.3,132.5 244.1,132.2 246.9,131.9"/><path d="M246.9,131.9 243.8,132 240.8,132.2 237.7,132.3 234.7,132.5 231.6,132.6 228.5,132.8 225.5,133 222.4,133.2 219.4,133.4 216.3,133.7 213.3,133.9 210.2,134.2 207.2,134.6 204.1,135 201.1,135.4 198.1,135.9 195.1,136.5 192.1,137.2 189.1,137.9 186.2,138.7 183.2,139.6 180.3,140.6 177.4,141.6 174.6,142.7 171.8,143.9 169.2,145.6 166.8,147.5 164.7,149.7 162.9,152.2 161.5,154.9 160.4,157.7 159.3,160.6 158.4,163.5 157.5,166.5 156.6,169.4 155.8,172.3 155,175.3 154.3,178.3 153.5,181.2 152.8,184.2 152.2,187.2 151.5,190.2 150.9,193.2 150.3,196.2 150.3,203.3 151.5,199.1 152.7,200.9 154,203.9 155.2,203.2 156.4,201.1 157.7,201.2 158.9,200.8 160.1,199.8 161.4,205.4 162.6,201.1 163.8,198.5 165.1,200 166.3,202.7 167.5,202.5 168.8,200.8 170,199.6 171.3,201.1 172.5,197.3 173.7,198.1 175,202.9 176.2,216.1 176.2,212 176.1,209.1 176,206.2 176,203.3 176.1,200.4 176.2,197.4 176.3,194.5 176.6,191.6 176.9,188.7 177.4,185.9 178,183 178.7,180.2 179.3,177.3 180,174.5 180.8,171.7 181.5,168.9 182.2,166.1 183,163.2 183.8,160.4 184.6,157.6 185.4,154.8 186.3,152.1 187.4,149.4 189.1,147 191.1,144.9 193.3,143 195.6,141.2 198.1,139.8 200.9,138.8 203.7,138 206.5,137.4 209.4,136.8 212.2,136.4 215.1,135.9 218,135.5 220.9,135 223.8,134.6 226.6,134.2 229.5,133.9 232.4,133.5 235.3,133.2 238.2,132.8 241.1,132.5 244,132.2 246.9,131.9"/><path d="M246.9,131.9 243.8,132 240.7,132.1 237.6,132.1 234.5,132.2 231.3,132.3 228.2,132.5 225.1,132.6 222,132.8 218.9,133 215.8,133.2 212.7,133.4 209.6,133.7 206.5,134 203.4,134.3 200.3,134.8 197.2,135.3 194.2,135.9 191.1,136.6 188.1,137.4 185.1,138.2 182.1,139.1 179.2,140 176.2,141 173.3,142 170.4,143.3 167.8,144.9 165.4,146.9 163.2,149.1 161.3,151.6 159.7,154.3 158.4,157.1 157.2,159.9 156.2,162.9 155.3,165.8 154.4,168.8 153.6,171.8 152.8,174.9 152,177.9 151.4,180.9 150.7,184 150.1,187 149.5,190.1 148.9,193.1 148.4,196.2 148.4,205.5 149.8,196.8 151.2,200.9 152.5,200.6 153.9,200.3 155.3,197.6 156.6,200.5 158,201.2 159.4,201.5 160.7,198.7 162.1,202.7 163.5,198.5 164.8,200.8 166.2,204.2 167.6,199.7 168.9,200.1 170.3,203.7 171.7,200.4 173,200.6 174.4,201.8 175.8,203.7 177.1,218.5 177.1,212 177.1,209.1 177.1,206.2 177.2,203.4 177.3,200.5 177.4,197.6 177.6,194.7 177.9,191.9 178.3,189 178.7,186.1 179.3,183.3 179.9,180.5 180.6,177.7 181.2,174.9 181.9,172.1 182.6,169.3 183.3,166.5 184.1,163.7 184.8,160.9 185.6,158.1 186.4,155.4 187.3,152.6 188.4,150 190,147.6 191.9,145.4 194,143.5 196.3,141.7 198.8,140.3 201.5,139.2 204.2,138.3 206.9,137.5 209.7,136.9 212.6,136.4 215.4,136 218.3,135.5 221.1,135.1 224,134.7 226.8,134.3 229.7,133.9 232.6,133.5 235.4,133.2 238.3,132.8 241.2,132.5 244,132.2 246.9,131.9"/><path d="M246.9,131.9 243.8,132 240.7,132.1 237.6,132.2 234.5,132.3 231.4,132.4 228.4,132.6 225.3,132.8 222.2,132.9 219.1,133.1 216,133.4 212.9,133.6 209.8,133.9 206.8,134.2 203.7,134.6 200.6,135 197.6,135.5 194.5,136.1 191.5,136.8 188.5,137.6 185.6,138.4 182.6,139.3 179.6,140.2 176.7,141.2 173.8,142.3 171,143.5 168.4,145.2 166,147.1 163.8,149.3 162,151.8 160.4,154.5 159.2,157.3 158.1,160.2 157.1,163.1 156.2,166.1 155.3,169.1 154.5,172 153.7,175 152.9,178 152.2,181 151.6,184.1 150.9,187.1 150.3,190.1 149.7,193.2 149.2,196.2 149.2,200.5 150.5,202.1 151.8,199.9 153.1,201.2 154.4,199.3 155.7,202 157,203.3 158.3,199.5 159.6,200.9 160.9,203.9 162.2,200.3 163.5,201.8 164.8,199.1 166.1,199.5 167.4,200.2 168.7,206.2 170,200.5 171.3,200.2 172.6,200.1 173.9,201 175.2,202.8 176.6,216.6 176.6,212 176.5,209.1 176.5,206.2 176.5,203.3 176.5,200.4 176.7,197.5 176.8,194.6 177.1,191.7 177.5,188.8 177.9,186 178.5,183.1 179.2,180.3 179.8,177.5 180.5,174.7 181.2,171.8 181.9,169 182.7,166.2 183.4,163.4 184.2,160.6 185,157.8 185.8,155.1 186.7,152.3 187.8,149.6 189.4,147.2 191.4,145.1 193.5,143.2 195.9,141.4 198.4,140 201.1,139 203.9,138.1 206.7,137.4 209.5,136.9 212.4,136.4 215.2,135.9 218.1,135.5 221,135.1 223.8,134.6 226.7,134.2 229.6,133.9 232.5,133.5 235.4,133.2 238.2,132.8 241.1,132.5 244,132.2 246.9,131.9"/><path d="M246.9,131.9 243.8,132 240.8,132.2 237.7,132.3 234.7,132.5 231.6,132.6 228.6,132.8 225.5,133 222.5,133.2 219.4,133.5 216.4,133.7 213.3,134 210.3,134.3 207.2,134.6 204.2,135 201.2,135.5 198.2,136 195.2,136.6 192.2,137.3 189.2,138 186.3,138.8 183.3,139.7 180.4,140.6 177.6,141.6 174.7,142.7 171.9,144 169.3,145.6 167,147.6 164.9,149.8 163.1,152.3 161.7,155 160.5,157.8 159.5,160.7 158.6,163.6 157.7,166.5 156.8,169.4 156,172.4 155.2,175.3 154.5,178.3 153.7,181.3 153,184.2 152.3,187.2 151.7,190.2 151,193.2 150.4,196.2 150.4,202.3 151.8,200.1 153.1,200.5 154.4,200.5 155.7,201.9 157,198.3 158.3,199 159.6,201.7 161,201.4 162.3,200.2 163.6,199.8 164.9,199.2 166.2,200.9 167.5,203.6 168.9,198.7 170.2,204.4 171.5,202.9 172.8,200.1 174.1,202.8 175.4,197.8 176.8,197.2 178.1,213.4 178.1,212 178.1,209.2 178.2,206.3 178.3,203.5 178.5,200.6 178.7,197.8 178.9,194.9 179.2,192.1 179.6,189.2 180.1,186.4 180.6,183.6 181.2,180.8 181.8,178 182.4,175.2 183.1,172.5 183.7,169.7 184.4,166.9 185.2,164.2 185.9,161.4 186.7,158.7 187.5,155.9 188.3,153.2 189.4,150.5 190.9,148.1 192.7,145.9 194.8,144 197.1,142.3 199.5,140.8 202.1,139.6 204.7,138.5 207.4,137.7 210.1,137 212.9,136.4 215.7,136 218.6,135.5 221.4,135.1 224.2,134.7 227,134.3 229.9,133.9 232.7,133.5 235.5,133.2 238.4,132.8 241.2,132.5 244.1,132.2 246.9,131.9"/><path d="M246.9,131.9 243.9,132.1 240.8,132.2 237.8,132.4 234.8,132.6 231.7,132.8 228.7,133 225.7,133.2 222.6,133.4 219.6,133.6 216.6,133.9 213.6,134.2 210.5,134.5 207.5,134.9 204.5,135.3 201.5,135.7 198.5,136.3 195.6,136.9 192.6,137.5 189.6,138.2 186.7,139 183.8,139.9 180.9,140.8 178.1,141.9 175.2,143 172.5,144.3 169.9,145.9 167.6,147.8 165.5,150 163.8,152.5 162.4,155.2 161.3,158.1 160.4,160.9 159.5,163.8 158.6,166.8 157.8,169.7 156.9,172.6 156.1,175.5 155.3,178.5 154.6,181.4 153.9,184.4 153.2,187.3 152.5,190.3 151.8,193.2 151.2,196.2 151.2,207.2 152.5,204.8 153.9,201.3 155.2,201.8 156.5,201.5 157.9,204.5 159.2,199 160.5,206.2 161.9,202.5 163.2,201.8 164.6,204.3 165.9,205.8 167.2,204.3 168.6,205.8 169.9,203.8 171.2,206.2 172.6,206.3 173.9,203.3 175.3,206.7 176.6,203.9 177.9,203.7 179.3,219.4 179.3,212 179.4,209.2 179.6,206.4 179.8,203.6 180,200.8 180.3,198 180.6,195.2 180.9,192.4 181.3,189.6 181.7,186.8 182.2,184 182.8,181.2 183.3,178.5 183.9,175.7 184.5,173 185.2,170.2 185.9,167.5 186.6,164.7 187.3,162 188.1,159.3 188.8,156.6 189.6,153.9 190.7,151.3 192,148.8 193.7,146.6 195.7,144.6 198,142.9 200.4,141.4 202.8,140.1 205.3,138.9 207.9,137.8 210.6,137 213.4,136.5 216.2,136.1 218.9,135.6 221.7,135.1 224.5,134.7 227.3,134.3 230.1,133.9 232.9,133.5 235.7,133.2 238.5,132.8 241.3,132.5 244.1,132.2 246.9,131.9"/><path d="M246.9,131.9 243.8,132 240.6,132 237.5,132.1 234.4,132.1 231.2,132.2 228.1,132.3 225,132.4 221.8,132.6 218.7,132.8 215.6,133 212.4,133.2 209.3,133.4 206.2,133.7 203.1,134.1 200,134.5 196.9,135 193.8,135.6 190.8,136.4 187.7,137.2 184.7,138 181.7,138.9 178.7,139.8 175.7,140.7 172.7,141.8 169.9,143 167.2,144.7 164.8,146.6 162.5,148.8 160.6,151.3 159,154 157.6,156.8 156.4,159.7 155.3,162.6 154.4,165.6 153.5,168.6 152.6,171.6 151.9,174.7 151.1,177.7 150.5,180.8 149.8,183.9 149.2,186.9 148.7,190 148.1,193.1 147.7,196.2 147.7,201.6 149,200.6 150.4,197.7 151.7,201 153.1,195.1 154.4,200.6 155.8,198.6 157.1,200.9 158.5,197.1 159.8,197.8 161.2,204.1 162.5,197.3 163.9,197.6 165.2,198.5 166.6,196.9 167.9,201.7 169.3,202.9 170.6,197.6 172,195.3 173.3,201.7 174.7,201.6 176,213.8 176,212 175.9,209.1 175.8,206.2 175.8,203.2 175.8,200.3 175.9,197.4 176.1,194.5 176.3,191.6 176.7,188.7 177.2,185.8 177.8,183 178.4,180.1 179.1,177.3 179.8,174.4 180.5,171.6 181.3,168.8 182,166 182.8,163.2 183.6,160.3 184.4,157.5 185.2,154.7 186.1,152 187.2,149.3 188.9,146.9 190.9,144.8 193.1,142.9 195.5,141.1 198,139.7 200.8,138.7 203.6,137.9 206.4,137.3 209.3,136.8 212.2,136.3 215.1,135.9 217.9,135.5 220.8,135 223.7,134.6 226.6,134.2 229.5,133.9 232.4,133.5 235.3,133.2 238.2,132.8 241.1,132.5 244,132.2 246.9,131.9"/><path d="M246.9,131.9 243.9,132.1 240.9,132.3 237.8,132.4 234.8,132.6 231.8,132.8 228.8,133 225.7,133.2 222.7,133.5 219.7,133.7 216.7,134 213.7,134.3 210.6,134.6 207.6,134.9 204.6,135.4 201.6,135.8 198.7,136.4 195.7,137 192.7,137.6 189.8,138.3 186.9,139.1 184,140 181.1,140.9 178.2,142 175.4,143.1 172.7,144.4 170.1,146 167.8,147.9 165.7,150.1 164,152.6 162.6,155.3 161.6,158.2 160.7,161 159.8,163.9 159,166.9 158.1,169.8 157.3,172.7 156.5,175.6 155.7,178.5 154.9,181.5 154.2,184.4 153.5,187.3 152.8,190.3 152.1,193.2 151.5,196.2 151.5,207.7 152.7,207.5 153.9,203.7 155.1,207.2 156.3,209.4 157.5,205.3 158.8,204.7 160,208.6 161.2,206.7 162.4,204 163.6,205.6 164.8,204.7 166,207 167.3,206.6 168.5,208.9 169.7,208 170.9,203 172.1,207.3 173.3,208.4 174.5,207.4 175.8,208.7 177,214.7 177,212 177,209.1 177,206.2 177,203.3 177.1,200.5 177.2,197.6 177.4,194.7 177.7,191.8 178.1,189 178.5,186.1 179.1,183.3 179.7,180.5 180.4,177.6 181,174.8 181.7,172 182.4,169.2 183.2,166.4 183.9,163.6 184.7,160.8 185.5,158.1 186.3,155.3 187.1,152.5 188.3,149.9 189.8,147.5 191.8,145.3 193.9,143.4 196.2,141.7 198.7,140.2 201.4,139.2 204.1,138.2 206.9,137.5 209.7,136.9 212.5,136.4 215.4,135.9 218.2,135.5 221.1,135.1 223.9,134.6 226.8,134.2 229.7,133.9 232.5,133.5 235.4,133.2 238.3,132.8 241.2,132.5 244,132.2 246.9,131.9"/><path d="M246.9,131.9 243.8,132 240.6,132 237.5,132.1 234.4,132.1 231.2,132.2 228.1,132.3 224.9,132.4 221.8,132.6 218.7,132.8 215.6,132.9 212.4,133.2 209.3,133.4 206.2,133.7 203.1,134.1 199.9,134.5 196.8,135 193.8,135.6 190.7,136.3 187.7,137.1 184.7,138 181.7,138.9 178.6,139.8 175.7,140.7 172.7,141.7 169.8,143 167.2,144.6 164.7,146.6 162.5,148.8 160.6,151.3 158.9,154 157.5,156.8 156.3,159.6 155.2,162.6 154.3,165.6 153.4,168.6 152.6,171.6 151.8,174.7 151.1,177.7 150.4,180.8 149.8,183.8 149.2,186.9 148.6,190 148.1,193.1 147.6,196.2 147.6,204.3 149,198.3 150.5,198.6 151.9,202.4 153.4,200.8 154.8,197.5 156.3,205 157.7,199 159.1,201.5 160.6,201.4 162,204 163.5,199.9 164.9,203.1 166.4,199.3 167.8,203.4 169.3,199.2 170.7,200.1 172.1,205.1 173.6,201.6 175,201.2 176.5,205.9 177.9,216.8 177.9,212 178,209.1 178,206.3 178.1,203.4 178.3,200.6 178.5,197.7 178.7,194.9 179,192 179.4,189.2 179.8,186.4 180.4,183.6 181,180.8 181.6,178 182.2,175.2 182.9,172.4 183.6,169.6 184.3,166.9 185,164.1 185.7,161.3 186.5,158.6 187.3,155.8 188.1,153.1 189.2,150.4 190.7,148 192.5,145.8 194.6,143.9 196.9,142.2 199.4,140.7 202,139.5 204.6,138.5 207.3,137.6 210.1,136.9 212.9,136.4 215.7,136 218.5,135.5 221.3,135.1 224.2,134.7 227,134.3 229.8,133.9 232.7,133.5 235.5,133.2 238.4,132.8 241.2,132.5 244.1,132.2 246.9,131.9"/></g>
<path d="M148,197 L152,194.5 L158,195 L162,192.3 L166,194.6 L170,193.5 L174,195.6 L178,197 L180.5,205 L180.5,213 L178,219.5 L175.5,214 L170,211 L162,212 L154,211.5 L148,212 Z" fill="#0a0af5" opacity="0.75"/>
<g fill="none" stroke="#0a0af5" stroke-width="0.55" stroke-linejoin="round"><path d="M246.9,131.9 249.6,131.6 252.3,131.4 255,131.1 257.8,130.8 260.5,130.6 263.2,130.2 265.9,130 268.6,129.6 271.4,129.6 274.1,129.4 276.8,129.4 279.5,128.9 282.3,128.9 285,128.6 287.7,128.1 290.4,128 293.1,127.5 295.8,126.5 298.6,126.9 301.3,126.5 304,125.8 306.7,125 309.4,125.7 312.1,124.9 314.8,124.7 317.4,124.2 320,122.6 322,121.3 323.5,118.6 310.2,125 312.9,123.9 315.4,122.3 317.5,120.1 318.3,117.6 319.8,114.9 320,112 320.1,109 319.9,106 319.9,103.1 320.5,100.1 320,97.1 320.4,94.2 320.8,91.2 320.9,88.2 321.1,85.3 320.4,82.3 320.2,79.3 320.9,76.4 320.7,73.4 321,70.4 320.6,67.5 321,64.5 320.9,61.5 320.9,58.6 320.9,55.6 321,52.6 321,49.7 321.1,46.7 321.5,43.7 321.1,40.8 321.9,37.8 321.3,34.8 321.6,31.9 321.1,28.9 321.2,26 321.2,25.4 319.6,25.4 319.6,26 319.4,29.4 319.3,32.8 319.1,36.2 318.9,39.6 318.8,43.1 318.5,46.5 318.3,49.9 317.9,53.2 317.4,56.6 316.9,60 316.4,63.4 315.9,66.7 315.5,70.1 315.1,73.5 314.6,76.9 314,80.3 313.3,83.6 312.6,86.9 311.8,90.3 311,93.6 310.1,96.9 309,100.1 307.3,103.1 305.7,106.1 304.1,109 302.3,112 300.5,114.9 298.5,117.6 296.1,120 293.3,121.9 290.2,123.5 287.1,124.8 283.9,125.8 280.5,126.6 277.2,127.3 273.9,128.1 270.6,128.9 267.2,129.6 263.9,130.3 260.5,130.8 257.1,131.2 253.7,131.4 250.3,131.7 246.9,131.9"/><path d="M246.9,131.9 249.6,131.7 252.3,131.4 255,131.1 257.8,130.8 260.5,130.6 263.2,130.3 265.9,130 268.6,129.9 271.4,129.7 274.1,129.4 276.8,129.5 279.5,129.3 282.3,129.1 285,129.1 287.7,128.9 290.4,128.1 293.1,127.8 295.8,128 298.6,127.6 301.3,126.6 304,126.1 306.7,125.9 309.4,125.6 312.1,124.9 314.8,125 317.4,123.9 320,123 322,121.9 323.5,119.1 315.4,126.1 318.2,124.9 320.3,123 322.7,120.5 323.2,117.8 323.3,114.9 323.3,112 324.1,109 323.4,106 323.2,103.1 323.3,100.1 323.2,97.1 323.6,94.2 323.1,91.2 323.9,88.2 322.8,85.3 323.4,82.3 322.8,79.3 323.8,76.3 323,73.4 323.1,70.4 323.4,67.4 323.5,64.5 322.7,61.5 323,58.5 322.6,55.6 323.2,52.6 323.2,49.6 323.1,46.7 323.1,43.7 323.2,40.7 323.2,37.7 323.6,34.8 324,31.8 322.8,28.8 324,26 324,25.6 319,25.6 319,26 318.8,29.4 318.6,32.8 318.5,36.2 318.3,39.6 318.1,43 317.9,46.3 317.6,49.7 317.1,53.1 316.6,56.4 316.1,59.8 315.5,63.1 315.1,66.5 314.7,69.9 314.3,73.2 313.7,76.6 313.1,79.9 312.3,83.2 311.7,86.5 310.9,89.9 310.1,93.2 309.3,96.4 308.2,99.6 306.6,102.6 305.1,105.6 303.5,108.6 301.8,111.6 300,114.5 298.1,117.2 295.6,119.6 292.9,121.5 289.9,123.2 286.8,124.5 283.6,125.6 280.3,126.4 277,127.1 273.7,127.9 270.4,128.7 267.1,129.5 263.8,130.2 260.4,130.7 257,131.1 253.7,131.4 250.3,131.6 246.9,131.9"/><path d="M246.9,131.9 249.6,131.7 252.3,131.4 255,131.1 257.8,130.8 260.5,130.5 263.2,130.2 265.9,130 268.6,129.6 271.4,129.6 274.1,129.5 276.8,129.1 279.5,128.8 282.3,128.9 285,128.5 287.7,127.9 290.4,128.2 293.1,127.7 295.8,127.1 298.6,127.4 301.3,126.5 304,125.8 306.7,125.7 309.4,125 312.1,124.7 314.8,124.6 317.4,123.7 320,122.8 322,121.7 323.5,119.2 314.7,125.9 317.9,124.7 320,122.9 320.9,120.4 321.9,117.7 322,114.9 322.8,112 322.8,109 323.7,106 322.7,103.1 321.9,100.1 322.3,97.1 322.6,94.2 322.2,91.2 322.3,88.2 322.5,85.3 322.8,82.3 322.6,79.3 322.3,76.3 322.9,73.4 322.4,70.4 322.4,67.4 322.1,64.5 322.3,61.5 322.9,58.5 322.1,55.6 322.7,52.6 323,49.6 322.7,46.7 323,43.7 322.6,40.7 323.5,37.8 323.4,34.8 323.1,31.8 322.4,28.9 323.1,26 323.1,25.6 318.3,25.5 318.3,26 318.1,29.4 318,32.7 317.8,36.1 317.6,39.5 317.4,42.9 317.2,46.2 316.8,49.6 316.3,52.9 315.8,56.2 315.2,59.5 314.7,62.9 314.2,66.2 313.8,69.6 313.3,72.9 312.8,76.2 312.1,79.5 311.4,82.8 310.7,86.1 310,89.4 309.2,92.7 308.4,96 307.4,99.2 305.8,102.2 304.4,105.2 302.9,108.2 301.2,111.1 299.5,114 297.6,116.8 295.2,119.2 292.5,121.2 289.6,122.8 286.5,124.2 283.3,125.3 280,126.1 276.8,126.9 273.5,127.7 270.2,128.6 267,129.4 263.7,130.1 260.3,130.6 257,131 253.6,131.4 250.3,131.6 246.9,131.9"/><path d="M246.9,131.9 249.6,131.6 252.3,131.4 255,131.1 257.8,130.8 260.5,130.5 263.2,130.2 265.9,130 268.6,129.8 271.4,129.5 274.1,129.6 276.8,129.1 279.5,129.3 282.3,129.1 285,128.7 287.7,128.3 290.4,128.1 293.1,127.9 295.8,127.6 298.6,127.1 301.3,126.9 304,126.1 306.7,125.9 309.4,125 312.1,125.4 314.8,124.7 317.4,123.9 320,123.5 322,121.6 323.5,118.1 313.2,125.5 315.2,124.3 317.8,122.6 319.3,120.3 320.3,117.7 320.8,114.9 321.6,112 321.1,109 321.7,106 321.7,103.1 321.4,100.1 321.3,97.1 321.2,94.2 322.3,91.2 321.2,88.2 322.3,85.3 321.9,82.3 321.6,79.3 321.3,76.4 322.1,73.4 322.3,70.4 321.4,67.5 321.6,64.5 322.1,61.5 321.9,58.5 322.5,55.6 321.7,52.6 322.2,49.6 321.6,46.7 322.9,43.7 322,40.7 321.5,37.8 322.2,34.8 322.2,31.8 322.9,28.9 322.4,26 322.4,25 316.9,25.7 316.9,26 316.8,29.3 316.6,32.7 316.4,36 316.2,39.3 316,42.6 315.7,46 315.3,49.3 314.7,52.5 314,55.8 313.4,59.1 312.9,62.3 312.3,65.6 311.8,68.9 311.4,72.2 310.8,75.5 310.1,78.8 309.3,82 308.6,85.3 307.9,88.5 307.3,91.8 306.6,95 305.7,98.2 304.2,101.2 302.9,104.3 301.6,107.3 300,110.2 298.4,113.1 296.5,115.9 294.2,118.3 291.7,120.4 288.8,122.1 285.8,123.5 282.7,124.7 279.5,125.6 276.3,126.5 273.1,127.4 269.9,128.3 266.7,129.1 263.4,129.9 260.1,130.4 256.8,130.9 253.5,131.3 250.2,131.6 246.9,131.9"/><path d="M246.9,131.9 249.6,131.6 252.3,131.4 255,131.1 257.8,130.8 260.5,130.5 263.2,130.3 265.9,130.1 268.6,129.9 271.4,129.6 274.1,129.3 276.8,129.2 279.5,129 282.3,129.1 285,128.7 287.7,128.6 290.4,128.1 293.1,127.9 295.8,127.9 298.6,126.9 301.3,126.7 304,126.1 306.7,126.3 309.4,125.3 312.1,124.9 314.8,124.4 317.4,123.8 320,123.5 322,122.4 323.5,118.9 310.1,124.8 312,123.8 314.9,122.2 317,120 318.3,117.6 318.7,114.9 319.3,112 319.6,109 319.9,106 320.3,103.1 319.5,100.1 320.1,97.1 320.2,94.2 320.3,91.2 320.3,88.2 320.7,85.3 320.3,82.3 320.5,79.3 320.4,76.4 320.8,73.4 319.5,70.4 320.6,67.5 320.1,64.5 320.1,61.5 320,58.6 319.7,55.6 320.4,52.6 320.4,49.7 320.9,46.7 320.3,43.7 321.4,40.8 321.1,37.8 320.9,34.8 320.7,31.9 320.5,28.9 320.5,26 320.5,25.5 319.6,25.1 319.6,26 319.4,29.4 319.3,32.8 319.1,36.2 318.9,39.6 318.8,43.1 318.6,46.5 318.3,49.9 317.9,53.2 317.4,56.6 316.9,60 316.4,63.4 315.9,66.8 315.6,70.1 315.2,73.5 314.6,76.9 314,80.3 313.3,83.6 312.6,86.9 311.9,90.3 311,93.6 310.1,96.9 309,100.1 307.4,103.1 305.8,106.1 304.1,109.1 302.3,112 300.5,114.9 298.5,117.6 296.1,120 293.3,121.9 290.3,123.5 287.1,124.8 283.9,125.8 280.5,126.6 277.2,127.3 273.9,128.1 270.6,128.9 267.2,129.6 263.9,130.3 260.5,130.8 257.1,131.2 253.7,131.4 250.3,131.7 246.9,131.9"/><path d="M246.9,131.9 249.6,131.6 252.3,131.4 255,131.1 257.8,130.8 260.5,130.5 263.2,130.2 265.9,130 268.6,129.8 271.4,129.5 274.1,129.3 276.8,129.2 279.5,129.3 282.3,129.2 285,128.8 287.7,128.7 290.4,128 293.1,127.8 295.8,127.4 298.6,126.7 301.3,126.3 304,126.2 306.7,125.7 309.4,125.1 312.1,125.2 314.8,124.5 317.4,124.4 320,123.1 322,121.2 323.5,119.1 305.2,123.8 308.3,123 310.7,121.7 313,119.7 315,117.4 315.4,114.8 317.4,112 318.1,109 317.8,106.1 317.9,103.1 317.1,100.1 317.6,97.2 317.5,94.2 317.7,91.2 318.3,88.3 317.7,85.3 317.9,82.3 317.3,79.4 318,76.4 318,73.4 317.8,70.5 317.8,67.5 318.8,64.5 317.7,61.6 317.9,58.6 318.1,55.6 319,52.7 319.5,49.7 319,46.7 318.8,43.8 319,40.8 319.6,37.8 318.9,34.9 319.6,31.9 319.4,29 318.7,26 318.7,25.2 318.1,25.3 318.1,26 318,29.4 317.8,32.7 317.6,36.1 317.5,39.5 317.2,42.8 317,46.2 316.7,49.5 316.1,52.8 315.5,56.2 315,59.5 314.4,62.8 313.9,66.1 313.5,69.5 313.1,72.8 312.5,76.1 311.9,79.4 311.1,82.7 310.4,86 309.7,89.3 309,92.6 308.2,95.9 307.2,99.1 305.6,102 304.2,105.1 302.7,108.1 301.1,111 299.4,113.9 297.4,116.7 295.1,119.1 292.4,121.1 289.5,122.7 286.4,124.1 283.2,125.2 280,126.1 276.7,126.8 273.4,127.7 270.2,128.6 266.9,129.4 263.6,130.1 260.3,130.6 257,131 253.6,131.3 250.3,131.6 246.9,131.9"/><path d="M246.9,131.9 249.6,131.6 252.3,131.4 255,131.1 257.8,130.8 260.5,130.5 263.2,130.2 265.9,129.9 268.6,129.8 271.4,129.6 274.1,129.4 276.8,129 279.5,129.2 282.3,128.8 285,128.6 287.7,128.2 290.4,127.5 293.1,127.1 295.8,127.1 298.6,126.7 301.3,126.1 304,125.4 306.7,124.8 309.4,124.9 312.1,124.1 314.8,124.4 317.4,123.9 320,123.6 322,121.1 323.5,118.3 309.8,124.9 313,123.9 315.3,122.3 316.7,120.1 318.9,117.6 319.7,114.9 319.7,112 320.4,109 319.9,106 320.6,103.1 320.1,100.1 319.9,97.1 320.1,94.2 320,91.2 320.4,88.2 320.4,85.3 320.4,82.3 320.2,79.3 319.1,76.4 320.4,73.4 319.7,70.4 320.5,67.5 320.8,64.5 320.6,61.5 320.4,58.6 320.5,55.6 320.7,52.6 320.6,49.7 320.7,46.7 320.7,43.7 321.5,40.8 321.2,37.8 321.5,34.8 321,31.9 321.1,28.9 321.1,26 321.1,24.4 316.7,25.2 316.7,26 316.5,29.3 316.4,32.6 316.2,36 316,39.3 315.8,42.6 315.5,45.9 315.1,49.2 314.4,52.5 313.7,55.7 313.1,59 312.6,62.3 312,65.5 311.5,68.8 311,72.1 310.5,75.4 309.8,78.6 309,81.9 308.3,85.1 307.6,88.4 307,91.6 306.3,94.9 305.4,98.1 304,101 302.7,104.1 301.3,107.1 299.8,110.1 298.3,113 296.4,115.7 294.1,118.1 291.5,120.2 288.7,122 285.7,123.4 282.6,124.6 279.4,125.5 276.2,126.4 273,127.3 269.8,128.2 266.6,129.1 263.4,129.8 260.1,130.4 256.8,130.9 253.5,131.2 250.2,131.6 246.9,131.9"/><path d="M246.9,131.9 249.6,131.7 252.3,131.4 255,131.1 257.8,130.9 260.5,130.6 263.2,130.4 265.9,130.2 268.6,130 271.4,129.8 274.1,129.8 276.8,129.9 279.5,129.4 282.3,129.4 285,129.2 287.7,128.5 290.4,128.7 293.1,128.2 295.8,128.4 298.6,127.6 301.3,127.1 304,127 306.7,126.8 309.4,126.2 312.1,126 314.8,125 317.4,124.9 320,124.3 322,122.9 323.5,120.2 308.6,124.6 311,123.6 314.6,122.1 316.4,120 317.7,117.5 318.1,114.8 319.2,112 319.3,109 319.5,106.1 319.4,103.1 319.7,100.1 319.4,97.2 319.9,94.2 319.8,91.2 319.6,88.3 319.7,85.3 319.6,82.3 320.1,79.3 319.7,76.4 319.9,73.4 319.7,70.4 319.3,67.5 320.1,64.5 319.5,61.5 320.2,58.6 320.2,55.6 319.6,52.6 319.9,49.7 320.2,46.7 320.2,43.7 320.2,40.8 320.9,37.8 320.6,34.8 320.7,31.9 320.3,28.9 320.6,26 320.6,25.8 316.2,25.7 316.2,26 316,29.3 315.9,32.6 315.7,35.9 315.5,39.2 315.2,42.5 315,45.8 314.5,49.1 313.8,52.3 313.1,55.5 312.5,58.8 311.9,62.1 311.3,65.3 310.8,68.6 310.3,71.9 309.7,75.1 309,78.4 308.2,81.6 307.5,84.8 306.9,88 306.2,91.3 305.6,94.5 304.8,97.7 303.4,100.7 302.2,103.8 300.9,106.8 299.4,109.8 297.9,112.7 296,115.4 293.7,117.8 291.2,119.9 288.5,121.7 285.5,123.2 282.4,124.3 279.2,125.3 276.1,126.3 272.9,127.2 269.7,128.1 266.5,129 263.3,129.7 260,130.3 256.8,130.8 253.5,131.2 250.2,131.5 246.9,131.9"/><path d="M246.9,131.9 249.6,131.6 252.3,131.4 255,131.1 257.8,130.8 260.5,130.5 263.2,130.3 265.9,130 268.6,129.8 271.4,129.6 274.1,129.4 276.8,129.3 279.5,129 282.3,128.5 285,128.8 287.7,128.4 290.4,127.7 293.1,127.6 295.8,127 298.6,127.4 301.3,126.5 304,125.5 306.7,125.8 309.4,125.1 312.1,125.5 314.8,124 317.4,123 320,122.9 322,120.9 323.5,118.6 311.5,125.4 314.7,124.3 316.6,122.6 319,120.2 320.1,117.7 320.3,114.9 321.5,112 321.7,109 321.5,106 322,103.1 322,100.1 320.9,97.1 321.8,94.2 321.6,91.2 321.6,88.2 321.8,85.3 321.2,82.3 321.3,79.3 321.2,76.4 321.2,73.4 321.4,70.4 321,67.5 321.1,64.5 321.7,61.5 321.5,58.6 321.7,55.6 321,52.6 321.5,49.6 321.7,46.7 321.9,43.7 321.8,40.7 322.4,37.8 322.1,34.8 322.1,31.8 322,28.9 322.6,26 322.6,25.5 319.3,25.9 319.3,26 319.2,29.4 319,32.8 318.8,36.2 318.7,39.6 318.5,43 318.3,46.4 318,49.8 317.6,53.2 317.1,56.5 316.5,59.9 316,63.3 315.6,66.6 315.2,70 314.8,73.4 314.2,76.8 313.6,80.1 312.9,83.4 312.2,86.8 311.5,90.1 310.7,93.4 309.8,96.7 308.7,99.9 307,102.9 305.5,105.9 303.8,108.9 302.1,111.8 300.3,114.7 298.3,117.5 295.9,119.8 293.1,121.8 290.1,123.4 287,124.7 283.7,125.7 280.4,126.5 277.1,127.2 273.8,128 270.5,128.8 267.2,129.6 263.8,130.3 260.5,130.8 257.1,131.2 253.7,131.4 250.3,131.7 246.9,131.9"/><path d="M246.9,131.9 249.6,131.7 252.3,131.4 255,131.2 257.8,131 260.5,130.7 263.2,130.6 265.9,130.3 268.6,130.2 271.4,130.2 274.1,130.1 276.8,130.2 279.5,129.9 282.3,129.6 285,129.9 287.7,129.5 290.4,129.3 293.1,128.3 295.8,129 298.6,128.7 301.3,128.5 304,128.3 306.7,128.3 309.4,127.4 312.1,127.3 314.8,126.3 317.4,125.8 320,125.4 322,123.3 323.5,120.4 310,124.9 313.2,123.9 315.3,122.3 316.6,120.1 319.3,117.6 319.4,114.9 319.8,112 320.4,109 319.8,106 319.8,103.1 320.1,100.1 320.1,97.1 320.4,94.2 320.8,91.2 320.3,88.2 320.7,85.3 320.7,82.3 320.1,79.3 320.6,76.4 320.2,73.4 320.9,70.4 320.7,67.5 320.5,64.5 320.1,61.5 320.7,58.6 320.4,55.6 321.1,52.6 320.9,49.7 320.7,46.7 321.5,43.7 321.5,40.8 321.1,37.8 321.7,34.8 321.1,31.9 321,28.9 321.3,26 321.3,25.3 314.7,25.2 314.7,26 314.5,29.3 314.3,32.5 314.1,35.8 313.9,39 313.6,42.3 313.3,45.5 312.8,48.8 312,51.9 311.1,55.1 310.5,58.3 309.9,61.5 309.3,64.7 308.7,67.9 308.1,71.1 307.5,74.3 306.8,77.5 305.9,80.6 305.2,83.8 304.6,87 304.1,90.2 303.5,93.4 302.8,96.6 301.6,99.6 300.5,102.7 299.4,105.7 298.1,108.7 296.6,111.7 294.8,114.4 292.7,116.8 290.3,119 287.6,120.9 284.7,122.4 281.7,123.7 278.6,124.7 275.5,125.8 272.4,126.8 269.3,127.8 266.2,128.7 263,129.5 259.8,130.1 256.6,130.6 253.4,131.1 250.1,131.5 246.9,131.9"/><path d="M246.9,131.9 249.6,131.7 252.3,131.4 255,131.1 257.8,130.8 260.5,130.6 263.2,130.2 265.9,130 268.6,129.7 271.4,129.4 274.1,129.5 276.8,129.4 279.5,129.1 282.3,128.9 285,128.7 287.7,128.2 290.4,128.4 293.1,127.8 295.8,127.3 298.6,126.9 301.3,126.7 304,126.2 306.7,125.9 309.4,124.9 312.1,125.1 314.8,125.2 317.4,123.7 320,122.8 322,121.4 323.5,119.1 316.7,126.3 318.6,125 321.2,123.1 322.7,120.6 323.7,117.8 323.5,114.9 323.5,112 324.2,109 324.2,106 323.8,103.1 323.4,100.1 323.7,97.1 323.6,94.2 323.8,91.2 323.1,88.2 323.6,85.2 323.5,82.3 323.2,79.3 323.6,76.3 323.6,73.4 323.4,70.4 323.7,67.4 323,64.5 323.5,61.5 323.6,58.5 323.6,55.6 323.9,52.6 323.1,49.6 323.1,46.6 323.7,43.7 323.9,40.7 324.5,37.7 324,34.8 323.5,31.8 324.2,28.8 324.2,26 324.2,24.9 320.1,25.6 320.1,26 319.9,29.4 319.8,32.9 319.7,36.3 319.5,39.7 319.3,43.1 319.1,46.6 318.9,50 318.5,53.4 318.1,56.8 317.6,60.2 317.1,63.6 316.6,67 316.3,70.4 315.9,73.8 315.4,77.2 314.8,80.6 314.1,83.9 313.4,87.3 312.6,90.6 311.8,94 310.8,97.2 309.6,100.5 308,103.4 306.3,106.4 304.6,109.4 302.8,112.3 301,115.2 298.9,118 296.4,120.3 293.6,122.2 290.5,123.8 287.4,125.1 284.1,126.1 280.7,126.8 277.4,127.5 274,128.2 270.7,129 267.3,129.8 264,130.4 260.6,130.9 257.2,131.2 253.7,131.5 250.3,131.7 246.9,131.9"/><path d="M246.9,131.9 249.6,131.7 252.3,131.4 255,131.2 257.8,130.9 260.5,130.7 263.2,130.5 265.9,130.4 268.6,130.1 271.4,130.2 274.1,130 276.8,130 279.5,129.9 282.3,129.9 285,129.4 287.7,129.9 290.4,129.5 293.1,129 295.8,128.6 298.6,128.1 301.3,127.9 304,128.2 306.7,127.7 309.4,127.1 312.1,126.9 314.8,127.1 317.4,125.9 320,124.9 322,123.7 323.5,121.2 317.4,126.5 319.5,125.1 321.8,123.2 323,120.6 323.8,117.8 323.9,114.9 324.1,112 324.2,109 323.9,106 323.6,103.1 323.5,100.1 324.1,97.1 323.9,94.2 324.3,91.2 324.3,88.2 323.8,85.2 324.2,82.3 323.4,79.3 324.7,76.3 324.3,73.4 323.8,70.4 323.5,67.4 324,64.5 323.2,61.5 323.6,58.5 324.1,55.5 323.9,52.6 323.7,49.6 324.2,46.6 323.6,43.7 324.1,40.7 323.9,37.7 323.8,34.8 324.3,31.8 323.9,28.8 325.5,26 325.5,25.2 314.9,24.9 314.9,26 314.7,29.3 314.5,32.5 314.3,35.8 314.1,39.1 313.9,42.3 313.6,45.6 313.1,48.8 312.3,52 311.4,55.1 310.8,58.3 310.2,61.6 309.6,64.8 309,68 308.4,71.2 307.8,74.4 307.1,77.6 306.2,80.8 305.5,84 304.9,87.2 304.4,90.4 303.8,93.6 303.1,96.8 301.8,99.8 300.8,102.9 299.6,105.9 298.3,108.9 296.8,111.8 295,114.5 292.8,117 290.4,119.2 287.8,121.1 284.9,122.5 281.8,123.8 278.7,124.8 275.6,125.8 272.5,126.9 269.4,127.8 266.2,128.7 263.1,129.5 259.9,130.2 256.6,130.7 253.4,131.1 250.1,131.5 246.9,131.9"/><path d="M246.9,131.9 249.6,131.7 252.3,131.4 255,131.2 257.8,130.9 260.5,130.7 263.2,130.6 265.9,130.3 268.6,130.1 271.4,130.2 274.1,130.1 276.8,130 279.5,129.7 282.3,129.8 285,129.8 287.7,129.4 290.4,129.1 293.1,129.2 295.8,129.1 298.6,128.1 301.3,127.4 304,127.5 306.7,127.3 309.4,127.3 312.1,127.1 314.8,126.4 317.4,125.6 320,125 322,122.8 323.5,120.9 312.7,125.7 316,124.5 318.2,122.7 319.9,120.3 321,117.7 321.3,114.9 321.6,112 322.1,109 322.2,106 321.9,103.1 322.2,100.1 321.9,97.1 321.7,94.2 322.1,91.2 322.7,88.2 321.8,85.3 322.5,82.3 322.6,79.3 322.6,76.4 321.8,73.4 322.8,70.4 322.1,67.4 322,64.5 322,61.5 322.3,58.5 322.2,55.6 322.2,52.6 322.7,49.6 322.1,46.7 322.1,43.7 322.8,40.7 322.8,37.8 323,34.8 322.2,31.8 323,28.9 323.1,26 323.1,26.2 315.6,25.6 315.6,26 315.4,29.3 315.2,32.6 315,35.9 314.8,39.1 314.6,42.4 314.3,45.7 313.8,49 313,52.1 312.3,55.3 311.6,58.6 311,61.8 310.5,65 309.9,68.3 309.4,71.5 308.8,74.8 308.1,78 307.2,81.2 306.5,84.4 305.9,87.6 305.3,90.8 304.7,94.1 303.9,97.3 302.6,100.2 301.5,103.3 300.2,106.3 298.9,109.3 297.3,112.2 295.5,115 293.3,117.4 290.8,119.6 288.1,121.4 285.2,122.9 282.1,124.1 279,125.1 275.8,126 272.7,127 269.6,128 266.4,128.8 263.2,129.6 260,130.2 256.7,130.7 253.4,131.1 250.2,131.5 246.9,131.9"/><path d="M246.9,131.9 249.6,131.7 252.3,131.4 255,131.2 257.8,130.9 260.5,130.7 263.2,130.5 265.9,130.3 268.6,130.3 271.4,130.1 274.1,130.1 276.8,129.8 279.5,129.9 282.3,129.7 285,129.5 287.7,129.4 290.4,129.2 293.1,128.9 295.8,128.7 298.6,128.2 301.3,127.8 304,128 306.7,126.9 309.4,126.9 312.1,127.3 314.8,125.4 317.4,125.5 320,125 322,122.4 323.5,121.6 306.8,124.2 309.4,123.3 312,121.9 314.5,119.8 316.1,117.5 317.8,114.8 317.8,112 318.7,109 318.6,106.1 318.6,103.1 317.9,100.1 318.2,97.2 319,94.2 319.3,91.2 318.9,88.3 319.2,85.3 318.8,82.3 318.8,79.4 318.7,76.4 319.3,73.4 319.1,70.5 318.9,67.5 318.9,64.5 319.3,61.5 319.3,58.6 319,55.6 320,52.7 319.6,49.7 319.7,46.7 320.3,43.8 320.3,40.8 320,37.8 320.2,34.9 319.5,31.9 319.5,28.9 318.9,26 318.9,25.8 316.6,25.9 316.6,26 316.4,29.3 316.2,32.6 316,35.9 315.8,39.3 315.6,42.6 315.3,45.9 314.9,49.2 314.2,52.4 313.5,55.7 312.9,58.9 312.4,62.2 311.8,65.5 311.3,68.7 310.8,72 310.2,75.3 309.5,78.5 308.7,81.8 308,85 307.4,88.3 306.7,91.5 306,94.8 305.2,98 303.8,100.9 302.5,104 301.2,107 299.7,110 298.1,112.9 296.2,115.6 294,118 291.4,120.1 288.6,121.9 285.6,123.3 282.5,124.5 279.4,125.4 276.2,126.4 273,127.3 269.8,128.2 266.6,129 263.4,129.8 260.1,130.4 256.8,130.8 253.5,131.2 250.2,131.6 246.9,131.9"/><path d="M246.9,131.9 249.6,131.7 252.3,131.4 255,131.1 257.8,130.9 260.5,130.6 263.2,130.3 265.9,130.1 268.6,130 271.4,129.8 274.1,129.7 276.8,129.4 279.5,129.4 282.3,129.1 285,129.2 287.7,129 290.4,128.6 293.1,128.8 295.8,128.1 298.6,127.8 301.3,127.3 304,126.9 306.7,127 309.4,126.7 312.1,125.4 314.8,125.8 317.4,125 320,124.3 322,122.3 323.5,119.4 315.6,126.2 318.5,124.9 320.9,123.1 321.8,120.5 323.4,117.8 323.6,114.9 323.1,112 323.6,109 323.3,106 323.2,103.1 323.4,100.1 323.1,97.1 323.7,94.2 323.1,91.2 323.7,88.2 323.3,85.3 323.6,82.3 323.1,79.3 323.2,76.3 322.9,73.4 323.5,70.4 323.6,67.4 324,64.5 323.7,61.5 323.4,58.5 323.2,55.6 323.5,52.6 323.4,49.6 323.9,46.7 323.8,43.7 323.2,40.7 323.3,37.7 324.1,34.8 323.7,31.8 323.6,28.8 324.7,26 324.7,25.9 318.1,25.5 318.1,26 317.9,29.4 317.7,32.7 317.6,36.1 317.4,39.5 317.2,42.8 316.9,46.2 316.6,49.5 316.1,52.8 315.5,56.1 314.9,59.5 314.4,62.8 313.9,66.1 313.4,69.4 313,72.8 312.4,76.1 311.8,79.4 311,82.7 310.3,86 309.6,89.3 308.9,92.6 308.1,95.8 307.1,99 305.6,102 304.2,105 302.6,108 301,111 299.3,113.9 297.4,116.6 295,119 292.4,121 289.4,122.7 286.4,124.1 283.2,125.2 280,126 276.7,126.8 273.4,127.7 270.2,128.5 266.9,129.3 263.6,130.1 260.3,130.6 257,131 253.6,131.3 250.3,131.6 246.9,131.9"/><path d="M246.9,131.9 249.6,131.7 252.3,131.4 255,131.2 257.8,130.9 260.5,130.7 263.2,130.5 265.9,130.3 268.6,130 271.4,129.9 274.1,129.8 276.8,129.8 279.5,129.6 282.3,129.6 285,129.3 287.7,129.2 290.4,128.8 293.1,128.5 295.8,128.3 298.6,127.9 301.3,127.3 304,127.9 306.7,127 309.4,126.3 312.1,126.7 314.8,125.6 317.4,125.5 320,124.4 322,122.6 323.5,120.3 314.6,125.9 316.3,124.6 319.2,122.9 320.6,120.4 321.3,117.7 322.1,114.9 322.5,112 322.5,109 322.1,106 322.4,103.1 323.2,100.1 322.1,97.1 321.9,94.2 322.6,91.2 322.7,88.2 322.7,85.3 322.1,82.3 322.9,79.3 322.3,76.4 322.1,73.4 322.3,70.4 322.5,67.4 322.7,64.5 322.7,61.5 322.5,58.5 322.9,55.6 322.6,52.6 323,49.6 322.2,46.7 322.3,43.7 323.1,40.7 322.4,37.8 322.8,34.8 322.9,31.8 322.8,28.9 323.2,26 323.2,25.4 315.3,26 315.3,26 315.1,29.3 314.9,32.6 314.7,35.8 314.5,39.1 314.3,42.4 314,45.6 313.5,48.9 312.7,52.1 311.9,55.3 311.3,58.5 310.7,61.7 310.1,64.9 309.5,68.2 309,71.4 308.4,74.6 307.7,77.8 306.8,81 306.1,84.2 305.5,87.4 304.9,90.6 304.3,93.9 303.6,97.1 302.3,100 301.2,103.1 300,106.2 298.6,109.1 297.1,112.1 295.3,114.8 293.1,117.2 290.6,119.4 288,121.2 285,122.7 282,123.9 278.9,125 275.7,126 272.6,127 269.5,127.9 266.3,128.8 263.1,129.6 259.9,130.2 256.7,130.7 253.4,131.1 250.2,131.5 246.9,131.9"/><path d="M246.9,131.9 249.6,131.6 252.3,131.4 255,131.1 257.8,130.8 260.5,130.6 263.2,130.3 265.9,130 268.6,129.6 271.4,129.5 274.1,129.6 276.8,129.3 279.5,129.1 282.3,128.8 285,128.7 287.7,128.4 290.4,128 293.1,127.5 295.8,127.8 298.6,126.9 301.3,126.3 304,125.7 306.7,125.5 309.4,125.6 312.1,125.2 314.8,124.4 317.4,124 320,122.9 322,120.8 323.5,119.4 309.1,124.6 312,123.7 314.7,122.2 316.3,120 317.7,117.5 318.8,114.8 319.7,112 319.8,109 319.2,106.1 319.4,103.1 319.7,100.1 319.4,97.2 319.6,94.2 319.5,91.2 319.7,88.2 320,85.3 320.2,82.3 319.9,79.3 320.6,76.4 319.9,73.4 321,70.4 320.3,67.5 320.1,64.5 319.8,61.5 319.1,58.6 320.1,55.6 320.3,52.6 321,49.7 320,46.7 321.3,43.7 320.6,40.8 321,37.8 319.9,34.8 320.7,31.9 320.5,28.9 320.9,26 320.9,26.1 319.9,25.2 319.9,26 319.8,29.4 319.6,32.8 319.5,36.3 319.3,39.7 319.1,43.1 318.9,46.5 318.7,49.9 318.3,53.3 317.8,56.7 317.3,60.1 316.8,63.5 316.4,66.9 316,70.3 315.7,73.7 315.1,77.1 314.5,80.5 313.8,83.8 313.1,87.2 312.4,90.5 311.5,93.8 310.6,97.1 309.4,100.3 307.8,103.3 306.1,106.3 304.4,109.3 302.6,112.2 300.8,115.1 298.8,117.9 296.3,120.2 293.5,122.1 290.4,123.7 287.3,125 284,126 280.7,126.7 277.3,127.4 274,128.2 270.6,129 267.3,129.7 263.9,130.4 260.6,130.9 257.1,131.2 253.7,131.5 250.3,131.7 246.9,131.9"/><path d="M246.9,131.9 249.6,131.7 252.3,131.4 255,131.2 257.8,131 260.5,130.7 263.2,130.6 265.9,130.4 268.6,130.3 271.4,130.1 274.1,130.1 276.8,130 279.5,130 282.3,129.7 285,129.8 287.7,130.1 290.4,129.3 293.1,129 295.8,128.6 298.6,128.1 301.3,128.6 304,128.1 306.7,127.9 309.4,128.1 312.1,127.9 314.8,126.3 317.4,126.4 320,125.3 322,123.4 323.5,121.2 307.7,124.3 310.5,123.4 312.8,122 314.7,119.9 316.3,117.5 317.8,114.8 318.6,112 318.6,109 318.8,106.1 318.6,103.1 318.3,100.1 318.4,97.2 319.2,94.2 319.1,91.2 319.6,88.3 319.1,85.3 319.4,82.3 319.5,79.4 319.4,76.4 318.9,73.4 319,70.4 319.2,67.5 318.8,64.5 319.4,61.5 319.6,58.6 319.2,55.6 320.2,52.7 319.6,49.7 319.7,46.7 319.9,43.8 319.8,40.8 320.3,37.8 320.1,34.9 320.6,31.9 320.1,28.9 320,26 320,25.9 317.5,25.6 317.5,26 317.4,29.3 317.2,32.7 317,36 316.8,39.4 316.6,42.7 316.4,46.1 316,49.4 315.4,52.7 314.8,56 314.2,59.3 313.7,62.6 313.1,65.9 312.7,69.2 312.2,72.5 311.6,75.8 311,79.1 310.2,82.4 309.5,85.6 308.8,88.9 308.1,92.2 307.4,95.4 306.4,98.6 304.9,101.6 303.6,104.7 302.1,107.7 300.6,110.6 298.9,113.5 297,116.3 294.7,118.7 292,120.7 289.2,122.4 286.1,123.8 283,124.9 279.7,125.8 276.5,126.7 273.3,127.5 270,128.4 266.8,129.2 263.5,130 260.2,130.5 256.9,131 253.6,131.3 250.2,131.6 246.9,131.9"/><path d="M246.9,131.9 249.6,131.6 252.3,131.4 255,131.1 257.8,130.8 260.5,130.5 263.2,130.2 265.9,130 268.6,129.8 271.4,129.5 274.1,129.6 276.8,129.2 279.5,129 282.3,129.1 285,128.9 287.7,128.5 290.4,127.7 293.1,127.6 295.8,127.5 298.6,126.9 301.3,127 304,125.7 306.7,126 309.4,125.2 312.1,125.5 314.8,124.5 317.4,124.3 320,122.8 322,120.7 323.5,118.5 311.4,125.3 314.3,124.2 316.4,122.5 318.6,120.2 319.8,117.6 319.8,114.9 320.9,112 321.3,109 321.2,106 320.8,103.1 321.5,100.1 320.8,97.1 320.7,94.2 320.8,91.2 321.2,88.2 321.5,85.3 321.6,82.3 321.3,79.3 320.8,76.4 321,73.4 320.9,70.4 321.1,67.5 320.6,64.5 321.3,61.5 321.5,58.6 321.3,55.6 321.6,52.6 321.2,49.7 321.1,46.7 321.5,43.7 322.2,40.8 322.2,37.8 321.7,34.8 322.2,31.9 321.7,28.9 322.6,26 322.6,25.1 316.6,25.8 316.6,26 316.4,29.3 316.3,32.6 316.1,36 315.9,39.3 315.7,42.6 315.4,45.9 315,49.2 314.3,52.4 313.6,55.7 313,58.9 312.5,62.2 311.9,65.5 311.4,68.8 310.9,72.1 310.3,75.3 309.7,78.6 308.8,81.8 308.1,85.1 307.5,88.3 306.8,91.6 306.1,94.8 305.3,98 303.9,101 302.6,104 301.3,107.1 299.8,110 298.2,112.9 296.3,115.7 294,118.1 291.5,120.2 288.7,122 285.7,123.4 282.6,124.5 279.4,125.5 276.2,126.4 273,127.3 269.8,128.2 266.6,129.1 263.4,129.8 260.1,130.4 256.8,130.9 253.5,131.2 250.2,131.6 246.9,131.9"/><path d="M246.9,131.9 249.6,131.6 252.3,131.4 255,131.1 257.8,130.8 260.5,130.6 263.2,130.3 265.9,130 268.6,129.9 271.4,129.7 274.1,129.4 276.8,129.6 279.5,129 282.3,129 285,129 287.7,128.4 290.4,128.2 293.1,128 295.8,128.1 298.6,126.9 301.3,126.7 304,126.6 306.7,126 309.4,125.2 312.1,125.4 314.8,124.8 317.4,124.4 320,123.7 322,121.8 323.5,119.3 308.2,124.5 310.5,123.6 313.4,122.1 315.2,119.9 317.3,117.5 318.3,114.8 318.6,112 319,109 319.8,106.1 319,103.1 319,100.1 319.2,97.2 319.2,94.2 319.3,91.2 319.7,88.3 320.2,85.3 319,82.3 319.6,79.3 319.6,76.4 319.6,73.4 319.5,70.4 319.5,67.5 320,64.5 319.5,61.5 319.7,58.6 319.9,55.6 320,52.6 320,49.7 320.6,46.7 320.4,43.7 320.5,40.8 320.5,37.8 320.2,34.8 320.1,31.9 319.9,28.9 320.4,26 320.4,25.1 320,25.4 320,26 319.8,29.4 319.7,32.8 319.5,36.3 319.4,39.7 319.2,43.1 319,46.5 318.7,50 318.4,53.4 317.9,56.8 317.4,60.1 316.9,63.5 316.5,66.9 316.1,70.3 315.8,73.7 315.2,77.1 314.6,80.5 313.9,83.9 313.2,87.2 312.5,90.5 311.6,93.9 310.7,97.2 309.5,100.4 307.8,103.4 306.2,106.4 304.5,109.3 302.7,112.2 300.9,115.1 298.9,117.9 296.4,120.3 293.5,122.2 290.5,123.7 287.3,125 284,126 280.7,126.8 277.3,127.4 274,128.2 270.7,129 267.3,129.7 264,130.4 260.6,130.9 257.2,131.2 253.7,131.5 250.3,131.7 246.9,131.9"/><path d="M246.9,131.9 249.6,131.6 252.3,131.4 255,131.1 257.8,130.8 260.5,130.5 263.2,130.2 265.9,129.9 268.6,129.6 271.4,129.6 274.1,129.2 276.8,129 279.5,128.9 282.3,128.7 285,128.8 287.7,127.7 290.4,127.9 293.1,127.6 295.8,126.7 298.6,126.4 301.3,126.3 304,126.3 306.7,125 309.4,124.5 312.1,125 314.8,124.7 317.4,123.5 320,121.9 322,121.3 323.5,118.5 317.5,126.6 320.7,125.2 322.6,123.3 323.7,120.7 324.2,117.8 324.6,114.9 324.2,112 324.8,109 324.2,106 324.5,103.1 324.3,100.1 324.6,97.1 324.1,94.2 324.5,91.2 323.8,88.2 324.3,85.2 324.1,82.3 324.2,79.3 324.2,76.3 324.5,73.4 323.4,70.4 324.2,67.4 323.5,64.5 324.5,61.5 323.3,58.5 323.7,55.5 323.5,52.6 324.6,49.6 323.6,46.6 324.2,43.7 324,40.7 323.6,37.7 324.1,34.8 324.5,31.8 324.3,28.8 325.4,26 325.4,25.4 317.5,25.3 317.5,26 317.4,29.3 317.2,32.7 317,36 316.8,39.4 316.6,42.7 316.4,46.1 316,49.4 315.4,52.7 314.8,56 314.2,59.3 313.7,62.6 313.1,65.9 312.7,69.2 312.2,72.5 311.6,75.8 311,79.1 310.2,82.4 309.5,85.6 308.8,88.9 308.1,92.2 307.4,95.4 306.4,98.6 304.9,101.6 303.6,104.7 302.1,107.7 300.6,110.6 298.9,113.5 297,116.3 294.7,118.7 292,120.7 289.2,122.4 286.1,123.8 283,124.9 279.7,125.8 276.5,126.7 273.3,127.5 270,128.4 266.8,129.2 263.5,130 260.2,130.5 256.9,131 253.6,131.3 250.2,131.6 246.9,131.9"/><path d="M246.9,131.9 249.6,131.6 252.3,131.4 255,131.1 257.8,130.8 260.5,130.5 263.2,130.2 265.9,129.9 268.6,129.8 271.4,129.6 274.1,129.3 276.8,129.2 279.5,129 282.3,128.8 285,128.8 287.7,128.7 290.4,127.9 293.1,127.5 295.8,126.6 298.6,126.7 301.3,126.2 304,125.3 306.7,125.7 309.4,125.4 312.1,124.6 314.8,124.2 317.4,123.4 320,123.1 322,120.5 323.5,118.6 310.7,125 313.3,124 315.8,122.4 317.5,120.1 319.1,117.6 319.6,114.9 320.2,112 320.5,109 321,106 320.7,103.1 320.5,100.1 320.8,97.1 320.8,94.2 321.1,91.2 320.9,88.2 321.4,85.3 321.2,82.3 320.7,79.3 320.6,76.4 321.1,73.4 320.9,70.4 320.7,67.5 320.3,64.5 320.2,61.5 321,58.6 321.2,55.6 321.3,52.6 320.7,49.7 321.6,46.7 321.1,43.7 321.6,40.8 321.6,37.8 321.2,34.8 321.2,31.9 320.6,28.9 321.2,26 321.2,25.4 318.3,25.5 318.3,26 318.2,29.4 318,32.7 317.8,36.1 317.7,39.5 317.5,42.9 317.2,46.2 316.9,49.6 316.4,52.9 315.8,56.2 315.3,59.6 314.7,62.9 314.2,66.2 313.8,69.6 313.4,72.9 312.8,76.2 312.2,79.6 311.4,82.8 310.7,86.1 310,89.4 309.3,92.7 308.4,96 307.4,99.2 305.9,102.2 304.4,105.2 302.9,108.2 301.2,111.1 299.5,114.1 297.6,116.8 295.2,119.2 292.5,121.2 289.6,122.8 286.5,124.2 283.3,125.3 280.1,126.1 276.8,126.9 273.5,127.7 270.2,128.6 267,129.4 263.7,130.1 260.3,130.6 257,131 253.6,131.4 250.3,131.6 246.9,131.9"/><path d="M246.9,131.9 249.6,131.7 252.3,131.4 255,131.1 257.8,130.8 260.5,130.5 263.2,130.3 265.9,130 268.6,129.9 271.4,129.7 274.1,129.5 276.8,129.3 279.5,129.1 282.3,129 285,128.6 287.7,128.7 290.4,127.8 293.1,127.8 295.8,128.1 298.6,127 301.3,126.4 304,126.3 306.7,126.4 309.4,125.6 312.1,125.4 314.8,124.8 317.4,124.1 320,124.3 322,121.5 323.5,119 305.4,124 308.5,123.2 310.8,121.8 313.9,119.7 315.6,117.5 316.9,114.8 317.1,112 317.3,109 317.9,106.1 318,103.1 317.7,100.1 318.1,97.2 318.4,94.2 318.4,91.2 318,88.3 317.6,85.3 318.3,82.3 318.5,79.4 318.3,76.4 318.3,73.4 318.2,70.5 318.7,67.5 318.5,64.5 318.6,61.6 318.3,58.6 318.6,55.6 319,52.7 318.7,49.7 318.8,46.7 319.3,43.8 319.9,40.8 319.6,37.8 320.1,34.9 319.4,31.9 319.1,28.9 318.6,26 318.6,25.5 317.2,25.5 317.2,26 317,29.3 316.8,32.7 316.6,36 316.4,39.3 316.2,42.7 316,46 315.6,49.3 315,52.6 314.3,55.9 313.7,59.1 313.2,62.4 312.6,65.7 312.2,69 311.7,72.3 311.1,75.6 310.4,78.9 309.6,82.1 308.9,85.4 308.3,88.7 307.6,91.9 306.9,95.2 305.9,98.4 304.5,101.4 303.2,104.4 301.8,107.4 300.2,110.4 298.6,113.3 296.7,116 294.4,118.4 291.8,120.5 289,122.2 285.9,123.6 282.8,124.8 279.6,125.7 276.4,126.5 273.2,127.4 270,128.3 266.7,129.2 263.5,129.9 260.2,130.5 256.9,130.9 253.5,131.3 250.2,131.6 246.9,131.9"/><path d="M246.9,131.9 249.6,131.7 252.3,131.4 255,131.2 257.8,130.9 260.5,130.6 263.2,130.4 265.9,130.1 268.6,129.9 271.4,129.9 274.1,129.9 276.8,129.5 279.5,129.3 282.3,129.6 285,129 287.7,129.4 290.4,128.7 293.1,128.2 295.8,128.3 298.6,128.1 301.3,126.9 304,127.5 306.7,126.6 309.4,126.9 312.1,125.8 314.8,125 317.4,125.1 320,124.3 322,122.9 323.5,120.5 317.6,126.7 320.5,125.3 322.2,123.3 324,120.7 324.5,117.8 324.3,114.9 324.5,112 324.4,109 324.9,106 323.6,103.1 324.3,100.1 323.7,97.1 324.1,94.2 324.6,91.2 324,88.2 324.3,85.2 324,82.3 325,79.3 324.6,76.3 324.7,73.4 323.8,70.4 323.8,67.4 324.6,64.5 324.1,61.5 324.1,58.5 324.3,55.5 323.7,52.6 324.5,49.6 324.2,46.6 324.4,43.7 324.1,40.7 324.5,37.7 324.1,34.8 324.8,31.8 324.9,28.8 325.5,26 325.5,25.3 320.1,25.2 320.1,26 319.9,29.4 319.8,32.9 319.6,36.3 319.5,39.7 319.3,43.1 319.1,46.6 318.9,50 318.5,53.4 318.1,56.8 317.6,60.2 317.1,63.6 316.6,67 316.3,70.4 315.9,73.8 315.4,77.2 314.8,80.6 314.1,83.9 313.4,87.3 312.6,90.6 311.8,93.9 310.8,97.2 309.6,100.5 308,103.4 306.3,106.4 304.6,109.4 302.8,112.3 301,115.2 298.9,118 296.4,120.3 293.6,122.2 290.5,123.8 287.4,125.1 284.1,126.1 280.7,126.8 277.4,127.5 274,128.2 270.7,129 267.3,129.8 264,130.4 260.6,130.9 257.2,131.2 253.7,131.5 250.3,131.7 246.9,131.9"/><path d="M246.9,131.9 249.6,131.6 252.3,131.4 255,131.1 257.8,130.8 260.5,130.5 263.2,130.3 265.9,129.9 268.6,129.8 271.4,129.4 274.1,129.4 276.8,129.4 279.5,129 282.3,128.9 285,128.6 287.7,128 290.4,128.2 293.1,127.8 295.8,127 298.6,127.1 301.3,126.3 304,125.8 306.7,125.8 309.4,125.2 312.1,125.8 314.8,124 317.4,124.2 320,123.4 322,120.5 323.5,118.4 306.8,124.2 310,123.3 311.9,121.9 314.2,119.8 315.5,117.5 317.9,114.8 318.2,112 317.9,109 318.5,106.1 318.9,103.1 318.7,100.1 318.7,97.2 318.4,94.2 318.6,91.2 318.9,88.3 319.2,85.3 318.6,82.3 318.5,79.4 319.3,76.4 318.6,73.4 319.3,70.5 319,67.5 319.3,64.5 319.7,61.5 319.4,58.6 319.5,55.6 319.1,52.7 319.3,49.7 319.9,46.7 320.3,43.8 320.4,40.8 320.8,37.8 320.1,34.9 319.9,31.9 320.1,28.9 319.6,26 319.6,25.3 317.3,25.5 317.3,26 317.1,29.3 317,32.7 316.8,36 316.6,39.4 316.4,42.7 316.1,46 315.7,49.3 315.1,52.6 314.5,55.9 313.9,59.2 313.4,62.5 312.8,65.8 312.4,69.1 311.9,72.4 311.3,75.7 310.7,79 309.9,82.2 309.2,85.5 308.5,88.8 307.8,92 307.1,95.3 306.1,98.5 304.7,101.5 303.3,104.5 301.9,107.5 300.4,110.5 298.7,113.4 296.8,116.1 294.5,118.5 291.9,120.6 289,122.3 286,123.7 282.9,124.8 279.7,125.7 276.4,126.6 273.2,127.5 270,128.4 266.8,129.2 263.5,129.9 260.2,130.5 256.9,130.9 253.6,131.3 250.2,131.6 246.9,131.9"/><path d="M246.9,131.9 249.6,131.6 252.3,131.4 255,131.1 257.8,130.8 260.5,130.5 263.2,130.1 265.9,130.1 268.6,129.8 271.4,129.6 274.1,129.4 276.8,129.3 279.5,129.2 282.3,128.6 285,128.9 287.7,128.3 290.4,128 293.1,128.1 295.8,127.6 298.6,126.8 301.3,126 304,126.2 306.7,125.9 309.4,125.4 312.1,124.6 314.8,124.3 317.4,123.5 320,123.1 322,121.5 323.5,119.3 311.4,125.3 315.2,124.2 317.4,122.5 319,120.2 319.5,117.6 320.5,114.9 320.9,112 321.1,109 320.8,106 321.4,103.1 321.3,100.1 321.3,97.1 321,94.2 321.7,91.2 321.4,88.2 320.4,85.3 321.1,82.3 321.3,79.3 321.7,76.4 321.2,73.4 321.2,70.4 321.1,67.5 321.6,64.5 321.2,61.5 321.2,58.6 321.2,55.6 321.7,52.6 321.4,49.7 321.1,46.7 322,43.7 321.6,40.8 322.1,37.8 322.1,34.8 322.3,31.8 322.2,28.9 321.9,26 321.9,25.5 319.9,25.6 319.9,26 319.8,29.4 319.6,32.8 319.5,36.3 319.3,39.7 319.1,43.1 318.9,46.5 318.7,49.9 318.3,53.3 317.9,56.7 317.4,60.1 316.9,63.5 316.4,66.9 316.1,70.3 315.7,73.7 315.1,77.1 314.5,80.5 313.8,83.8 313.1,87.2 312.4,90.5 311.6,93.8 310.6,97.1 309.4,100.3 307.8,103.3 306.1,106.3 304.4,109.3 302.6,112.2 300.8,115.1 298.8,117.9 296.3,120.2 293.5,122.1 290.4,123.7 287.3,125 284,126 280.7,126.7 277.3,127.4 274,128.2 270.6,129 267.3,129.7 263.9,130.4 260.6,130.9 257.2,131.2 253.7,131.5 250.3,131.7 246.9,131.9"/><path d="M246.9,131.9 249.6,131.6 252.3,131.4 255,131.1 257.8,130.8 260.5,130.5 263.2,130.2 265.9,129.8 268.6,129.7 271.4,129.6 274.1,129.3 276.8,129.3 279.5,128.8 282.3,128.6 285,128.4 287.7,128.2 290.4,128.2 293.1,127.2 295.8,127.4 298.6,126.3 301.3,126.1 304,126 306.7,125.5 309.4,125.1 312.1,124 314.8,124.3 317.4,123.2 320,123.5 322,120.7 323.5,118.6 315.1,126 318.2,124.8 320.8,123 321.9,120.5 322.6,117.7 322.9,114.9 322.8,112 323,109 323.2,106 322.7,103.1 323.2,100.1 322.5,97.1 322.2,94.2 322.5,91.2 322.3,88.2 322.4,85.3 323.3,82.3 322.8,79.3 323,76.3 323.3,73.4 323.3,70.4 322.7,67.4 323.3,64.5 323,61.5 322.9,58.5 323,55.6 322.4,52.6 322.7,49.6 323,46.7 323.3,43.7 323,40.7 323.2,37.8 323.6,34.8 323.7,31.8 323.6,28.9 324.2,26 324.2,25.3 314.8,25 314.8,26 314.6,29.3 314.4,32.5 314.3,35.8 314,39.1 313.8,42.3 313.5,45.6 313,48.8 312.2,51.9 311.3,55.1 310.7,58.3 310.1,61.5 309.5,64.7 308.9,67.9 308.3,71.2 307.7,74.4 307,77.6 306.1,80.7 305.4,83.9 304.8,87.1 304.3,90.3 303.7,93.5 303,96.7 301.7,99.7 300.7,102.8 299.5,105.8 298.2,108.8 296.8,111.8 294.9,114.5 292.8,116.9 290.4,119.1 287.7,121 284.8,122.5 281.8,123.7 278.7,124.8 275.6,125.8 272.5,126.8 269.4,127.8 266.2,128.7 263.1,129.5 259.9,130.1 256.6,130.6 253.4,131.1 250.1,131.5 246.9,131.9"/><path d="M246.9,131.9 249.6,131.6 252.3,131.4 255,131.1 257.8,130.8 260.5,130.4 263.2,130.2 265.9,130 268.6,129.6 271.4,129.3 274.1,129.2 276.8,129.3 279.5,128.8 282.3,128.7 285,128.6 287.7,128.5 290.4,127.9 293.1,127.5 295.8,126.9 298.6,127.1 301.3,126.6 304,125.8 306.7,125 309.4,124.8 312.1,124.9 314.8,124 317.4,124 320,122.9 322,121 323.5,118.9 314.9,126 317.1,124.7 319.6,122.9 321.6,120.4 321.8,117.7 322.9,114.9 322.6,112 323.4,109 323.3,106 322.6,103.1 322.7,100.1 322.4,97.1 322.8,94.2 323.1,91.2 322.2,88.2 323.1,85.3 322.3,82.3 322.5,79.3 322.1,76.3 323.5,73.4 322.8,70.4 322.8,67.4 322.5,64.5 323.1,61.5 322,58.5 322.8,55.6 323.6,52.6 322.7,49.6 322.9,46.7 323.2,43.7 322.8,40.7 323.1,37.8 323.5,34.8 323.2,31.8 323.3,28.9 323.5,26 323.5,25.1 317.9,25.3 317.9,26 317.7,29.4 317.5,32.7 317.4,36.1 317.2,39.4 317,42.8 316.7,46.1 316.4,49.5 315.8,52.8 315.2,56.1 314.7,59.4 314.1,62.7 313.6,66 313.2,69.4 312.7,72.7 312.1,76 311.5,79.3 310.7,82.6 310,85.9 309.3,89.1 308.6,92.4 307.8,95.7 306.8,98.9 305.3,101.9 303.9,104.9 302.5,107.9 300.9,110.8 299.2,113.8 297.2,116.5 294.9,118.9 292.2,120.9 289.3,122.6 286.3,124 283.1,125.1 279.9,126 276.6,126.8 273.4,127.6 270.1,128.5 266.9,129.3 263.6,130 260.3,130.6 256.9,131 253.6,131.3 250.2,131.6 246.9,131.9"/><path d="M246.9,131.9 249.6,131.7 252.3,131.4 255,131.2 257.8,130.9 260.5,130.7 263.2,130.4 265.9,130.2 268.6,130.1 271.4,130 274.1,129.9 276.8,129.8 279.5,129.6 282.3,129.4 285,129.5 287.7,129.3 290.4,128.9 293.1,128.6 295.8,128.9 298.6,127.8 301.3,127.6 304,127.5 306.7,126.7 309.4,126.8 312.1,127 314.8,126.3 317.4,125.6 320,124.6 322,122.6 323.5,120.7 317.9,126.6 320.7,125.2 322.4,123.3 324.1,120.7 323.9,117.8 324.6,114.9 324.3,112 324.6,109 324.7,106 324.7,103.1 323.9,100.1 324.6,97.1 324,94.2 323.8,91.2 324.1,88.2 323.6,85.2 324.1,82.3 324.2,79.3 324.1,76.3 324.3,73.4 324,70.4 324.1,67.4 323.5,64.5 324,61.5 323.7,58.5 323.9,55.5 324,52.6 324.1,49.6 323.5,46.6 323.6,43.7 324.1,40.7 324.4,37.7 324.4,34.8 324.6,31.8 324.9,28.8 325.2,26 325.2,25.3 319.9,25.4 319.9,26 319.8,29.4 319.6,32.8 319.5,36.3 319.3,39.7 319.1,43.1 318.9,46.5 318.7,49.9 318.3,53.3 317.8,56.7 317.3,60.1 316.8,63.5 316.4,66.9 316,70.3 315.7,73.7 315.1,77.1 314.5,80.5 313.8,83.8 313.1,87.2 312.4,90.5 311.5,93.8 310.6,97.1 309.4,100.3 307.8,103.3 306.1,106.3 304.4,109.3 302.6,112.2 300.8,115.1 298.8,117.9 296.3,120.2 293.5,122.1 290.4,123.7 287.3,125 284,126 280.7,126.7 277.3,127.4 274,128.2 270.6,129 267.3,129.7 263.9,130.4 260.6,130.9 257.1,131.2 253.7,131.5 250.3,131.7 246.9,131.9"/><path d="M246.9,131.9 249.6,131.7 252.3,131.4 255,131.2 257.8,130.9 260.5,130.6 263.2,130.4 265.9,130.2 268.6,130.1 271.4,130 274.1,129.7 276.8,129.6 279.5,129.4 282.3,129.5 285,129.1 287.7,129.2 290.4,128.8 293.1,128.7 295.8,128 298.6,127.3 301.3,127.9 304,127.1 306.7,127.3 309.4,126.6 312.1,126.3 314.8,126.2 317.4,125.1 320,124.6 322,121.7 323.5,120.3 311.6,125.3 314.7,124.2 316.7,122.5 319,120.2 319.7,117.6 321,114.9 321.5,112 320.5,109 321.3,106 321,103.1 320.7,100.1 321,97.1 321.2,94.2 321.6,91.2 320.8,88.2 321.7,85.3 322,82.3 321.5,79.3 321.5,76.4 321.3,73.4 320.9,70.4 321.5,67.5 321.5,64.5 321.6,61.5 322.3,58.6 321.7,55.6 321.7,52.6 322.2,49.7 321.2,46.7 321.4,43.7 321.8,40.8 321.7,37.8 322.2,34.8 321.8,31.8 322.5,28.9 322.7,26 322.7,25.4 317.6,25.4 317.6,26 317.5,29.4 317.3,32.7 317.1,36.1 316.9,39.4 316.7,42.7 316.5,46.1 316.1,49.4 315.5,52.7 314.9,56 314.4,59.3 313.8,62.6 313.3,65.9 312.8,69.2 312.4,72.6 311.8,75.9 311.1,79.2 310.4,82.4 309.7,85.7 309,89 308.3,92.3 307.5,95.5 306.6,98.7 305.1,101.7 303.7,104.7 302.2,107.7 300.6,110.7 299,113.6 297.1,116.3 294.7,118.7 292.1,120.8 289.2,122.5 286.2,123.9 283,125 279.8,125.9 276.5,126.7 273.3,127.6 270.1,128.4 266.8,129.3 263.5,130 260.2,130.5 256.9,131 253.6,131.3 250.2,131.6 246.9,131.9"/><path d="M246.9,131.9 249.6,131.6 252.3,131.4 255,131.1 257.8,130.8 260.5,130.5 263.2,130.2 265.9,130.1 268.6,129.6 271.4,129.6 274.1,129.3 276.8,129.2 279.5,129 282.3,129.1 285,128.4 287.7,128.2 290.4,127.7 293.1,127.7 295.8,127.1 298.6,126.9 301.3,126 304,125.9 306.7,125.9 309.4,125.2 312.1,125.1 314.8,124.6 317.4,123.7 320,122.3 322,121.4 323.5,118.8 311.1,125.1 313.7,124 315.9,122.4 318,120.1 319.4,117.6 319.8,114.9 320.4,112 320.1,109 320.7,106 320.9,103.1 320.4,100.1 321,97.1 320,94.2 320.1,91.2 320.3,88.2 320.6,85.3 320.8,82.3 320.8,79.3 320.8,76.4 321.1,73.4 320.6,70.4 320.4,67.5 320.4,64.5 321.6,61.5 320.1,58.6 320.9,55.6 321.6,52.6 321.3,49.7 321,46.7 321.4,43.7 321.8,40.8 321.9,37.8 321.2,34.8 321.7,31.9 321.5,28.9 322,26 322,24.8 320.3,24.9 320.3,26 320.1,29.4 320,32.9 319.8,36.3 319.7,39.7 319.5,43.2 319.3,46.6 319.1,50 318.7,53.4 318.3,56.8 317.8,60.2 317.3,63.6 316.9,67.1 316.5,70.5 316.2,73.9 315.6,77.3 315,80.7 314.4,84 313.7,87.4 312.9,90.7 312,94.1 311.1,97.4 309.9,100.6 308.2,103.6 306.5,106.6 304.8,109.5 302.9,112.4 301.1,115.3 299.1,118.1 296.6,120.5 293.7,122.3 290.6,123.9 287.5,125.2 284.2,126.2 280.8,126.9 277.4,127.5 274.1,128.3 270.7,129 267.4,129.8 264,130.4 260.6,130.9 257.2,131.3 253.8,131.5 250.3,131.7 246.9,131.9"/><path d="M246.9,131.9 249.6,131.6 252.3,131.4 255,131.1 257.8,130.8 260.5,130.6 263.2,130.2 265.9,129.9 268.6,129.6 271.4,129.6 274.1,129.4 276.8,129.2 279.5,129 282.3,129 285,128.8 287.7,128.1 290.4,128 293.1,127.6 295.8,127.4 298.6,126.7 301.3,126.2 304,125.9 306.7,125 309.4,125.3 312.1,124.6 314.8,124.6 317.4,123.5 320,122.7 322,120.7 323.5,118.4 312.7,125.7 316.1,124.5 319,122.7 320,120.3 321.1,117.7 321.6,114.9 321.9,112 322.5,109 322.1,106 321.7,103.1 321,100.1 321.8,97.1 321.4,94.2 321.4,91.2 322.4,88.2 322.4,85.3 321.4,82.3 322.4,79.3 322.3,76.4 321.8,73.4 322.4,70.4 321.5,67.4 321.7,64.5 321.6,61.5 321.7,58.5 322.5,55.6 321.8,52.6 321.9,49.6 322.1,46.7 322.5,43.7 322.4,40.7 322.9,37.8 322.4,34.8 322.1,31.8 322.4,28.9 323,26 323,25.3 318.7,25.5 318.7,26 318.6,29.4 318.4,32.8 318.2,36.2 318.1,39.5 317.9,42.9 317.7,46.3 317.3,49.7 316.9,53 316.3,56.4 315.8,59.7 315.3,63 314.8,66.4 314.4,69.8 313.9,73.1 313.4,76.5 312.7,79.8 312,83.1 311.3,86.4 310.6,89.7 309.8,93 309,96.3 307.9,99.5 306.4,102.5 304.9,105.5 303.3,108.5 301.6,111.4 299.9,114.3 297.9,117.1 295.5,119.5 292.8,121.4 289.8,123.1 286.7,124.4 283.5,125.5 280.2,126.3 276.9,127 273.6,127.9 270.3,128.7 267.1,129.5 263.7,130.2 260.4,130.7 257,131.1 253.7,131.4 250.3,131.6 246.9,131.9"/><path d="M246.9,131.9 249.6,131.7 252.3,131.4 255,131.2 257.8,130.9 260.5,130.6 263.2,130.4 265.9,130.2 268.6,129.9 271.4,129.8 274.1,129.7 276.8,129.9 279.5,129.4 282.3,129.7 285,129.6 287.7,129.1 290.4,128.9 293.1,128.4 295.8,128.2 298.6,128.1 301.3,127.6 304,127.6 306.7,127.4 309.4,126.8 312.1,126.4 314.8,125.8 317.4,125.4 320,123.9 322,122.6 323.5,120.3 309.8,124.8 312.3,123.8 314.9,122.2 316.9,120 318,117.6 318.9,114.9 319.7,112 319.6,109 320,106 320.3,103.1 320.2,100.1 319.8,97.1 319.5,94.2 320,91.2 320,88.2 320.5,85.3 320,82.3 320,79.3 320.4,76.4 320,73.4 320.1,70.4 320.7,67.5 320.7,64.5 320.4,61.5 320.4,58.6 320,55.6 320.6,52.6 320.6,49.7 320.8,46.7 320.6,43.7 320.9,40.8 320.9,37.8 321.1,34.8 321.4,31.9 320.9,28.9 320.3,26 320.3,26 319,25.1 319,26 318.8,29.4 318.7,32.8 318.5,36.2 318.3,39.6 318.1,43 317.9,46.3 317.6,49.7 317.2,53.1 316.6,56.4 316.1,59.8 315.6,63.1 315.1,66.5 314.7,69.9 314.3,73.2 313.8,76.6 313.1,79.9 312.4,83.2 311.7,86.6 311,89.9 310.2,93.2 309.3,96.5 308.2,99.7 306.6,102.7 305.1,105.7 303.5,108.7 301.8,111.6 300.1,114.5 298.1,117.2 295.7,119.6 292.9,121.6 289.9,123.2 286.8,124.5 283.6,125.6 280.3,126.4 277,127.1 273.7,127.9 270.4,128.7 267.1,129.5 263.8,130.2 260.4,130.7 257.1,131.1 253.7,131.4 250.3,131.7 246.9,131.9"/><path d="M246.9,131.9 249.6,131.7 252.3,131.4 255,131.2 257.8,130.9 260.5,130.6 263.2,130.4 265.9,130.3 268.6,130.3 271.4,130.1 274.1,130.1 276.8,129.7 279.5,129.8 282.3,129.8 285,129.7 287.7,129.5 290.4,129.1 293.1,129.3 295.8,129 298.6,128.3 301.3,127.7 304,128.4 306.7,127.3 309.4,127.6 312.1,127.4 314.8,126 317.4,125.8 320,124.7 322,123.2 323.5,120.8 308.8,124.5 311.4,123.6 313.5,122.1 316,119.9 317,117.5 318.1,114.8 319.4,112 319.4,109 319.3,106.1 319.5,103.1 319.6,100.1 318.8,97.2 319.4,94.2 319.1,91.2 319.6,88.3 319.3,85.3 320,82.3 319.8,79.3 319.3,76.4 319.6,73.4 319.2,70.4 319.6,67.5 319.8,64.5 319.8,61.5 319.1,58.6 319.7,55.6 320.1,52.6 320.2,49.7 320.6,46.7 319.9,43.7 320.6,40.8 320.3,37.8 320.6,34.8 320.6,31.9 320.5,28.9 320.1,26 320.1,25.6 319,25.4 319,26 318.8,29.4 318.7,32.8 318.5,36.2 318.4,39.6 318.2,43 317.9,46.4 317.6,49.7 317.2,53.1 316.7,56.4 316.1,59.8 315.6,63.1 315.1,66.5 314.8,69.9 314.3,73.3 313.8,76.6 313.1,79.9 312.4,83.3 311.7,86.6 311,89.9 310.2,93.2 309.4,96.5 308.3,99.7 306.7,102.7 305.1,105.7 303.5,108.7 301.8,111.6 300.1,114.5 298.1,117.3 295.7,119.6 292.9,121.6 289.9,123.2 286.8,124.5 283.6,125.6 280.3,126.4 277,127.1 273.7,127.9 270.4,128.8 267.1,129.5 263.8,130.2 260.4,130.7 257.1,131.1 253.7,131.4 250.3,131.7 246.9,131.9"/><path d="M246.9,131.9 249.6,131.7 252.3,131.4 255,131.1 257.8,130.9 260.5,130.7 263.2,130.5 265.9,130.3 268.6,130.1 271.4,129.8 274.1,129.7 276.8,129.8 279.5,129.8 282.3,129.4 285,129.4 287.7,129.3 290.4,128.6 293.1,128.6 295.8,128.8 298.6,128.7 301.3,127.7 304,128.1 306.7,127 309.4,126.6 312.1,125.7 314.8,126.3 317.4,125.3 320,125.3 322,122.8 323.5,120.4 307.7,124.5 311.6,123.6 313.5,122.1 315.5,119.9 317.1,117.5 318,114.8 318.6,112 319.3,109 320.1,106.1 319.6,103.1 319.6,100.1 318.8,97.2 319.5,94.2 319.1,91.2 319.8,88.3 319.5,85.3 319.6,82.3 319.6,79.3 319.4,76.4 319.1,73.4 319.9,70.4 319.2,67.5 319.3,64.5 319.6,61.5 319.6,58.6 320,55.6 320.4,52.6 320.2,49.7 320.3,46.7 320.4,43.7 320.8,40.8 319.9,37.8 320.7,34.8 320.1,31.9 319.9,28.9 320.4,26 320.4,25.8 319.2,25.3 319.2,26 319.1,29.4 318.9,32.8 318.8,36.2 318.6,39.6 318.4,43 318.2,46.4 317.9,49.8 317.5,53.2 317,56.5 316.5,59.9 315.9,63.2 315.5,66.6 315.1,70 314.7,73.4 314.1,76.7 313.5,80.1 312.8,83.4 312.1,86.7 311.4,90.1 310.6,93.4 309.7,96.6 308.6,99.8 307,102.8 305.4,105.9 303.8,108.8 302,111.7 300.3,114.7 298.3,117.4 295.9,119.8 293.1,121.7 290.1,123.3 287,124.7 283.7,125.7 280.4,126.5 277.1,127.2 273.8,128 270.5,128.8 267.2,129.6 263.8,130.3 260.5,130.8 257.1,131.1 253.7,131.4 250.3,131.7 246.9,131.9"/><path d="M246.9,131.9 249.6,131.6 252.3,131.3 255,131.1 257.8,130.8 260.5,130.5 263.2,130.2 265.9,129.9 268.6,129.8 271.4,129.4 274.1,129.3 276.8,129.2 279.5,128.8 282.3,128.8 285,128.6 287.7,128.2 290.4,128.3 293.1,127.5 295.8,127.1 298.6,126.4 301.3,125.7 304,125.6 306.7,125.3 309.4,124.9 312.1,124.9 314.8,123.4 317.4,123.2 320,122.1 322,121.3 323.5,118.4 308.4,124.5 311.8,123.6 313.6,122.1 315.4,119.9 317,117.5 317.4,114.8 318.6,112 319.5,109 319.3,106.1 319,103.1 319.4,100.1 318.6,97.2 319.3,94.2 319.7,91.2 319.8,88.3 319.3,85.3 319.9,82.3 320.2,79.3 319.4,76.4 319.9,73.4 319.1,70.4 318.9,67.5 319.9,64.5 319.7,61.5 319.8,58.6 319.7,55.6 319.9,52.6 320.4,49.7 320.8,46.7 320.3,43.7 319.9,40.8 321,37.8 320.7,34.8 320.7,31.9 320.4,28.9 321.1,26 321.1,25.1 315.9,25.7 315.9,26 315.7,29.3 315.5,32.6 315.3,35.9 315.1,39.2 314.9,42.5 314.6,45.8 314.1,49 313.4,52.2 312.7,55.4 312.1,58.7 311.5,61.9 310.9,65.2 310.4,68.4 309.8,71.7 309.2,74.9 308.6,78.2 307.7,81.4 307,84.6 306.4,87.8 305.8,91.1 305.1,94.3 304.3,97.5 303,100.5 301.8,103.5 300.5,106.6 299.1,109.5 297.6,112.5 295.7,115.2 293.5,117.6 291,119.7 288.3,121.6 285.3,123 282.2,124.2 279.1,125.2 275.9,126.1 272.8,127.1 269.6,128 266.4,128.9 263.2,129.7 260,130.3 256.7,130.8 253.5,131.2 250.2,131.5 246.9,131.9"/><path d="M246.9,131.9 249.6,131.6 252.3,131.4 255,131.1 257.8,130.8 260.5,130.5 263.2,130.2 265.9,130 268.6,129.6 271.4,129.5 274.1,129.5 276.8,129.7 279.5,129.1 282.3,128.8 285,128.4 287.7,128.5 290.4,127.6 293.1,127.4 295.8,127.3 298.6,126.4 301.3,126.8 304,126.3 306.7,125.3 309.4,125 312.1,124.3 314.8,123.9 317.4,123.9 320,123 322,121.1 323.5,118.8 309.7,124.8 312.7,123.8 315.1,122.3 316.7,120 318.2,117.6 319,114.9 320,112 320.3,109 320,106 320.7,103.1 319.5,100.1 319.9,97.1 320.7,94.2 320,91.2 319.6,88.2 320.7,85.3 320.4,82.3 319.8,79.3 320.5,76.4 319.9,73.4 319.8,70.4 320.2,67.5 320.1,64.5 319.9,61.5 320.3,58.6 320.1,55.6 320.6,52.6 320.7,49.7 321.1,46.7 320.7,43.7 320.5,40.8 320.6,37.8 321,34.8 321.5,31.9 321.2,28.9 320.8,26 320.8,25.5 320.2,24.9 320.2,26 320.1,29.4 319.9,32.9 319.8,36.3 319.6,39.7 319.5,43.2 319.3,46.6 319,50 318.7,53.4 318.3,56.8 317.8,60.2 317.3,63.6 316.8,67 316.5,70.5 316.1,73.9 315.6,77.3 315,80.6 314.3,84 313.6,87.4 312.9,90.7 312,94.1 311,97.3 309.8,100.6 308.1,103.6 306.5,106.5 304.7,109.5 302.9,112.4 301.1,115.3 299.1,118.1 296.6,120.4 293.7,122.3 290.6,123.8 287.4,125.2 284.2,126.1 280.8,126.9 277.4,127.5 274.1,128.2 270.7,129 267.4,129.8 264,130.4 260.6,130.9 257.2,131.3 253.8,131.5 250.3,131.7 246.9,131.9"/><path d="M246.9,131.9 249.6,131.6 252.3,131.4 255,131.1 257.8,130.7 260.5,130.4 263.2,130.2 265.9,129.9 268.6,129.6 271.4,129.5 274.1,129.1 276.8,129 279.5,129 282.3,128.9 285,128.3 287.7,128.1 290.4,128 293.1,127.4 295.8,126.9 298.6,126.8 301.3,126.3 304,126.2 306.7,125.7 309.4,124.8 312.1,124.6 314.8,124.2 317.4,123.1 320,122.3 322,121.2 323.5,118 306.6,124.1 309.6,123.3 312.6,121.9 313.9,119.8 316.2,117.5 317.1,114.8 318.7,112 318.3,109 318.3,106.1 318.3,103.1 318.8,100.1 318.7,97.2 318.2,94.2 318.7,91.2 318.2,88.3 318.5,85.3 318.3,82.3 318.3,79.4 318.5,76.4 318.5,73.4 319,70.5 319.1,67.5 318.8,64.5 318.5,61.6 319.3,58.6 318.4,55.6 318.6,52.7 319.7,49.7 319.8,46.7 320,43.8 319.7,40.8 319.4,37.8 319.7,34.9 319.9,31.9 319.3,28.9 319.2,26 319.2,25.5 315.7,25.3 315.7,26 315.6,29.3 315.4,32.6 315.2,35.9 315,39.2 314.8,42.5 314.5,45.7 314,49 313.3,52.2 312.5,55.4 311.9,58.6 311.3,61.9 310.7,65.1 310.2,68.4 309.6,71.6 309,74.9 308.4,78.1 307.5,81.3 306.8,84.5 306.2,87.7 305.6,91 304.9,94.2 304.2,97.4 302.8,100.4 301.7,103.4 300.4,106.5 299,109.4 297.5,112.4 295.6,115.1 293.4,117.5 290.9,119.7 288.2,121.5 285.3,123 282.2,124.1 279,125.1 275.9,126.1 272.8,127.1 269.6,128 266.4,128.9 263.2,129.6 260,130.3 256.7,130.8 253.4,131.2 250.2,131.5 246.9,131.9"/><path d="M246.9,131.9 249.6,131.6 252.3,131.4 255,131.1 257.8,130.8 260.5,130.5 263.2,130.2 265.9,129.9 268.6,129.8 271.4,129.5 274.1,129.1 276.8,129.1 279.5,129 282.3,128.8 285,128.5 287.7,128.1 290.4,128.2 293.1,127.3 295.8,127.3 298.6,126.6 301.3,125.9 304,126.3 306.7,124.5 309.4,124.8 312.1,124.8 314.8,124.1 317.4,123.9 320,122.7 322,120.7 323.5,119.4 306.5,124.2 309.6,123.3 312,121.9 314.3,119.8 316.1,117.5 318.1,114.8 317.3,112 318.6,109 318.5,106.1 318.2,103.1 318.4,100.1 318.4,97.2 318.7,94.2 319.1,91.2 318.2,88.3 319.3,85.3 318.7,82.3 319.4,79.4 319,76.4 319.3,73.4 319.1,70.5 319.3,67.5 318.9,64.5 318.7,61.5 319.3,58.6 319.4,55.6 320.1,52.7 318.8,49.7 319.5,46.7 320.1,43.8 319.4,40.8 319.8,37.8 320.6,34.9 320.3,31.9 319.3,28.9 320.1,26 320.1,25.3 316.5,25.1 316.5,26 316.3,29.3 316.2,32.6 316,35.9 315.8,39.3 315.6,42.6 315.3,45.9 314.9,49.2 314.2,52.4 313.5,55.6 312.9,58.9 312.3,62.2 311.8,65.5 311.3,68.7 310.8,72 310.2,75.3 309.5,78.5 308.7,81.7 308,85 307.3,88.2 306.7,91.5 306,94.7 305.2,97.9 303.7,100.9 302.5,104 301.2,107 299.7,110 298.1,112.9 296.2,115.6 294,118 291.4,120.1 288.6,121.9 285.6,123.3 282.5,124.5 279.3,125.4 276.2,126.3 273,127.3 269.8,128.2 266.6,129 263.3,129.8 260.1,130.4 256.8,130.8 253.5,131.2 250.2,131.6 246.9,131.9"/><path d="M246.9,131.9 249.6,131.6 252.3,131.4 255,131.1 257.8,130.8 260.5,130.5 263.2,130.2 265.9,130 268.6,129.7 271.4,129.5 274.1,129.4 276.8,129.2 279.5,129 282.3,128.7 285,128.6 287.7,128.4 290.4,128.1 293.1,126.8 295.8,126.8 298.6,126.4 301.3,126.2 304,125.9 306.7,125.7 309.4,125.3 312.1,124.6 314.8,124.2 317.4,124.2 320,122.5 322,121 323.5,119.2 310.2,124.9 312.7,123.9 315.1,122.3 317.8,120.1 318.8,117.6 319.9,114.9 320,112 320.5,109 320.5,106 320.7,103.1 321.1,100.1 320.2,97.1 320.4,94.2 320.4,91.2 319.2,88.2 320,85.3 320.5,82.3 320.7,79.3 320.3,76.4 320.9,73.4 320.9,70.4 320.3,67.5 321,64.5 321.1,61.5 320.7,58.6 320.3,55.6 321.3,52.6 320.8,49.7 320.9,46.7 321.1,43.7 321,40.8 321.6,37.8 321.5,34.8 321.6,31.9 321.3,28.9 321,26 321,24.8 315.4,25.5 315.4,26 315.2,29.3 315.1,32.6 314.9,35.8 314.7,39.1 314.4,42.4 314.1,45.7 313.6,48.9 312.9,52.1 312.1,55.3 311.5,58.5 310.9,61.8 310.3,65 309.7,68.2 309.2,71.5 308.6,74.7 307.9,77.9 307,81.1 306.3,84.3 305.7,87.5 305.1,90.7 304.5,94 303.8,97.2 302.4,100.1 301.3,103.2 300.1,106.3 298.7,109.2 297.2,112.2 295.4,114.9 293.2,117.3 290.7,119.5 288,121.3 285.1,122.8 282,124 278.9,125 275.8,126 272.7,127 269.5,127.9 266.4,128.8 263.2,129.6 259.9,130.2 256.7,130.7 253.4,131.1 250.2,131.5 246.9,131.9"/><path d="M246.9,131.9 249.6,131.6 252.3,131.4 255,131.1 257.8,130.8 260.5,130.6 263.2,130.3 265.9,130.2 268.6,129.8 271.4,129.5 274.1,129.6 276.8,129.3 279.5,129.2 282.3,129.3 285,128.8 287.7,128.9 290.4,128.3 293.1,127.8 295.8,127.7 298.6,127 301.3,127.2 304,126.8 306.7,126.2 309.4,126 312.1,125.6 314.8,124.8 317.4,124.7 320,123.3 322,121.8 323.5,119 309.8,124.8 312.5,123.8 314.8,122.3 316.6,120 318.2,117.6 318.8,114.9 319.2,112 320.4,109 319.9,106 320,103.1 320,100.1 320,97.1 320.1,94.2 320.2,91.2 319.9,88.2 320.5,85.3 320,82.3 320.6,79.3 319.6,76.4 319.9,73.4 320.6,70.4 320.2,67.5 320,64.5 320.4,61.5 320,58.6 320.5,55.6 319.8,52.6 320.5,49.7 320.6,46.7 321.1,43.7 321.3,40.8 320.7,37.8 321.6,34.8 320.8,31.9 320.2,28.9 320.2,26 320.2,25.5 315.5,25.2 315.5,26 315.3,29.3 315.1,32.6 314.9,35.9 314.7,39.1 314.5,42.4 314.2,45.7 313.7,48.9 313,52.1 312.2,55.3 311.6,58.6 311,61.8 310.4,65 309.8,68.3 309.3,71.5 308.7,74.7 308,78 307.1,81.1 306.4,84.3 305.8,87.6 305.2,90.8 304.6,94 303.9,97.2 302.5,100.2 301.4,103.3 300.2,106.3 298.8,109.3 297.3,112.2 295.4,114.9 293.2,117.4 290.8,119.5 288.1,121.4 285.1,122.8 282.1,124 279,125 275.8,126 272.7,127 269.5,128 266.4,128.8 263.2,129.6 259.9,130.2 256.7,130.7 253.4,131.1 250.2,131.5 246.9,131.9"/><path d="M246.9,131.9 249.6,131.6 252.3,131.4 255,131.1 257.8,130.8 260.5,130.5 263.2,130.1 265.9,130 268.6,129.7 271.4,129.4 274.1,129.6 276.8,129.2 279.5,128.9 282.3,128.8 285,128.7 287.7,128.5 290.4,128 293.1,127.8 295.8,127.4 298.6,126.3 301.3,126.1 304,125.5 306.7,125.4 309.4,125.6 312.1,124.9 314.8,123.8 317.4,123.5 320,123 322,120.7 323.5,118.6 305.7,124 309.2,123.2 312.1,121.8 313.7,119.8 316,117.5 317.1,114.8 317.8,112 317.8,109 317.9,106.1 318.1,103.1 318.2,100.1 318.4,97.2 318.5,94.2 318.4,91.2 318.5,88.3 318.7,85.3 318,82.3 318.3,79.4 318.3,76.4 318.5,73.4 318.5,70.5 318.5,67.5 318.4,64.5 319,61.6 318.9,58.6 318.4,55.6 319.1,52.7 318.8,49.7 320,46.7 319.4,43.8 319.5,40.8 319.7,37.8 319.6,34.9 319.6,31.9 319.9,28.9 319.4,26 319.4,24.9 318.4,25.6 318.4,26 318.2,29.4 318.1,32.7 317.9,36.1 317.7,39.5 317.5,42.9 317.3,46.2 317,49.6 316.5,52.9 315.9,56.2 315.4,59.6 314.8,62.9 314.3,66.3 313.9,69.6 313.5,73 312.9,76.3 312.3,79.6 311.5,82.9 310.8,86.2 310.1,89.5 309.4,92.8 308.5,96.1 307.5,99.3 306,102.2 304.5,105.3 303,108.3 301.3,111.2 299.6,114.1 297.6,116.9 295.3,119.2 292.6,121.2 289.6,122.9 286.5,124.3 283.3,125.3 280.1,126.2 276.8,126.9 273.5,127.8 270.3,128.6 267,129.4 263.7,130.1 260.3,130.7 257,131 253.6,131.4 250.3,131.6 246.9,131.9"/><path d="M246.9,131.9 249.6,131.7 252.3,131.4 255,131.1 257.8,130.9 260.5,130.7 263.2,130.4 265.9,130.1 268.6,130 271.4,129.9 274.1,129.8 276.8,129.7 279.5,129.3 282.3,129.7 285,129.1 287.7,128.7 290.4,128.7 293.1,128.4 295.8,128.4 298.6,127.7 301.3,127.7 304,127 306.7,127.8 309.4,126.9 312.1,127 314.8,125.5 317.4,125.5 320,124 322,122.7 323.5,120.4 310.1,124.8 312.7,123.8 314.5,122.2 316.4,120 318.7,117.6 318.9,114.9 320.1,112 320.4,109 319.7,106 319.8,103.1 319.9,100.1 319.6,97.1 319.7,94.2 319.9,91.2 320.4,88.2 320,85.3 320.1,82.3 320,79.3 319.7,76.4 320.7,73.4 319.3,70.4 319.9,67.5 320.4,64.5 319.7,61.5 320.5,58.6 320.8,55.6 320.2,52.6 320.7,49.7 320.3,46.7 321,43.7 321,40.8 321.1,37.8 321.5,34.8 321.1,31.9 321.3,28.9 321.1,26 321.1,25.1 319.4,25.1 319.4,26 319.2,29.4 319.1,32.8 318.9,36.2 318.7,39.6 318.6,43 318.3,46.4 318.1,49.8 317.6,53.2 317.1,56.6 316.6,59.9 316.1,63.3 315.6,66.7 315.3,70.1 314.9,73.4 314.3,76.8 313.7,80.1 313,83.5 312.3,86.8 311.6,90.1 310.8,93.5 309.9,96.7 308.7,99.9 307.1,102.9 305.5,105.9 303.9,108.9 302.1,111.8 300.4,114.7 298.4,117.5 295.9,119.9 293.1,121.8 290.1,123.4 287,124.7 283.8,125.8 280.5,126.5 277.1,127.2 273.8,128 270.5,128.8 267.2,129.6 263.8,130.3 260.5,130.8 257.1,131.2 253.7,131.4 250.3,131.7 246.9,131.9"/><path d="M246.9,131.9 249.6,131.7 252.3,131.4 255,131.1 257.8,130.8 260.5,130.6 263.2,130.3 265.9,130 268.6,129.9 271.4,129.5 274.1,129.5 276.8,129.5 279.5,129.2 282.3,129.2 285,128.9 287.7,128.7 290.4,128.3 293.1,127.7 295.8,127.5 298.6,127.1 301.3,127.2 304,127 306.7,126.2 309.4,125.5 312.1,125.1 314.8,124.8 317.4,124.8 320,123.5 322,121.5 323.5,119 318,126.7 320.5,125.3 322.6,123.3 324.4,120.7 324.9,117.8 325.1,114.9 324.8,112 325.5,109 325.3,106 324.4,103.1 324.4,100.1 324.8,97.1 324.1,94.2 324.5,91.2 324.4,88.2 324.1,85.2 324.3,82.3 323.8,79.3 324.1,76.3 323.6,73.4 325.1,70.4 324.8,67.4 324.7,64.5 324.3,61.5 324.6,58.5 324.7,55.5 324.6,52.6 324.6,49.6 323.9,46.6 324.5,43.7 324.2,40.7 324,37.7 324,34.8 324.6,31.8 325,28.8 324.8,26 324.8,25.5 316,25.4 316,26 315.8,29.3 315.6,32.6 315.4,35.9 315.2,39.2 315,42.5 314.7,45.8 314.2,49 313.5,52.3 312.8,55.5 312.2,58.7 311.6,62 311,65.2 310.5,68.5 309.9,71.7 309.4,75 308.7,78.2 307.8,81.4 307.1,84.6 306.5,87.9 305.9,91.1 305.2,94.3 304.4,97.5 303.1,100.5 301.9,103.6 300.6,106.6 299.2,109.6 297.7,112.5 295.8,115.2 293.6,117.7 291.1,119.8 288.3,121.6 285.4,123.1 282.3,124.2 279.1,125.2 276,126.2 272.8,127.1 269.6,128.1 266.5,128.9 263.3,129.7 260,130.3 256.7,130.8 253.5,131.2 250.2,131.5 246.9,131.9"/><path d="M246.9,131.9 249.6,131.6 252.3,131.4 255,131.1 257.8,130.8 260.5,130.5 263.2,130.2 265.9,130 268.6,129.6 271.4,129.5 274.1,129.4 276.8,129.1 279.5,129.1 282.3,129 285,128.8 287.7,128.3 290.4,128 293.1,128.1 295.8,126.9 298.6,126.8 301.3,126.6 304,126 306.7,125.7 309.4,125.2 312.1,125 314.8,124.8 317.4,123.7 320,122.9 322,121 323.5,118.6 313,125.6 315.9,124.5 318.1,122.7 320.2,120.3 321,117.7 321.9,114.9 322.2,112 321,109 322.2,106 321.4,103.1 322,100.1 321.6,97.1 322,94.2 322.5,91.2 321.4,88.2 322.1,85.3 322,82.3 321.4,79.3 322.3,76.4 322,73.4 321.8,70.4 321.8,67.4 323.1,64.5 321.9,61.5 321.4,58.5 321.8,55.6 322,52.6 322.1,49.6 322.3,46.7 322,43.7 322.7,40.7 322.3,37.8 322.1,34.8 322.2,31.8 322.4,28.9 323.2,26 323.2,25.1 317.8,25.6 317.8,26 317.6,29.4 317.4,32.7 317.3,36.1 317.1,39.4 316.9,42.8 316.6,46.1 316.3,49.5 315.7,52.8 315.1,56 314.5,59.4 314,62.7 313.5,66 313,69.3 312.6,72.6 312,75.9 311.3,79.2 310.6,82.5 309.9,85.8 309.2,89.1 308.5,92.4 307.7,95.6 306.7,98.8 305.2,101.8 303.8,104.8 302.4,107.8 300.8,110.8 299.1,113.7 297.2,116.4 294.8,118.8 292.2,120.9 289.3,122.6 286.2,123.9 283.1,125 279.8,125.9 276.6,126.7 273.3,127.6 270.1,128.5 266.8,129.3 263.6,130 260.3,130.6 256.9,131 253.6,131.3 250.2,131.6 246.9,131.9"/><path d="M246.9,131.9 249.6,131.7 252.3,131.4 255,131.2 257.8,130.9 260.5,130.7 263.2,130.5 265.9,130.3 268.6,130.1 271.4,129.9 274.1,129.8 276.8,129.8 279.5,129.6 282.3,129.6 285,129.6 287.7,129.4 290.4,129.2 293.1,128.4 295.8,128.6 298.6,128 301.3,127.6 304,127.3 306.7,127.7 309.4,127.2 312.1,126.3 314.8,125.7 317.4,125.5 320,124.4 322,123.3 323.5,120 316.4,126.4 319.7,125.1 321.7,123.2 322.9,120.6 323.3,117.8 324.1,114.9 323.9,112 324.4,109 324.4,106 323.4,103.1 323.6,100.1 323.6,97.1 323.3,94.2 323.3,91.2 323.7,88.2 323.6,85.2 323.1,82.3 323.5,79.3 323.9,76.3 323.3,73.4 323.4,70.4 324.2,67.4 324.1,64.5 323.1,61.5 323.2,58.5 323.8,55.6 323.2,52.6 323.6,49.6 323.6,46.6 324,43.7 322.9,40.7 323.1,37.7 323.5,34.8 324.3,31.8 324,28.8 324,26 324,25.3 317.8,25.4 317.8,26 317.6,29.4 317.5,32.7 317.3,36.1 317.1,39.4 316.9,42.8 316.7,46.1 316.3,49.5 315.7,52.8 315.1,56.1 314.6,59.4 314,62.7 313.5,66 313.1,69.3 312.6,72.6 312,76 311.4,79.3 310.6,82.5 309.9,85.8 309.2,89.1 308.5,92.4 307.7,95.6 306.8,98.8 305.2,101.8 303.9,104.9 302.4,107.9 300.8,110.8 299.1,113.7 297.2,116.4 294.8,118.8 292.2,120.9 289.3,122.6 286.3,124 283.1,125.1 279.8,125.9 276.6,126.7 273.4,127.6 270.1,128.5 266.9,129.3 263.6,130 260.3,130.6 256.9,131 253.6,131.3 250.2,131.6 246.9,131.9"/><path d="M246.9,131.9 249.6,131.7 252.3,131.4 255,131.2 257.8,130.9 260.5,130.6 263.2,130.5 265.9,130.2 268.6,130 271.4,130 274.1,129.8 276.8,129.8 279.5,129.5 282.3,129.1 285,129.5 287.7,128.9 290.4,129.2 293.1,128.2 295.8,127.8 298.6,128 301.3,127.8 304,127.4 306.7,126.6 309.4,127 312.1,125.8 314.8,125.7 317.4,125 320,124.2 322,122.8 323.5,120 309,124.7 312.3,123.7 314.4,122.2 316.8,120 317.9,117.6 318.4,114.8 319.1,112 319.1,109 319.1,106.1 319.8,103.1 320,100.1 320.4,97.1 319.8,94.2 319.8,91.2 319.5,88.2 320.3,85.3 320.1,82.3 319.8,79.3 320.2,76.4 320.2,73.4 319.3,70.4 320.2,67.5 320.1,64.5 319.9,61.5 320,58.6 320.8,55.6 320.9,52.6 321.1,49.7 320.2,46.7 320.4,43.7 321.1,40.8 320.4,37.8 320.6,34.8 320.1,31.9 321.3,28.9 321.1,26 321.1,25.6 315.4,24.9 315.4,26 315.2,29.3 315,32.6 314.8,35.8 314.6,39.1 314.4,42.4 314.1,45.7 313.6,48.9 312.8,52.1 312,55.3 311.4,58.5 310.8,61.7 310.2,65 309.6,68.2 309.1,71.4 308.5,74.7 307.8,77.9 306.9,81 306.2,84.2 305.6,87.5 305,90.7 304.4,93.9 303.7,97.1 302.4,100.1 301.3,103.2 300,106.2 298.7,109.2 297.2,112.1 295.3,114.8 293.2,117.3 290.7,119.4 288,121.3 285.1,122.8 282,124 278.9,125 275.8,126 272.6,127 269.5,127.9 266.3,128.8 263.1,129.6 259.9,130.2 256.7,130.7 253.4,131.1 250.2,131.5 246.9,131.9"/><path d="M246.9,131.9 249.6,131.7 252.3,131.4 255,131.2 257.8,130.8 260.5,130.6 263.2,130.4 265.9,130.1 268.6,130 271.4,130 274.1,129.9 276.8,129.6 279.5,129.1 282.3,129.3 285,129.2 287.7,128.9 290.4,128.7 293.1,129.1 295.8,127.9 298.6,127.4 301.3,127.4 304,126.9 306.7,126.6 309.4,126.3 312.1,126.2 314.8,125.6 317.4,124.5 320,123.9 322,122.3 323.5,119.7 304.5,123.7 307.9,123 310.3,121.7 312.9,119.7 314.6,117.4 316.3,114.8 316.7,112 317.7,109 316.6,106.1 317.1,103.1 317.7,100.1 317,97.2 318,94.2 317.4,91.2 317.9,88.3 317.6,85.3 317.8,82.3 318,79.4 317.9,76.4 317.8,73.4 318.7,70.5 318,67.5 317.7,64.5 318.4,61.6 318.5,58.6 318.8,55.6 319.1,52.7 318.3,49.7 319.2,46.7 319.4,43.8 319.1,40.8 319.3,37.8 318.1,34.9 318.8,31.9 319.5,29 318,26 318,25.6 316.1,25.1 316.1,26 315.9,29.3 315.7,32.6 315.6,35.9 315.4,39.2 315.1,42.5 314.8,45.8 314.4,49.1 313.7,52.3 313,55.5 312.3,58.8 311.8,62 311.2,65.3 310.7,68.5 310.1,71.8 309.6,75.1 308.9,78.3 308,81.5 307.3,84.7 306.7,88 306.1,91.2 305.4,94.4 304.6,97.6 303.2,100.6 302,103.7 300.7,106.7 299.3,109.7 297.8,112.6 295.9,115.3 293.7,117.7 291.1,119.9 288.4,121.7 285.4,123.1 282.3,124.3 279.2,125.3 276,126.2 272.9,127.2 269.7,128.1 266.5,129 263.3,129.7 260,130.3 256.8,130.8 253.5,131.2 250.2,131.5 246.9,131.9"/><path d="M246.9,131.9 249.6,131.7 252.3,131.4 255,131.1 257.8,130.9 260.5,130.6 263.2,130.3 265.9,130.1 268.6,129.8 271.4,129.9 274.1,129.5 276.8,129.4 279.5,129.3 282.3,129.2 285,129.2 287.7,129 290.4,128.5 293.1,128.1 295.8,127.8 298.6,127.7 301.3,127.3 304,126.6 306.7,125.7 309.4,126.9 312.1,126 314.8,125.3 317.4,124.8 320,123.5 322,121.6 323.5,119.5 319.2,126.9 321.9,125.5 323.8,123.5 325.1,120.8 325.2,117.9 325.7,114.9 325.8,112 325.4,109 325.6,106 324.6,103.1 324.8,100.1 325.5,97.1 325.5,94.1 325,91.2 324.8,88.2 324.4,85.2 325,82.3 325.1,79.3 324.4,76.3 325.1,73.4 325,70.4 325,67.4 324.4,64.4 324.9,61.5 324.2,58.5 325.2,55.5 324.7,52.6 324.3,49.6 325.2,46.6 325.2,43.7 324.6,40.7 325.6,37.7 324.5,34.7 325,31.8 325.5,28.8 325,26 325,25.2 315.9,25 315.9,26 315.8,29.3 315.6,32.6 315.4,35.9 315.2,39.2 315,42.5 314.7,45.8 314.2,49 313.5,52.3 312.7,55.5 312.1,58.7 311.5,61.9 311,65.2 310.4,68.5 309.9,71.7 309.3,75 308.6,78.2 307.8,81.4 307.1,84.6 306.5,87.9 305.8,91.1 305.2,94.3 304.4,97.5 303,100.5 301.9,103.6 300.6,106.6 299.2,109.6 297.6,112.5 295.8,115.2 293.5,117.6 291,119.8 288.3,121.6 285.3,123 282.3,124.2 279.1,125.2 276,126.2 272.8,127.1 269.6,128.1 266.5,128.9 263.2,129.7 260,130.3 256.7,130.8 253.5,131.2 250.2,131.5 246.9,131.9"/><path d="M246.9,131.9 249.6,131.6 252.3,131.4 255,131.1 257.8,130.8 260.5,130.5 263.2,130.1 265.9,130 268.6,129.8 271.4,129.6 274.1,129.4 276.8,129.3 279.5,129 282.3,128.8 285,128.4 287.7,128.5 290.4,128.4 293.1,127.8 295.8,127.4 298.6,126.6 301.3,126.9 304,125.9 306.7,126 309.4,125.4 312.1,124.7 314.8,124.9 317.4,124 320,123.1 322,121.4 323.5,118.9 304.5,123.8 308.1,123 310.3,121.7 312.9,119.7 314.5,117.4 316.3,114.8 316.7,112 316.7,109 317.4,106.1 317.4,103.1 317.8,100.1 317.5,97.2 317.6,94.2 318.1,91.2 318.3,88.3 318.2,85.3 318.3,82.3 318.1,79.4 318.3,76.4 318.3,73.4 318.2,70.5 318.1,67.5 318.1,64.5 319,61.6 318.3,58.6 318.3,55.6 318.4,52.7 318.7,49.7 319,46.7 318.6,43.8 318.5,40.8 319.3,37.8 318.6,34.9 319.2,31.9 318.9,29 319.1,26 319.1,25.5 317.7,25.3 317.7,26 317.5,29.4 317.3,32.7 317.2,36.1 317,39.4 316.8,42.8 316.5,46.1 316.2,49.4 315.6,52.7 315,56 314.4,59.3 313.9,62.6 313.3,65.9 312.9,69.3 312.4,72.6 311.9,75.9 311.2,79.2 310.4,82.4 309.7,85.7 309.1,89 308.3,92.3 307.6,95.6 306.6,98.8 305.1,101.7 303.7,104.8 302.3,107.8 300.7,110.7 299,113.6 297.1,116.4 294.8,118.8 292.1,120.8 289.2,122.5 286.2,123.9 283,125 279.8,125.9 276.6,126.7 273.3,127.6 270.1,128.5 266.8,129.3 263.6,130 260.2,130.6 256.9,131 253.6,131.3 250.2,131.6 246.9,131.9"/><path d="M246.9,131.9 249.6,131.7 252.3,131.4 255,131.2 257.8,130.9 260.5,130.6 263.2,130.5 265.9,130.2 268.6,129.9 271.4,129.9 274.1,129.7 276.8,129.6 279.5,129.5 282.3,129.5 285,129.3 287.7,128.8 290.4,128.8 293.1,128.5 295.8,127.8 298.6,127.5 301.3,127.2 304,126.8 306.7,126.8 309.4,126.7 312.1,126.6 314.8,125.9 317.4,125.2 320,124.3 322,122.6 323.5,119.7 307.3,124.2 309.3,123.4 312.2,121.9 314.5,119.8 315.5,117.5 316.9,114.8 318.2,112 318.5,109 318.6,106.1 318.4,103.1 319.4,100.1 318.7,97.2 318.5,94.2 319.5,91.2 319.2,88.3 318.9,85.3 319.4,82.3 319.1,79.4 319.3,76.4 319.1,73.4 318.7,70.5 319.4,67.5 319.2,64.5 318.8,61.5 319,58.6 319.7,55.6 319.4,52.7 319.6,49.7 320,46.7 319.9,43.8 319.5,40.8 320.3,37.8 320.4,34.9 320.3,31.9 320.4,28.9 319.9,26 319.9,25.5 319.9,25.4 319.9,26 319.7,29.4 319.6,32.8 319.4,36.3 319.2,39.7 319.1,43.1 318.9,46.5 318.6,49.9 318.2,53.3 317.8,56.7 317.3,60.1 316.7,63.5 316.3,66.9 316,70.3 315.6,73.7 315,77.1 314.4,80.4 313.7,83.8 313,87.1 312.3,90.5 311.4,93.8 310.5,97.1 309.3,100.3 307.7,103.3 306.1,106.3 304.4,109.2 302.6,112.2 300.8,115.1 298.8,117.8 296.3,120.2 293.4,122.1 290.4,123.6 287.2,125 284,126 280.6,126.7 277.3,127.4 274,128.1 270.6,128.9 267.3,129.7 263.9,130.4 260.5,130.9 257.1,131.2 253.7,131.5 250.3,131.7 246.9,131.9"/><path d="M246.9,131.9 249.6,131.6 252.3,131.4 255,131.1 257.8,130.8 260.5,130.6 263.2,130.3 265.9,130.1 268.6,129.8 271.4,129.6 274.1,129.5 276.8,129.4 279.5,129.4 282.3,129.4 285,128.8 287.7,128.6 290.4,128.4 293.1,128 295.8,127.4 298.6,127.3 301.3,127.1 304,126.7 306.7,125.8 309.4,125.9 312.1,124.9 314.8,125.4 317.4,124.1 320,123.4 322,121.6 323.5,119.2 314,125.7 316.3,124.5 318.8,122.8 319.8,120.4 320.6,117.7 321.3,114.9 322.8,112 321.7,109 322.5,106 322.8,103.1 322,100.1 322.7,97.1 322.8,94.2 322.5,91.2 323.1,88.2 322.5,85.3 322,82.3 322.4,79.3 322.1,76.4 321.8,73.4 321.8,70.4 323,67.4 322,64.5 322.2,61.5 322,58.5 322.4,55.6 322.3,52.6 322.3,49.6 322.1,46.7 322.1,43.7 322.4,40.7 322.8,37.8 323.4,34.8 323.1,31.8 323.4,28.9 323.3,26 323.3,24.9 317,25.9 317,26 316.8,29.3 316.7,32.7 316.5,36 316.3,39.3 316.1,42.7 315.8,46 315.4,49.3 314.8,52.5 314.1,55.8 313.5,59.1 313,62.4 312.4,65.7 311.9,69 311.5,72.3 310.9,75.5 310.2,78.8 309.4,82 308.7,85.3 308,88.6 307.4,91.8 306.6,95.1 305.8,98.3 304.3,101.3 303,104.3 301.6,107.3 300.1,110.3 298.5,113.2 296.6,115.9 294.3,118.3 291.7,120.4 288.9,122.2 285.9,123.6 282.7,124.7 279.5,125.6 276.3,126.5 273.1,127.4 269.9,128.3 266.7,129.1 263.4,129.9 260.2,130.5 256.8,130.9 253.5,131.3 250.2,131.6 246.9,131.9"/><path d="M246.9,131.9 249.6,131.6 252.3,131.4 255,131.2 257.8,131 260.5,130.7 263.2,130.3 265.9,130.3 268.6,130 271.4,129.8 274.1,129.8 276.8,129.9 279.5,129.8 282.3,129.6 285,129.2 287.7,129.7 290.4,128.7 293.1,128.6 295.8,128 298.6,128.4 301.3,127.8 304,127.7 306.7,127.2 309.4,126.8 312.1,126.5 314.8,125.3 317.4,125.7 320,124.7 322,122.5 323.5,120.3 310.5,125 313.1,123.9 315.7,122.3 317.8,120.1 318,117.6 319.6,114.9 320,112 320.2,109 319.7,106 320.7,103.1 320.1,100.1 320.3,97.1 320.3,94.2 319.9,91.2 320.4,88.2 319.9,85.3 320.3,82.3 320.5,79.3 320.6,76.4 320.6,73.4 320.6,70.4 321.4,67.5 320.8,64.5 320.2,61.5 320.5,58.6 320.6,55.6 320.8,52.6 320.8,49.7 320.8,46.7 321.8,43.7 321.3,40.8 321.2,37.8 321.3,34.8 321.2,31.9 321.7,28.9 321.6,26 321.6,25.9 315.5,25.5 315.5,26 315.3,29.3 315.1,32.6 314.9,35.9 314.7,39.1 314.5,42.4 314.2,45.7 313.7,48.9 313,52.1 312.2,55.3 311.5,58.5 310.9,61.8 310.4,65 309.8,68.3 309.3,71.5 308.7,74.7 308,77.9 307.1,81.1 306.4,84.3 305.8,87.6 305.2,90.8 304.6,94 303.9,97.2 302.5,100.2 301.4,103.3 300.2,106.3 298.8,109.3 297.3,112.2 295.4,114.9 293.2,117.3 290.8,119.5 288.1,121.4 285.1,122.8 282.1,124 278.9,125 275.8,126 272.7,127 269.5,128 266.4,128.8 263.2,129.6 259.9,130.2 256.7,130.7 253.4,131.1 250.2,131.5 246.9,131.9"/><path d="M246.9,131.9 249.6,131.7 252.3,131.4 255,131.2 257.8,131 260.5,130.7 263.2,130.4 265.9,130.3 268.6,130.1 271.4,130 274.1,129.9 276.8,129.9 279.5,129.8 282.3,129.6 285,129.5 287.7,129.6 290.4,129.4 293.1,129.2 295.8,128.8 298.6,127.4 301.3,127.8 304,127.7 306.7,127.6 309.4,126.7 312.1,127.3 314.8,126.5 317.4,125.6 320,124.9 322,122.9 323.5,120.5 312.4,125.4 315.1,124.3 317.6,122.6 319.1,120.2 320.2,117.7 321.1,114.9 320.7,112 321.9,109 321,106 321.7,103.1 321.4,100.1 321.8,97.1 321.4,94.2 321.1,91.2 321.9,88.2 321.6,85.3 321.6,82.3 321.6,79.3 321.9,76.4 321.8,73.4 321.6,70.4 321,67.5 321.4,64.5 321.6,61.5 322.2,58.5 321.8,55.6 321.7,52.6 322.2,49.6 321.9,46.7 322,43.7 322.1,40.7 321.6,37.8 322.5,34.8 322.2,31.8 322,28.9 322,26 322,25.3 319.8,25 319.8,26 319.7,29.4 319.5,32.8 319.4,36.3 319.2,39.7 319,43.1 318.8,46.5 318.6,49.9 318.2,53.3 317.7,56.7 317.2,60.1 316.7,63.5 316.3,66.9 315.9,70.3 315.5,73.7 315,77 314.4,80.4 313.7,83.8 313,87.1 312.2,90.4 311.4,93.8 310.5,97.1 309.3,100.3 307.7,103.3 306,106.3 304.3,109.2 302.5,112.1 300.7,115 298.7,117.8 296.3,120.2 293.4,122.1 290.4,123.6 287.2,125 284,126 280.6,126.7 277.3,127.4 273.9,128.1 270.6,128.9 267.3,129.7 263.9,130.4 260.5,130.9 257.1,131.2 253.7,131.5 250.3,131.7 246.9,131.9"/><path d="M246.9,131.9 249.6,131.7 252.3,131.4 255,131.2 257.8,130.9 260.5,130.7 263.2,130.5 265.9,130.3 268.6,130.2 271.4,130.1 274.1,130.1 276.8,129.9 279.5,129.7 282.3,129.4 285,129.7 287.7,129.6 290.4,129.1 293.1,129.1 295.8,128.9 298.6,128.3 301.3,128.3 304,127.8 306.7,126.8 309.4,127 312.1,126.6 314.8,126.4 317.4,125.4 320,124.6 322,122.6 323.5,120.6 306.3,124 309.5,123.2 311.6,121.8 313.4,119.8 315.6,117.5 317.6,114.8 317.1,112 318.1,109 318.1,106.1 318.1,103.1 318,100.1 318.1,97.2 318.7,94.2 318.6,91.2 318.1,88.3 319.1,85.3 318.1,82.3 318.8,79.4 318.6,76.4 319,73.4 318.7,70.5 319,67.5 318.6,64.5 319,61.6 318.9,58.6 319.7,55.6 318.8,52.7 319.6,49.7 319.5,46.7 319.6,43.8 319.4,40.8 319.8,37.8 319.2,34.9 319.1,31.9 319.6,28.9 318.7,26 318.7,25.7 318.3,25.7 318.3,26 318.1,29.4 318,32.7 317.8,36.1 317.6,39.5 317.4,42.9 317.2,46.2 316.8,49.6 316.3,52.9 315.8,56.2 315.2,59.5 314.7,62.9 314.2,66.2 313.8,69.6 313.3,72.9 312.8,76.2 312.1,79.5 311.4,82.8 310.7,86.1 310,89.4 309.2,92.7 308.4,96 307.4,99.2 305.8,102.2 304.4,105.2 302.9,108.2 301.2,111.1 299.5,114 297.6,116.8 295.2,119.2 292.5,121.2 289.6,122.8 286.5,124.2 283.3,125.3 280,126.1 276.8,126.9 273.5,127.7 270.2,128.6 267,129.4 263.7,130.1 260.3,130.6 257,131 253.6,131.4 250.3,131.6 246.9,131.9"/></g>
<path d="M304,124 L309,120.5 L314,117 L317,112 L320,108 L323.5,113 L327.5,114.5 L326,121 L321,125.5 L312,126.5 Z" fill="#0a0af5" opacity="0.8"/>
<rect x="136.5" y="17.9" width="221.1" height="209.5" fill="none" stroke="#2b2b2b" stroke-width="1.05"/><path d="M136.5,227.4 v-2.3 M136.5,17.9 v2.3" stroke="#2b2b2b" stroke-width="0.8"/><path d="M173.3,227.4 v-2.3 M173.3,17.9 v2.3" stroke="#2b2b2b" stroke-width="0.8"/><path d="M210.2,227.4 v-2.3 M210.2,17.9 v2.3" stroke="#2b2b2b" stroke-width="0.8"/><path d="M247.1,227.4 v-2.3 M247.1,17.9 v2.3" stroke="#2b2b2b" stroke-width="0.8"/><path d="M283.9,227.4 v-2.3 M283.9,17.9 v2.3" stroke="#2b2b2b" stroke-width="0.8"/><path d="M320.8,227.4 v-2.3 M320.8,17.9 v2.3" stroke="#2b2b2b" stroke-width="0.8"/><path d="M357.6,227.4 v-2.3 M357.6,17.9 v2.3" stroke="#2b2b2b" stroke-width="0.8"/><path d="M136.5,227.2 h2.3 M357.6,227.2 h-2.3" stroke="#2b2b2b" stroke-width="0.8"/><path d="M136.5,203.4 h2.3 M357.6,203.4 h-2.3" stroke="#2b2b2b" stroke-width="0.8"/><path d="M136.5,179.6 h2.3 M357.6,179.6 h-2.3" stroke="#2b2b2b" stroke-width="0.8"/><path d="M136.5,155.7 h2.3 M357.6,155.7 h-2.3" stroke="#2b2b2b" stroke-width="0.8"/><path d="M136.5,131.9 h2.3 M357.6,131.9 h-2.3" stroke="#2b2b2b" stroke-width="0.8"/><path d="M136.5,108.1 h2.3 M357.6,108.1 h-2.3" stroke="#2b2b2b" stroke-width="0.8"/><path d="M136.5,84.2 h2.3 M357.6,84.2 h-2.3" stroke="#2b2b2b" stroke-width="0.8"/><path d="M136.5,60.4 h2.3 M357.6,60.4 h-2.3" stroke="#2b2b2b" stroke-width="0.8"/><path d="M136.5,36.6 h2.3 M357.6,36.6 h-2.3" stroke="#2b2b2b" stroke-width="0.8"/>
<text x="135.1" y="235.6" font-size="9.3" text-anchor="middle" font-family="'Liberation Serif','Times New Roman',serif" fill="#222" stroke="#222" stroke-width="0.22">-3</text>
<text x="171.9" y="235.6" font-size="9.3" text-anchor="middle" font-family="'Liberation Serif','Times New Roman',serif" fill="#222" stroke="#222" stroke-width="0.22">-2</text>
<text x="208.8" y="235.6" font-size="9.3" text-anchor="middle" font-family="'Liberation Serif','Times New Roman',serif" fill="#222" stroke="#222" stroke-width="0.22">-1</text>
<text x="247.1" y="235.6" font-size="9.3" text-anchor="middle" font-family="'Liberation Serif','Times New Roman',serif" fill="#222" stroke="#222" stroke-width="0.22">0</text>
<text x="283.9" y="235.6" font-size="9.3" text-anchor="middle" font-family="'Liberation Serif','Times New Roman',serif" fill="#222" stroke="#222" stroke-width="0.22">1</text>
<text x="320.8" y="235.6" font-size="9.3" text-anchor="middle" font-family="'Liberation Serif','Times New Roman',serif" fill="#222" stroke="#222" stroke-width="0.22">2</text>
<text x="357.6" y="235.6" font-size="9.3" text-anchor="middle" font-family="'Liberation Serif','Times New Roman',serif" fill="#222" stroke="#222" stroke-width="0.22">3</text>
<text x="134.3" y="228.4" font-size="9.3" text-anchor="end" font-family="'Liberation Serif','Times New Roman',serif" fill="#222" stroke="#222" stroke-width="0.22">-80</text>
<text x="134.3" y="204.6" font-size="9.3" text-anchor="end" font-family="'Liberation Serif','Times New Roman',serif" fill="#222" stroke="#222" stroke-width="0.22">-60</text>
<text x="134.3" y="180.8" font-size="9.3" text-anchor="end" font-family="'Liberation Serif','Times New Roman',serif" fill="#222" stroke="#222" stroke-width="0.22">-40</text>
<text x="134.3" y="156.9" font-size="9.3" text-anchor="end" font-family="'Liberation Serif','Times New Roman',serif" fill="#222" stroke="#222" stroke-width="0.22">-20</text>
<text x="134.3" y="133.1" font-size="9.3" text-anchor="end" font-family="'Liberation Serif','Times New Roman',serif" fill="#222" stroke="#222" stroke-width="0.22">0</text>
<text x="134.3" y="109.3" font-size="9.3" text-anchor="end" font-family="'Liberation Serif','Times New Roman',serif" fill="#222" stroke="#222" stroke-width="0.22">20</text>
<text x="134.3" y="85.4" font-size="9.3" text-anchor="end" font-family="'Liberation Serif','Times New Roman',serif" fill="#222" stroke="#222" stroke-width="0.22">40</text>
<text x="134.3" y="61.6" font-size="9.3" text-anchor="end" font-family="'Liberation Serif','Times New Roman',serif" fill="#222" stroke="#222" stroke-width="0.22">60</text>
<text x="134.3" y="37.8" font-size="9.3" text-anchor="end" font-family="'Liberation Serif','Times New Roman',serif" fill="#222" stroke="#222" stroke-width="0.22">80</text>
<text x="249.2" y="246.8" font-size="13" text-anchor="middle" font-family="'Liberation Serif','Times New Roman',serif" fill="#111" stroke="#111" stroke-width="0.32">Voltage (V)</text>
<text transform="translate(119.6,117.8) rotate(-90)" font-size="13" text-anchor="middle" font-family="'Liberation Serif','Times New Roman',serif" fill="#111" stroke="#111" stroke-width="0.32">Current (μA)</text>
<g fill="none" stroke="#1010f4" stroke-width="0.62"><path d="M391.3,185.2 408,180.2 424.8,174.4 441.5,168.1 458.3,161.6 475,154.9 491.8,148.1 508.5,141.1"/><path d="M391.3,191.7 408,187.1 424.8,181.8 441.5,176.1 458.3,170.2 475,164 491.8,157.8 508.5,151.4"/><path d="M391.3,191.7 408,187.3 424.8,182.1 441.5,176.5 458.3,170.7 475,164.8 491.8,158.7 508.5,152.4"/><path d="M391.3,192.1 408,187.6 424.8,182.3 441.5,176.7 458.3,170.9 475,164.9 491.8,158.7 508.5,152.4"/><path d="M391.3,192.1 408,187.6 424.8,182.2 441.5,176.4 458.3,170.4 475,164.3 491.8,158 508.5,151.5"/><path d="M391.3,194.4 408,190 424.8,184.9 441.5,179.4 458.3,173.7 475,167.8 491.8,161.8 508.5,155.7"/><path d="M391.3,194.5 408,190.1 424.8,185 441.5,179.5 458.3,173.8 475,168 491.8,162 508.5,155.9"/><path d="M391.3,196 408,191.8 424.8,186.9 441.5,181.6 458.3,176.2 475,170.6 491.8,164.8 508.5,158.9"/><path d="M391.3,196.4 408,192.3 424.8,187.4 441.5,182.3 458.3,176.9 475,171.3 491.8,165.7 508.5,159.9"/><path d="M391.3,197.6 408,193.5 424.8,188.8 441.5,183.7 458.3,178.4 475,173 491.8,167.4 508.5,161.8"/><path d="M391.3,198.1 408,194 424.8,189.2 441.5,184 458.3,178.7 475,173.2 491.8,167.6 508.5,161.8"/><path d="M391.3,198.2 408,194.2 424.8,189.5 441.5,184.5 458.3,179.2 475,173.9 491.8,168.3 508.5,162.7"/><path d="M391.3,205.9 408,202.3 424.8,198.1 441.5,193.7 458.3,189 475,184.2 491.8,179.2 508.5,174.2"/><path d="M391.3,213.1 408,209.9 424.8,206.1 441.5,202.1 458.3,197.9 475,193.6 491.8,189.1 508.5,184.6"/><path d="M391.3,222 408,219.8 424.8,217.1 441.5,214.3 458.3,211.4 475,208.4 491.8,205.3 508.5,202.2"/><path d="M391.3,215.6 408,212.7 424.8,209.2 441.5,205.6 458.3,201.8 475,197.9 491.8,194 508.5,189.9"/><path d="M391.3,216.5 408,213.7 424.8,210.5 441.5,207.1 458.3,203.5 475,199.8 491.8,196 508.5,192.1"/><path d="M391.3,214.3 408,211.4 424.8,207.9 441.5,204.2 458.3,200.4 475,196.4 491.8,192.4 508.5,188.2"/><path d="M391.3,208.5 408,205.3 424.8,201.6 441.5,197.6 458.3,193.5 475,189.3 491.8,184.9 508.5,180.5"/><path d="M391.3,214.6 408,211.6 424.8,208.2 441.5,204.5 458.3,200.7 475,196.8 491.8,192.8 508.5,188.7"/><path d="M391.3,201.7 408,198 424.8,193.6 441.5,189 458.3,184.1 475,179.1 491.8,174 508.5,168.8"/><path d="M391.3,210.4 408,207.2 424.8,203.5 441.5,199.6 458.3,195.5 475,191.3 491.8,186.9 508.5,182.5"/><path d="M391.3,219 408,216.4 424.8,213.3 441.5,210 458.3,206.7 475,203.2 491.8,199.6 508.5,195.9"/><path d="M391.3,205.9 408,202.3 424.8,198 441.5,193.5 458.3,188.8 475,184 491.8,179 508.5,173.9"/><path d="M391.3,215.4 408,212.8 424.8,209.6 441.5,206.3 458.3,202.8 475,199.2 491.8,195.5 508.5,191.8"/><path d="M391.3,217 408,214.4 424.8,211.4 441.5,208.2 458.3,204.9 475,201.4 491.8,197.9 508.5,194.3"/><path d="M391.3,204.9 408,201.4 424.8,197.4 441.5,193.1 458.3,188.7 475,184.1 491.8,179.4 508.5,174.5"/><path d="M391.3,219.9 408,217.8 424.8,215.2 441.5,212.5 458.3,209.6 475,206.7 491.8,203.7 508.5,200.6"/><path d="M391.3,206.7 408,203.4 424.8,199.5 441.5,195.3 458.3,190.9 475,186.4 491.8,181.8 508.5,177.2"/><path d="M391.3,222.2 408,220 424.8,217.4 441.5,214.7 458.3,211.8 475,208.9 491.8,205.9 508.5,202.8"/><path d="M391.3,208.9 408,205.7 424.8,201.9 441.5,197.9 458.3,193.7 475,189.3 491.8,184.9 508.5,180.4"/><path d="M391.3,214.6 408,211.9 424.8,208.6 441.5,205.2 458.3,201.5 475,197.8 491.8,194 508.5,190.1"/><path d="M391.3,221.9 408,219.6 424.8,216.9 441.5,214.1 458.3,211.1 475,208 491.8,204.9 508.5,201.7"/><path d="M391.3,219.1 408,216.6 424.8,213.6 441.5,210.4 458.3,207.1 475,203.6 491.8,200.1 508.5,196.5"/><path d="M391.3,211.9 408,209.2 424.8,205.9 441.5,202.5 458.3,198.9 475,195.2 491.8,191.4 508.5,187.5"/><path d="M391.3,205.7 408,202 424.8,197.7 441.5,193.1 458.3,188.4 475,183.4 491.8,178.4 508.5,173.3"/><path d="M391.3,214.7 408,212 424.8,208.7 441.5,205.3 458.3,201.7 475,198 491.8,194.2 508.5,190.4"/><path d="M391.3,214.1 408,211.4 424.8,208.1 441.5,204.6 458.3,201 475,197.3 491.8,193.5 508.5,189.6"/><path d="M391.3,202.9 408,199.2 424.8,194.9 441.5,190.4 458.3,185.6 475,180.7 491.8,175.7 508.5,170.6"/><path d="M391.3,209.7 408,206.5 424.8,202.6 441.5,198.6 458.3,194.3 475,189.9 491.8,185.4 508.5,180.9"/><path d="M391.3,221.3 408,219 424.8,216.3 441.5,213.4 458.3,210.4 475,207.3 491.8,204.1 508.5,200.8"/><path d="M391.3,212.8 408,209.8 424.8,206.3 441.5,202.6 458.3,198.7 475,194.7 491.8,190.6 508.5,186.5"/><path d="M391.3,205.4 408,201.8 424.8,197.6 441.5,193.1 458.3,188.4 475,183.6 491.8,178.6 508.5,173.6"/><path d="M391.3,215.3 408,212.6 424.8,209.4 441.5,206 458.3,202.4 475,198.7 491.8,194.9 508.5,191.1"/><path d="M391.3,211.3 408,208.2 424.8,204.5 441.5,200.7 458.3,196.7 475,192.5 491.8,188.3 508.5,184"/><path d="M391.3,221.1 408,218.8 424.8,216 441.5,213 458.3,210 475,206.8 491.8,203.5 508.5,200.2"/><path d="M391.3,212 408,209.1 424.8,205.7 441.5,202.1 458.3,198.3 475,194.4 491.8,190.4 508.5,186.3"/><path d="M391.3,202.1 408,198.2 424.8,193.7 441.5,188.9 458.3,183.9 475,178.7 491.8,173.4 508.5,168"/><path d="M391.3,205 408,201.5 424.8,197.4 441.5,193.1 458.3,188.6 475,184 491.8,179.2 508.5,174.4"/><path d="M391.3,205.3 408,201.7 424.8,197.5 441.5,193.1 458.3,188.5 475,183.7 491.8,178.8 508.5,173.8"/><path d="M391.3,222 408,219.8 424.8,217.2 441.5,214.4 458.3,211.6 475,208.6 491.8,205.6 508.5,202.5"/><path d="M391.3,209.2 408,206 424.8,202.3 441.5,198.3 458.3,194.2 475,189.9 491.8,185.5 508.5,181.1"/><path d="M391.3,209 408,205.8 424.8,202.1 441.5,198.1 458.3,194 475,189.7 491.8,185.3 508.5,180.9"/><path d="M391.3,222.5 408,220.2 424.8,217.5 441.5,214.6 458.3,211.5 475,208.4 491.8,205.3 508.5,202"/><path d="M391.3,205.9 408,202.4 424.8,198.3 441.5,193.9 458.3,189.3 475,184.5 491.8,179.7 508.5,174.7"/><path d="M391.3,214.9 408,212 424.8,208.6 441.5,205.1 458.3,201.3 475,197.5 491.8,193.5 508.5,189.5"/><path d="M391.3,221.9 408,219.6 424.8,217 441.5,214.2 458.3,211.3 475,208.3 491.8,205.3 508.5,202.2"/><path d="M391.3,221.1 408,218.8 424.8,216.2 441.5,213.4 458.3,210.5 475,207.6 491.8,204.5 508.5,201.4"/><path d="M391.3,204.9 408,201.6 424.8,197.6 441.5,193.3 458.3,188.9 475,184.4 491.8,179.7 508.5,175"/><path d="M391.3,211.6 408,208.6 424.8,205 441.5,201.1 458.3,197.1 475,193 491.8,188.8 508.5,184.5"/><path d="M391.3,206.9 408,203.6 424.8,199.6 441.5,195.4 458.3,191.1 475,186.6 491.8,181.9 508.5,177.2"/><path d="M391.3,216.5 408,213.7 424.8,210.4 441.5,206.9 458.3,203.2 475,199.4 491.8,195.5 508.5,191.5"/><path d="M391.3,206.8 408,203.2 424.8,198.9 441.5,194.4 458.3,189.7 475,184.8 491.8,179.8 508.5,174.7"/><path d="M391.3,205.3 408,201.7 424.8,197.5 441.5,193 458.3,188.4 475,183.6 491.8,178.6 508.5,173.6"/><path d="M391.3,207.3 408,203.9 424.8,199.9 441.5,195.7 458.3,191.2 475,186.7 491.8,182 508.5,177.2"/><path d="M391.3,204.3 408,200.6 424.8,196.2 441.5,191.5 458.3,186.7 475,181.6 491.8,176.5 508.5,171.3"/><path d="M391.3,216.9 408,214.1 424.8,210.8 441.5,207.2 458.3,203.6 475,199.8 491.8,195.9 508.5,191.9"/><path d="M391.3,207.5 408,204.2 424.8,200.4 441.5,196.3 458.3,192.1 475,187.7 491.8,183.2 508.5,178.7"/><path d="M391.3,210.1 408,206.9 424.8,203.1 441.5,199.1 458.3,194.9 475,190.6 491.8,186.1 508.5,181.6"/><path d="M391.3,207.4 408,203.9 424.8,199.8 441.5,195.4 458.3,190.8 475,186.1 491.8,181.2 508.5,176.3"/><path d="M391.3,209.7 408,206.8 424.8,203.4 441.5,199.7 458.3,196 475,192.1 491.8,188.1 508.5,184"/><path d="M391.3,208.1 408,204.8 424.8,201 441.5,196.9 458.3,192.6 475,188.3 491.8,183.8 508.5,179.2"/><path d="M391.3,209.3 408,206.1 424.8,202.3 441.5,198.3 458.3,194.1 475,189.7 491.8,185.3 508.5,180.8"/><path d="M391.3,214.6 408,211.9 424.8,208.7 441.5,205.3 458.3,201.8 475,198.2 491.8,194.4 508.5,190.6"/><path d="M391.3,206.6 408,203.1 424.8,199 441.5,194.7 458.3,190.2 475,185.5 491.8,180.7 508.5,175.9"/><path d="M391.3,214.3 408,211.7 424.8,208.6 441.5,205.3 458.3,201.8 475,198.3 491.8,194.7 508.5,191"/><path d="M391.3,209.2 408,205.8 424.8,201.9 441.5,197.7 458.3,193.3 475,188.8 491.8,184.1 508.5,179.4"/><path d="M391.3,205.4 408,201.8 424.8,197.5 441.5,193 458.3,188.3 475,183.4 491.8,178.4 508.5,173.3"/><path d="M391.3,205.8 408,202.3 424.8,198.3 441.5,193.9 458.3,189.4 475,184.8 491.8,180 508.5,175.1"/><path d="M391.3,217.5 408,214.8 424.8,211.7 441.5,208.4 458.3,204.9 475,201.3 491.8,197.7 508.5,193.9"/><path d="M391.3,204.6 408,201.2 424.8,197.3 441.5,193.1 458.3,188.7 475,184.1 491.8,179.5 508.5,174.7"/><path d="M391.3,208.1 408,204.7 424.8,200.6 441.5,196.3 458.3,191.8 475,187.2 491.8,182.4 508.5,177.6"/><path d="M391.3,217 408,214.3 424.8,211.1 441.5,207.7 458.3,204.2 475,200.6 491.8,196.8 508.5,193.1"/><path d="M391.3,205.2 408,201.7 424.8,197.6 441.5,193.3 458.3,188.8 475,184.1 491.8,179.4 508.5,174.5"/><path d="M391.3,207.2 408,203.9 424.8,200 441.5,195.9 458.3,191.6 475,187.2 491.8,182.7 508.5,178.1"/><path d="M391.3,208 408,204.9 424.8,201.1 441.5,197.2 458.3,193 475,188.8 491.8,184.4 508.5,180"/><path d="M391.3,216.5 408,213.9 424.8,210.9 441.5,207.6 458.3,204.2 475,200.7 491.8,197.1 508.5,193.4"/><path d="M391.3,205.7 408,202.5 424.8,198.8 441.5,194.8 458.3,190.6 475,186.3 491.8,181.9 508.5,177.4"/><path d="M391.3,218.2 408,215.6 424.8,212.6 441.5,209.3 458.3,206 475,202.5 491.8,199 508.5,195.4"/><path d="M391.3,205.8 408,202.4 424.8,198.3 441.5,194 458.3,189.6 475,185 491.8,180.3 508.5,175.4"/><path d="M391.3,212.5 408,209.6 424.8,206.3 441.5,202.7 458.3,199 475,195.1 491.8,191.2 508.5,187.2"/><path d="M391.3,215.6 408,212.8 424.8,209.6 441.5,206.2 458.3,202.6 475,198.9 491.8,195.1 508.5,191.2"/><path d="M391.3,212.4 408,209.4 424.8,205.9 441.5,202.1 458.3,198.2 475,194.2 491.8,190.1 508.5,185.9"/><path d="M391.3,211.6 408,208.5 424.8,204.9 441.5,201.1 458.3,197.1 475,193 491.8,188.8 508.5,184.4"/><path d="M391.3,210.6 408,207.4 424.8,203.7 441.5,199.7 458.3,195.6 475,191.3 491.8,187 508.5,182.5"/><path d="M391.3,207.8 408,204.4 424.8,200.3 441.5,196 458.3,191.6 475,187 491.8,182.3 508.5,177.4"/><path d="M391.3,218.9 408,216.3 424.8,213.4 441.5,210.2 458.3,206.9 475,203.5 491.8,200 508.5,196.4"/><path d="M391.3,210.1 408,206.7 424.8,202.9 441.5,198.7 458.3,194.4 475,190 491.8,185.4 508.5,180.8"/><path d="M391.3,213.6 408,210.8 424.8,207.4 441.5,203.9 458.3,200.2 475,196.4 491.8,192.5 508.5,188.6"/><path d="M391.3,212.7 408,209.6 424.8,206 441.5,202.1 458.3,198 475,193.8 491.8,189.6 508.5,185.2"/><path d="M391.3,218.4 408,216.1 424.8,213.5 441.5,210.6 458.3,207.7 475,204.6 491.8,201.5 508.5,198.3"/><path d="M391.3,207.7 408,204.5 424.8,200.9 441.5,197 458.3,192.9 475,188.7 491.8,184.4 508.5,180"/><path d="M391.3,206.3 408,203 424.8,199.2 441.5,195.1 458.3,190.8 475,186.4 491.8,181.8 508.5,177.2"/><path d="M391.3,217.5 408,214.9 424.8,211.8 441.5,208.6 458.3,205.2 475,201.7 491.8,198.1 508.5,194.4"/><path d="M391.3,211.6 408,208.5 424.8,204.9 441.5,201.1 458.3,197.1 475,192.9 491.8,188.7 508.5,184.4"/><path d="M391.3,213.6 408,210.9 424.8,207.7 441.5,204.3 458.3,200.7 475,197 491.8,193.3 508.5,189.5"/><path d="M391.3,213.4 408,210.5 424.8,207.1 441.5,203.6 458.3,199.8 475,196 491.8,192 508.5,188"/></g>
<rect x="391.3" y="130.0" width="117.2" height="97.8" fill="none" stroke="#2b2b2b" stroke-width="1.05"/><path d="M391.3,227.8 v-2 M391.3,130.0 v2" stroke="#2b2b2b" stroke-width="0.8"/><path d="M403,227.8 v-2 M403,130.0 v2" stroke="#2b2b2b" stroke-width="0.8"/><path d="M414.7,227.8 v-2 M414.7,130.0 v2" stroke="#2b2b2b" stroke-width="0.8"/><path d="M426.5,227.8 v-2 M426.5,130.0 v2" stroke="#2b2b2b" stroke-width="0.8"/><path d="M438.2,227.8 v-2 M438.2,130.0 v2" stroke="#2b2b2b" stroke-width="0.8"/><path d="M449.9,227.8 v-2 M449.9,130.0 v2" stroke="#2b2b2b" stroke-width="0.8"/><path d="M461.6,227.8 v-2 M461.6,130.0 v2" stroke="#2b2b2b" stroke-width="0.8"/><path d="M473.3,227.8 v-2 M473.3,130.0 v2" stroke="#2b2b2b" stroke-width="0.8"/><path d="M485.1,227.8 v-2 M485.1,130.0 v2" stroke="#2b2b2b" stroke-width="0.8"/><path d="M496.8,227.8 v-2 M496.8,130.0 v2" stroke="#2b2b2b" stroke-width="0.8"/><path d="M508.5,227.8 v-2 M508.5,130.0 v2" stroke="#2b2b2b" stroke-width="0.8"/><path d="M391.3,130 h2 M508.5,130 h-2" stroke="#2b2b2b" stroke-width="0.8"/><path d="M391.3,140.9 h2 M508.5,140.9 h-2" stroke="#2b2b2b" stroke-width="0.8"/><path d="M391.3,151.7 h2 M508.5,151.7 h-2" stroke="#2b2b2b" stroke-width="0.8"/><path d="M391.3,162.6 h2 M508.5,162.6 h-2" stroke="#2b2b2b" stroke-width="0.8"/><path d="M391.3,173.5 h2 M508.5,173.5 h-2" stroke="#2b2b2b" stroke-width="0.8"/><path d="M391.3,184.3 h2 M508.5,184.3 h-2" stroke="#2b2b2b" stroke-width="0.8"/><path d="M391.3,195.2 h2 M508.5,195.2 h-2" stroke="#2b2b2b" stroke-width="0.8"/><path d="M391.3,206.1 h2 M508.5,206.1 h-2" stroke="#2b2b2b" stroke-width="0.8"/><path d="M391.3,216.9 h2 M508.5,216.9 h-2" stroke="#2b2b2b" stroke-width="0.8"/><path d="M391.3,227.8 h2 M508.5,227.8 h-2" stroke="#2b2b2b" stroke-width="0.8"/>
<text x="387.4" y="236.4" font-size="9.4" text-anchor="middle" font-family="'Liberation Serif','Times New Roman',serif" fill="#222" stroke="#222" stroke-width="0.22">0.6</text>
<text x="411.6" y="236.4" font-size="9.4" text-anchor="middle" font-family="'Liberation Serif','Times New Roman',serif" fill="#222" stroke="#222" stroke-width="0.22">0.64</text>
<text x="436.3" y="236.4" font-size="9.4" text-anchor="middle" font-family="'Liberation Serif','Times New Roman',serif" fill="#222" stroke="#222" stroke-width="0.22">0.68</text>
<text x="461.2" y="236.4" font-size="9.4" text-anchor="middle" font-family="'Liberation Serif','Times New Roman',serif" fill="#222" stroke="#222" stroke-width="0.22">0.72</text>
<text x="486.1" y="236.4" font-size="9.4" text-anchor="middle" font-family="'Liberation Serif','Times New Roman',serif" fill="#222" stroke="#222" stroke-width="0.22">0.76</text>
<text x="507.6" y="236.4" font-size="9.4" text-anchor="middle" font-family="'Liberation Serif','Times New Roman',serif" fill="#222" stroke="#222" stroke-width="0.22">0.8</text>
<text x="389.6" y="131.8" font-size="9.4" text-anchor="end" font-family="'Liberation Serif','Times New Roman',serif" fill="#222" stroke="#222" stroke-width="0.22">6</text>
<text x="389.6" y="164.4" font-size="9.4" text-anchor="end" font-family="'Liberation Serif','Times New Roman',serif" fill="#222" stroke="#222" stroke-width="0.22">4.5</text>
<text x="389.6" y="197" font-size="9.4" text-anchor="end" font-family="'Liberation Serif','Times New Roman',serif" fill="#222" stroke="#222" stroke-width="0.22">3</text>
<text x="389.6" y="229.6" font-size="9.4" text-anchor="end" font-family="'Liberation Serif','Times New Roman',serif" fill="#222" stroke="#222" stroke-width="0.22">1.5</text>
<path d="M391.5,101.9 L508.5,20" stroke="#5a5ae6" stroke-width="0.8" fill="none"/>
<path d="M422.8,81 H459.6 V55.2" stroke="#7a7a7a" stroke-width="0.8" fill="none"/>
<circle cx="422.8" cy="81" r="0.9" fill="#333"/><circle cx="459.6" cy="81" r="0.9" fill="#333"/><circle cx="459.6" cy="55.2" r="0.9" fill="#333"/>
<text x="460.8" y="71.3" font-size="6.6" font-family="'Liberation Sans',Arial,sans-serif" font-style="italic" fill="#333">ΔI= g × ΔV</text>
<rect x="391.5" y="17.75" width="117" height="88.5" fill="none" stroke="#2b2b2b" stroke-width="1.05"/><path d="M391.5,106.3 v-2 M391.5,17.75 v2" stroke="#2b2b2b" stroke-width="0.8"/><path d="M403.2,106.3 v-2 M403.2,17.75 v2" stroke="#2b2b2b" stroke-width="0.8"/><path d="M414.9,106.3 v-2 M414.9,17.75 v2" stroke="#2b2b2b" stroke-width="0.8"/><path d="M426.6,106.3 v-2 M426.6,17.75 v2" stroke="#2b2b2b" stroke-width="0.8"/><path d="M438.3,106.3 v-2 M438.3,17.75 v2" stroke="#2b2b2b" stroke-width="0.8"/><path d="M450,106.3 v-2 M450,17.75 v2" stroke="#2b2b2b" stroke-width="0.8"/><path d="M461.7,106.3 v-2 M461.7,17.75 v2" stroke="#2b2b2b" stroke-width="0.8"/><path d="M473.4,106.3 v-2 M473.4,17.75 v2" stroke="#2b2b2b" stroke-width="0.8"/><path d="M485.1,106.3 v-2 M485.1,17.75 v2" stroke="#2b2b2b" stroke-width="0.8"/><path d="M496.8,106.3 v-2 M496.8,17.75 v2" stroke="#2b2b2b" stroke-width="0.8"/><path d="M508.5,106.3 v-2 M508.5,17.75 v2" stroke="#2b2b2b" stroke-width="0.8"/><path d="M391.5,17.8 h2 M508.5,17.8 h-2" stroke="#2b2b2b" stroke-width="0.8"/><path d="M391.5,36 h2 M508.5,36 h-2" stroke="#2b2b2b" stroke-width="0.8"/><path d="M391.5,54.4 h2 M508.5,54.4 h-2" stroke="#2b2b2b" stroke-width="0.8"/><path d="M391.5,72.7 h2 M508.5,72.7 h-2" stroke="#2b2b2b" stroke-width="0.8"/><path d="M391.5,91 h2 M508.5,91 h-2" stroke="#2b2b2b" stroke-width="0.8"/>
<text x="389.6" y="24.2" font-size="9.4" text-anchor="end" font-family="'Liberation Serif','Times New Roman',serif" fill="#222" stroke="#222" stroke-width="0.22">4.7</text>
<text x="389.6" y="59.4" font-size="9.4" text-anchor="end" font-family="'Liberation Serif','Times New Roman',serif" fill="#222" stroke="#222" stroke-width="0.22">4.6</text>
<text x="389.6" y="95.2" font-size="9.4" text-anchor="end" font-family="'Liberation Serif','Times New Roman',serif" fill="#222" stroke="#222" stroke-width="0.22">4.5</text>
<text x="390.4" y="114.6" font-size="9.4" text-anchor="middle" font-family="'Liberation Serif','Times New Roman',serif" fill="#222" stroke="#222" stroke-width="0.22">0.7</text>
<text x="448.8" y="114.6" font-size="9.4" text-anchor="middle" font-family="'Liberation Serif','Times New Roman',serif" fill="#222" stroke="#222" stroke-width="0.22">0.71</text>
<text x="510" y="114.6" font-size="9.4" text-anchor="middle" font-family="'Liberation Serif','Times New Roman',serif" fill="#222" stroke="#222" stroke-width="0.22">0.72</text>
<g fill="none" stroke="#b8303c" stroke-width="1.2"><rect x="268.8" y="125.3" width="6.6" height="5.0"/><path d="M275.4,125.3 L391.3,130.2 M275.4,130.3 L391.3,227.8"/><path d="M391.5,106.3 L449.8,159.8 M508.5,106.3 L461.7,159.8"/><rect x="449.8" y="159.8" width="11.9" height="6.2"/></g>
<text x="18" y="263.9" font-size="11" text-anchor="start" font-family="'Liberation Sans',Arial,sans-serif" >c</text>
<path d="M27.75,298.2 H248.5" stroke="#1a1a1a" stroke-width="1.4"/><path d="M34.8,298.2 V281.8 M41.9,298.2 V281.8 M49.1,298.2 V281.8 M56.2,298.2 V281.8 M63.3,298.2 V281.8 M70.5,298.2 V281.8 M77.6,298.2 V281.8 M84.7,298.2 V281.8 M91.9,298.2 V281.8 M99,298.2 V281.8 M106.1,298.2 V281.8 M113.3,298.2 V281.8 M120.4,298.2 V281.8 M127.5,298.2 V281.8 M134.7,298.2 V281.8 M141.8,298.2 V281.8 M148.9,298.2 V281.8 M156.1,298.2 V314.6 M163.2,298.2 V314.6 M170.3,298.2 V314.6 M177.5,298.2 V314.6 M184.6,298.2 V314.6 M191.8,298.2 V314.6 M198.9,298.2 V314.6 M206,298.2 V314.6 M213.2,298.2 V314.6 M220.3,298.2 V314.6 M227.4,298.2 V314.6 M234.6,298.2 V314.6 M241.7,298.2 V314.6 " stroke="#1a1a1a" stroke-width="1.55"/>
<rect x="27.75" y="276.3" width="220.8" height="209.7" fill="none" stroke="#2b2b2b" stroke-width="1.05"/><path d="M27.75,320.4 H248.5" stroke="#2b2b2b" stroke-width="1.05"/><path d="M27.6,486.0 v-2.2 M27.6,276.3 v2.2 M27.6,320.4 v-2.2 M27.6,320.4 v2.2 M63.3,486.0 v-2.2 M63.3,276.3 v2.2 M63.3,320.4 v-2.2 M63.3,320.4 v2.2 M99,486.0 v-2.2 M99,276.3 v2.2 M99,320.4 v-2.2 M99,320.4 v2.2 M134.7,486.0 v-2.2 M134.7,276.3 v2.2 M134.7,320.4 v-2.2 M134.7,320.4 v2.2 M170.3,486.0 v-2.2 M170.3,276.3 v2.2 M170.3,320.4 v-2.2 M170.3,320.4 v2.2 M206,486.0 v-2.2 M206,276.3 v2.2 M206,320.4 v-2.2 M206,320.4 v2.2 M241.7,486.0 v-2.2 M241.7,276.3 v2.2 M241.7,320.4 v-2.2 M241.7,320.4 v2.2 M27.75,281.8 h2.2 M248.5,281.8 h-2.2 M27.75,314.6 h2.2 M248.5,314.6 h-2.2 M27.75,343.8 h2.4 M248.5,343.8 h-2.4 M27.75,459.8 h2.4 M248.5,459.8 h-2.4 M27.75,424.8 h1.4 M248.5,424.8 h-1.4 M27.75,404.4 h1.4 M248.5,404.4 h-1.4 M27.75,389.9 h1.4 M248.5,389.9 h-1.4 M27.75,378.7 h1.4 M248.5,378.7 h-1.4 M27.75,369.5 h1.4 M248.5,369.5 h-1.4 M27.75,361.7 h1.4 M248.5,361.7 h-1.4 M27.75,355 h1.4 M248.5,355 h-1.4 M27.75,349.1 h1.4 M248.5,349.1 h-1.4 M27.75,485.5 h1.4 M248.5,485.5 h-1.4 M27.75,477.7 h1.4 M248.5,477.7 h-1.4 M27.75,471 h1.4 M248.5,471 h-1.4 M27.75,465.1 h1.4 M248.5,465.1 h-1.4 " stroke="#2b2b2b" stroke-width="0.8"/>
<path d="M34.8,405.3 41.9,391.7 49.1,380.9 56.2,378.6 63.3,365 70.5,363 77.6,360.6 84.7,354.4 91.9,354.7 99,352.8 106.1,338 113.3,337.2 120.4,333.8 127.5,332.5 134.7,331.3 141.8,330.2 148.9,329.7 156.1,341.1 163.2,345 170.3,387 177.5,394.8 184.6,404.2 191.8,410.9 198.9,415.2 206,417.5 213.2,419 220.3,417.8 227.4,438.6 234.6,458.1 241.7,462.5" fill="none" stroke="#6f8f33" stroke-width="1.2"/>
<path d="M32.3,403.6 L37.3,403.6 L34.8,407.5ZM39.4,390 L44.4,390 L41.9,393.9ZM46.6,379.2 L51.6,379.2 L49.1,383.1ZM53.7,376.9 L58.7,376.9 L56.2,380.8ZM60.8,363.3 L65.8,363.3 L63.3,367.2ZM68,361.3 L73,361.3 L70.5,365.2ZM75.1,358.9 L80.1,358.9 L77.6,362.8ZM82.2,352.7 L87.2,352.7 L84.7,356.6ZM89.4,353 L94.4,353 L91.9,356.9ZM96.5,351.1 L101.5,351.1 L99,355ZM103.6,336.3 L108.6,336.3 L106.1,340.2ZM110.8,335.5 L115.8,335.5 L113.3,339.4ZM117.9,332.1 L122.9,332.1 L120.4,336ZM125,330.8 L130,330.8 L127.5,334.7ZM132.2,329.6 L137.2,329.6 L134.7,333.5ZM139.3,328.5 L144.3,328.5 L141.8,332.4ZM146.4,328 L151.4,328 L148.9,331.9ZM153.6,339.4 L158.6,339.4 L156.1,343.3ZM160.7,343.3 L165.7,343.3 L163.2,347.2ZM167.8,385.3 L172.8,385.3 L170.3,389.2ZM175,393.1 L180,393.1 L177.5,397ZM182.1,402.5 L187.1,402.5 L184.6,406.4ZM189.3,409.2 L194.3,409.2 L191.8,413.1ZM196.4,413.5 L201.4,413.5 L198.9,417.4ZM203.5,415.8 L208.5,415.8 L206,419.7ZM210.7,417.3 L215.7,417.3 L213.2,421.2ZM217.8,416.1 L222.8,416.1 L220.3,420ZM224.9,436.9 L229.9,436.9 L227.4,440.8ZM232.1,456.4 L237.1,456.4 L234.6,460.3ZM239.2,460.8 L244.2,460.8 L241.7,464.7Z" fill="#6f8f33"/>
<path d="M34.8,428.8 41.9,415.8 49.1,403.8 56.2,403.8 63.3,391.4 70.5,388.4 77.6,386.9 84.7,379.7 91.9,382.2 99,381.3 106.1,369.2 113.3,365.6 120.4,363 127.5,364 134.7,362.2 141.8,362.5 148.9,361 156.1,370.8 163.2,373.1 170.3,403.9 177.5,410.2 184.6,424 191.8,425 198.9,431.6 206,429.7 213.2,432.8 220.3,432.3 227.4,448.8 234.6,466.9 241.7,470" fill="none" stroke="#40215e" stroke-width="1.2"/>
<path d="M32.3,427.1 L37.3,427.1 L34.8,431ZM39.4,414.1 L44.4,414.1 L41.9,418ZM46.6,402.1 L51.6,402.1 L49.1,406ZM53.7,402.1 L58.7,402.1 L56.2,406ZM60.8,389.7 L65.8,389.7 L63.3,393.6ZM68,386.7 L73,386.7 L70.5,390.6ZM75.1,385.2 L80.1,385.2 L77.6,389.1ZM82.2,378 L87.2,378 L84.7,381.9ZM89.4,380.5 L94.4,380.5 L91.9,384.4ZM96.5,379.6 L101.5,379.6 L99,383.5ZM103.6,367.5 L108.6,367.5 L106.1,371.4ZM110.8,363.9 L115.8,363.9 L113.3,367.8ZM117.9,361.3 L122.9,361.3 L120.4,365.2ZM125,362.3 L130,362.3 L127.5,366.2ZM132.2,360.5 L137.2,360.5 L134.7,364.4ZM139.3,360.8 L144.3,360.8 L141.8,364.7ZM146.4,359.3 L151.4,359.3 L148.9,363.2ZM153.6,369.1 L158.6,369.1 L156.1,373ZM160.7,371.4 L165.7,371.4 L163.2,375.3ZM167.8,402.2 L172.8,402.2 L170.3,406.1ZM175,408.5 L180,408.5 L177.5,412.4ZM182.1,422.3 L187.1,422.3 L184.6,426.2ZM189.3,423.3 L194.3,423.3 L191.8,427.2ZM196.4,429.9 L201.4,429.9 L198.9,433.8ZM203.5,428 L208.5,428 L206,431.9ZM210.7,431.1 L215.7,431.1 L213.2,435ZM217.8,430.6 L222.8,430.6 L220.3,434.5ZM224.9,447.1 L229.9,447.1 L227.4,451ZM232.1,465.2 L237.1,465.2 L234.6,469.1ZM239.2,468.3 L244.2,468.3 L241.7,472.2Z" fill="#40215e"/>
<path d="M34.8,451.7 41.9,434 49.1,423.6 56.2,420 63.3,411.9 70.5,407.2 77.6,404.4 84.7,402.2 91.9,401.7 99,400.9 106.1,391.3 113.3,389 120.4,387.8 127.5,387 134.7,385.9 141.8,385 148.9,383.9 156.1,392.4 163.2,394.1 170.3,415 177.5,420.9 184.6,432.3 191.8,437.5 198.9,442.2 206,439.7 213.2,441.3 220.3,443.6 227.4,457.4 234.6,470.6 241.7,476.3" fill="none" stroke="#dba22f" stroke-width="1.2"/>
<path d="M32.3,450 L37.3,450 L34.8,453.9ZM39.4,432.3 L44.4,432.3 L41.9,436.2ZM46.6,421.9 L51.6,421.9 L49.1,425.8ZM53.7,418.3 L58.7,418.3 L56.2,422.2ZM60.8,410.2 L65.8,410.2 L63.3,414.1ZM68,405.5 L73,405.5 L70.5,409.4ZM75.1,402.7 L80.1,402.7 L77.6,406.6ZM82.2,400.5 L87.2,400.5 L84.7,404.4ZM89.4,400 L94.4,400 L91.9,403.9ZM96.5,399.2 L101.5,399.2 L99,403.1ZM103.6,389.6 L108.6,389.6 L106.1,393.5ZM110.8,387.3 L115.8,387.3 L113.3,391.2ZM117.9,386.1 L122.9,386.1 L120.4,390ZM125,385.3 L130,385.3 L127.5,389.2ZM132.2,384.2 L137.2,384.2 L134.7,388.1ZM139.3,383.3 L144.3,383.3 L141.8,387.2ZM146.4,382.2 L151.4,382.2 L148.9,386.1ZM153.6,390.7 L158.6,390.7 L156.1,394.6ZM160.7,392.4 L165.7,392.4 L163.2,396.3ZM167.8,413.3 L172.8,413.3 L170.3,417.2ZM175,419.2 L180,419.2 L177.5,423.1ZM182.1,430.6 L187.1,430.6 L184.6,434.5ZM189.3,435.8 L194.3,435.8 L191.8,439.7ZM196.4,440.5 L201.4,440.5 L198.9,444.4ZM203.5,438 L208.5,438 L206,441.9ZM210.7,439.6 L215.7,439.6 L213.2,443.5ZM217.8,441.9 L222.8,441.9 L220.3,445.8ZM224.9,455.7 L229.9,455.7 L227.4,459.6ZM232.1,468.9 L237.1,468.9 L234.6,472.8ZM239.2,474.6 L244.2,474.6 L241.7,478.5Z" fill="#dba22f"/>
<path d="M34.8,468.1 41.9,451.7 49.1,437.7 56.2,435 63.3,426.3 70.5,422 77.6,419.7 84.7,416.6 91.9,414.7 99,414.7 106.1,406.1 113.3,405 120.4,402.7 127.5,402.2 134.7,403.1 141.8,400 148.9,399 156.1,406.6 163.2,408.9 170.3,425.3 177.5,430.2 184.6,440.2 191.8,443.8 198.9,448.8 206,446.4 213.2,449 220.3,449.7 227.4,462.5 234.6,476.5 241.7,480.3" fill="none" stroke="#a8431f" stroke-width="1.2"/>
<path d="M32.3,466.4 L37.3,466.4 L34.8,470.3ZM39.4,450 L44.4,450 L41.9,453.9ZM46.6,436 L51.6,436 L49.1,439.9ZM53.7,433.3 L58.7,433.3 L56.2,437.2ZM60.8,424.6 L65.8,424.6 L63.3,428.5ZM68,420.3 L73,420.3 L70.5,424.2ZM75.1,418 L80.1,418 L77.6,421.9ZM82.2,414.9 L87.2,414.9 L84.7,418.8ZM89.4,413 L94.4,413 L91.9,416.9ZM96.5,413 L101.5,413 L99,416.9ZM103.6,404.4 L108.6,404.4 L106.1,408.3ZM110.8,403.3 L115.8,403.3 L113.3,407.2ZM117.9,401 L122.9,401 L120.4,404.9ZM125,400.5 L130,400.5 L127.5,404.4ZM132.2,401.4 L137.2,401.4 L134.7,405.3ZM139.3,398.3 L144.3,398.3 L141.8,402.2ZM146.4,397.3 L151.4,397.3 L148.9,401.2ZM153.6,404.9 L158.6,404.9 L156.1,408.8ZM160.7,407.2 L165.7,407.2 L163.2,411.1ZM167.8,423.6 L172.8,423.6 L170.3,427.5ZM175,428.5 L180,428.5 L177.5,432.4ZM182.1,438.5 L187.1,438.5 L184.6,442.4ZM189.3,442.1 L194.3,442.1 L191.8,446ZM196.4,447.1 L201.4,447.1 L198.9,451ZM203.5,444.7 L208.5,444.7 L206,448.6ZM210.7,447.3 L215.7,447.3 L213.2,451.2ZM217.8,448 L222.8,448 L220.3,451.9ZM224.9,460.8 L229.9,460.8 L227.4,464.7ZM232.1,474.8 L237.1,474.8 L234.6,478.7ZM239.2,478.6 L244.2,478.6 L241.7,482.5Z" fill="#a8431f"/>
<path d="M193.9,331.1 L198.9,331.1 L196.4,335Z" fill="#7f9a4c"/>
<text x="202.2" y="335.5" font-size="6.9" font-weight="bold" font-family="'Liberation Serif','Times New Roman',serif" fill="#7f9a4c">V<tspan font-size="4.5" dy="0.4">read</tspan><tspan dy="-0.4"> @ 0.4 V</tspan></text>
<path d="M193.9,340.9 L198.9,340.9 L196.4,344.8Z" fill="#3e2660"/>
<text x="202.2" y="345.3" font-size="6.9" font-weight="bold" font-family="'Liberation Serif','Times New Roman',serif" fill="#3e2660">V<tspan font-size="4.5" dy="0.4">read</tspan><tspan dy="-0.4"> @ 0.3 V</tspan></text>
<path d="M193.9,351 L198.9,351 L196.4,354.9Z" fill="#e0ad48"/>
<text x="202.2" y="355.4" font-size="6.9" font-weight="bold" font-family="'Liberation Serif','Times New Roman',serif" fill="#e0ad48">V<tspan font-size="4.5" dy="0.4">read</tspan><tspan dy="-0.4"> @ 0.2 V</tspan></text>
<path d="M193.9,361 L198.9,361 L196.4,364.9Z" fill="#aa5024"/>
<text x="202.2" y="365.4" font-size="6.9" font-weight="bold" font-family="'Liberation Serif','Times New Roman',serif" fill="#aa5024">V<tspan font-size="4.5" dy="0.4">read</tspan><tspan dy="-0.4"> @ 0.1 V</tspan></text>
<text x="27.6" y="495.2" font-size="9.3" text-anchor="middle" font-family="'Liberation Serif','Times New Roman',serif" fill="#222" stroke="#222" stroke-width="0.22">0</text>
<text x="63.3" y="495.2" font-size="9.3" text-anchor="middle" font-family="'Liberation Serif','Times New Roman',serif" fill="#222" stroke="#222" stroke-width="0.22">5</text>
<text x="99" y="495.2" font-size="9.3" text-anchor="middle" font-family="'Liberation Serif','Times New Roman',serif" fill="#222" stroke="#222" stroke-width="0.22">10</text>
<text x="134.7" y="495.2" font-size="9.3" text-anchor="middle" font-family="'Liberation Serif','Times New Roman',serif" fill="#222" stroke="#222" stroke-width="0.22">15</text>
<text x="170.3" y="495.2" font-size="9.3" text-anchor="middle" font-family="'Liberation Serif','Times New Roman',serif" fill="#222" stroke="#222" stroke-width="0.22">20</text>
<text x="206" y="495.2" font-size="9.3" text-anchor="middle" font-family="'Liberation Serif','Times New Roman',serif" fill="#222" stroke="#222" stroke-width="0.22">25</text>
<text x="241.7" y="495.2" font-size="9.3" text-anchor="middle" font-family="'Liberation Serif','Times New Roman',serif" fill="#222" stroke="#222" stroke-width="0.22">30</text>
<text x="24" y="286" font-size="9.3" text-anchor="end" font-family="'Liberation Serif','Times New Roman',serif" fill="#222" stroke="#222" stroke-width="0.22">2</text>
<text x="24" y="317.6" font-size="9.3" text-anchor="end" font-family="'Liberation Serif','Times New Roman',serif" fill="#222" stroke="#222" stroke-width="0.22">-2</text>
<text x="13.4" y="346.4" font-size="9.3" font-family="'Liberation Serif','Times New Roman',serif" fill="#222" stroke="#222" stroke-width="0.22">10<tspan font-size="5.6" dy="-4.6">-3</tspan></text>
<text x="13.0" y="462.8" font-size="9.3" font-family="'Liberation Serif','Times New Roman',serif" fill="#222" stroke="#222" stroke-width="0.22">10<tspan font-size="5.6" dy="-4.6">-4</tspan></text>
<text x="147.4" y="506.8" font-size="13.1" text-anchor="middle" font-family="'Liberation Serif','Times New Roman',serif" fill="#111" stroke="#111" stroke-width="0.32">Pulse number (#)</text>
<text transform="translate(10.3,298.7) rotate(-90)" font-size="13.2" text-anchor="middle" font-family="'Liberation Serif','Times New Roman',serif" fill="#111" stroke="#111" stroke-width="0.32">V<tspan font-size="8.2" dy="1.8">write</tspan><tspan dy="-1.8"> (V)</tspan></text>
<text transform="translate(10.4,378.4) rotate(-90)" font-size="13" text-anchor="middle" font-family="'Liberation Serif','Times New Roman',serif" fill="#111" stroke="#111" stroke-width="0.32"><tspan font-style="italic">g</tspan><tspan font-size="8.2" font-style="italic" dy="1.8">diff</tspan><tspan dy="-1.8"> (mS)</tspan></text>
<text x="274.4" y="264" font-size="11" text-anchor="start" font-family="'Liberation Sans',Arial,sans-serif" >d</text>
<path d="M287.5,293.4 288.2,292.5 288.9,294.1 289.6,293.1 290.3,293.9 291.1,292.6 291.8,293.4 292.5,294.1 293.2,293.2 293.9,293 294.6,294 295.3,293.2 296,294.5 296.7,291.5 297.5,294.3 298.2,294.6 298.9,292.8 299.6,292.8 300.3,294.4 301,292.5 301.7,292.5 302.4,293.6 303.1,293 303.9,293.9 304.6,292.8 305.3,293.8 306,294.5 306.7,293.8 307.4,291.7 308.1,294 308.8,293.6 309.6,292.6 310.3,294.5 311,292.2 311.7,295.1 312.4,292.8 313.1,294.9 313.8,293.5 314.5,291.9 315.2,293 316,293.4 316.7,293.5 317.4,294.1 318.1,292.9 318.8,294.1 319.5,294 320.2,293 320.9,292.3 321.6,292.3 322.4,293.6 323.1,293.8 323.8,292.7 324.5,292 325.2,293.7 325.9,291.6 326.6,293.1 327.3,292.2 328,291.4 328.8,293.1 329.5,292.7 330.2,294.1 330.9,294.8 331.6,293.1 332.3,294.2 333,294.3 333.7,293.1 334.4,292.9 335.2,294.9 335.9,293.4 336.6,293.7 337.3,293.5 338,293.5 338.7,293 339.4,293.9 340.1,294.3 340.8,292.8 341.6,292 342.3,293.4 343,292.1 343.7,292.9 344.4,294.3 345.1,295.1 345.8,293.6 346.5,292.6 347.2,294.1 348,291.8 348.7,292.9 349.4,294.5 350.1,293.6 350.8,291.8 351.5,291.7 352.2,293.7 352.9,293.2 353.7,292.8 354.4,293.8 355.1,292.7 355.8,291.8 356.5,293.6 357.2,292.6 357.9,292.3 358.6,292.1 359.3,293.4 360.1,292.9 360.8,293.9 361.5,293.4 362.2,294.5 362.9,293.3 363.6,293.1 364.3,291.9 365,292.4 365.7,293.6 366.5,295.4 367.2,291.7 367.9,292.6 368.6,293.8 369.3,294.4 370,293.6 370.7,294.2 371.4,292.5 372.1,293.7 372.9,294.4 373.6,294.9 374.3,293.6 375,293.3 375.7,293.5 376.4,294.1 377.1,293.6 377.8,292.5 378.5,293.5 379.3,294.1 380,292.7 380.7,292.2 381.4,293.8 382.1,293.7 382.8,294 383.5,293.2 384.2,292.6 384.9,292.6 385.7,292.1 386.4,292.3 387.1,292.6 387.8,292.7 388.5,294.1 389.2,292.1 389.9,293 390.6,292.7 391.3,294.6 392.1,293.5 392.8,293.1 393.5,294 394.2,293.6 394.9,292.8 395.6,294.3 396.3,293.8 397,294.5 397.8,294 398.5,293.5 399.2,293.2 399.9,292 400.6,293.7 401.3,293.3 402,293.8 402.7,293.5 403.4,292.9 404.2,292.6 404.9,293.9 405.6,294.5 406.3,293.1 407,293.7 407.7,294.5 408.4,292.7 409.1,292.9 409.8,292.6 410.6,294.4 411.3,293.7 412,293.2 412.7,292.4 413.4,293.2 414.1,294.4 414.8,293.2 415.5,293 416.2,293.7 417,292.7 417.7,293.6 418.4,293.9 419.1,292.9 419.8,293 420.5,293.4 421.2,293 421.9,293 422.6,293.7 423.4,293.5 424.1,292.9 424.8,293.1 425.5,293.9 426.2,294.3 426.9,294.6 427.6,292.5 428.3,294.2 429,294.1 429.8,293.3 430.5,293.6 431.2,294.1 431.9,294.8 432.6,292.4 433.3,293.7 434,293 434.7,292.8 435.4,293.9 436.2,293.5 436.9,292.2 437.6,292.8 438.3,293.2 439,292 439.7,294.2 440.4,293.7 441.1,293.7 441.9,294.1 442.6,295.2 443.3,293.6 444,293 444.7,294.8 445.4,293.1 446.1,293.1 446.8,292.4 447.5,294.3 448.3,293.6 449,293.7 449.7,293.6 450.4,293.3 451.1,292.9 451.8,292.9 452.5,293.7 453.2,293.2 453.9,294.6 454.7,292.6 455.4,292.7 456.1,292.5 456.8,294.4 457.5,292.3 458.2,294 458.9,294.6 459.6,293.3 460.3,293.9 461.1,291.4 461.8,292.9 462.5,292 463.2,293.3 463.9,293.3 464.6,292.9 465.3,294.2 466,293.6 466.7,293 467.5,293 468.2,292.2 468.9,293.2 469.6,294.9 470.3,292.8 471,293.6 471.7,292.8 472.4,294.1 473.1,294.1 473.9,293.3 474.6,292.2 475.3,293.1 476,294.5 476.7,293.3 477.4,294 478.1,293 478.8,292 479.5,293.7 480.3,293.4 481,292.8 481.7,292.8 482.4,293.4 483.1,292.8 483.8,293.5 484.5,293 485.2,291.7 486,293.5 486.7,293.1 487.4,292.9 488.1,293.9 488.8,293 489.5,293.6 490.2,294.1 490.9,293.5 491.6,292.3 492.4,292.8 493.1,294.1 493.8,292.9 494.5,292.5 495.2,293 495.9,293.5 496.6,293.5 497.3,293.9 498,292.9 498.8,293.3 499.5,293.4 500.2,293.5" fill="none" stroke="#5c5f4a" stroke-width="1.05" stroke-linejoin="round"/>
<text x="506.2" y="290.7" font-size="6.9" font-weight="bold" text-anchor="end" font-family="'Liberation Serif','Times New Roman',serif" fill="#7c7c7c">V<tspan font-size="4.5" dy="0.4">read</tspan><tspan dy="-0.4"> @ 1.0 V</tspan></text>
<path d="M287.5,314.3 288.2,314.8 288.9,315.8 289.6,314.6 290.3,315.2 291.1,314.8 291.8,315.4 292.5,315.2 293.2,314.3 293.9,314.7 294.6,315.7 295.3,316 296,315.9 296.7,315.9 297.5,315.1 298.2,314.8 298.9,315.5 299.6,314.1 300.3,314.8 301,313.4 301.7,314.6 302.4,314.3 303.1,313.9 303.9,315.1 304.6,314.4 305.3,314.4 306,314.8 306.7,314.5 307.4,316 308.1,314.7 308.8,315.2 309.6,314 310.3,314.7 311,314.9 311.7,314.9 312.4,314.9 313.1,315.4 313.8,316.3 314.5,315.1 315.2,315.1 316,314.9 316.7,316.8 317.4,316.2 318.1,315.3 318.8,315.6 319.5,314.7 320.2,315.3 320.9,315.4 321.6,315.4 322.4,314.7 323.1,314.4 323.8,315.2 324.5,315.1 325.2,313.5 325.9,314.8 326.6,315.8 327.3,314.6 328,315.2 328.8,313.9 329.5,315.8 330.2,314.3 330.9,314.2 331.6,315 332.3,316.8 333,314.6 333.7,314.3 334.4,315.5 335.2,315.1 335.9,316.2 336.6,314.1 337.3,313.8 338,314.7 338.7,315.2 339.4,315.1 340.1,315.7 340.8,313.9 341.6,314.4 342.3,314.9 343,315.7 343.7,315.3 344.4,314.4 345.1,314.1 345.8,315.5 346.5,315.4 347.2,316.7 348,315 348.7,316.3 349.4,314.3 350.1,315 350.8,315 351.5,315.1 352.2,314.8 352.9,314.9 353.7,315.3 354.4,315 355.1,315.9 355.8,315.3 356.5,315.5 357.2,316.3 357.9,315.4 358.6,315 359.3,314.8 360.1,314.8 360.8,315.2 361.5,314.3 362.2,315.7 362.9,316.2 363.6,315.9 364.3,314.9 365,314.1 365.7,315.1 366.5,315.5 367.2,315.9 367.9,315.1 368.6,314.9 369.3,316.3 370,314.7 370.7,315.8 371.4,315.9 372.1,314.4 372.9,315.5 373.6,314.7 374.3,314.4 375,313.7 375.7,313.9 376.4,315.2 377.1,315.1 377.8,315.6 378.5,314.6 379.3,315.1 380,315 380.7,313.9 381.4,313.7 382.1,314.9 382.8,314.9 383.5,314.2 384.2,314.9 384.9,315.6 385.7,316.7 386.4,314.7 387.1,315.8 387.8,316.6 388.5,315.3 389.2,316.2 389.9,313.3 390.6,316.3 391.3,315.4 392.1,314.2 392.8,316.1 393.5,316.3 394.2,316.2 394.9,316.2 395.6,315.1 396.3,314.5 397,314.7 397.8,314.8 398.5,315 399.2,314.6 399.9,315 400.6,315.4 401.3,315.1 402,316.5 402.7,316.3 403.4,314.1 404.2,314.6 404.9,314.4 405.6,314.4 406.3,315.4 407,314.4 407.7,314.4 408.4,314.7 409.1,315.3 409.8,314.9 410.6,314.8 411.3,315.7 412,315.2 412.7,315.4 413.4,315.7 414.1,314.4 414.8,315.3 415.5,314.7 416.2,315.8 417,315.6 417.7,314.2 418.4,315.8 419.1,314.2 419.8,315.7 420.5,315.2 421.2,314.3 421.9,314.2 422.6,314.8 423.4,314.9 424.1,314.5 424.8,315.4 425.5,313.9 426.2,314.8 426.9,315 427.6,313.7 428.3,315.3 429,314.5 429.8,313.6 430.5,314.7 431.2,315 431.9,315.8 432.6,314.9 433.3,316.3 434,316.5 434.7,316.1 435.4,316.2 436.2,315.5 436.9,314.8 437.6,315.5 438.3,315.7 439,315.2 439.7,314.9 440.4,313.7 441.1,315.3 441.9,314.9 442.6,313.9 443.3,315 444,315.7 444.7,315.1 445.4,315.8 446.1,315.6 446.8,314 447.5,314.6 448.3,315.3 449,315.7 449.7,316.2 450.4,313.8 451.1,314.9 451.8,315.4 452.5,315.6 453.2,316 453.9,314.4 454.7,315.2 455.4,314.7 456.1,316.2 456.8,314.9 457.5,316.4 458.2,316.1 458.9,315.9 459.6,313.9 460.3,314.7 461.1,315.6 461.8,314.1 462.5,314.8 463.2,315 463.9,315.7 464.6,315.5 465.3,315.6 466,315 466.7,315.4 467.5,315.3 468.2,315.8 468.9,315.1 469.6,316.1 470.3,314.2 471,316.2 471.7,315.1 472.4,316 473.1,315.3 473.9,315.8 474.6,316.2 475.3,314.8 476,315.1 476.7,315 477.4,315.2 478.1,314.1 478.8,315 479.5,315.4 480.3,314.9 481,315.3 481.7,314.2 482.4,316.5 483.1,315.5 483.8,316.6 484.5,314.6 485.2,314.5 486,315.3 486.7,314.1 487.4,315.3 488.1,314.6 488.8,314.9 489.5,315.2 490.2,314.9 490.9,316.3 491.6,315.3 492.4,314 493.1,315.7 493.8,314.1 494.5,315 495.2,314.3 495.9,314.5 496.6,316 497.3,314.9 498,314.8 498.8,314.8 499.5,315.1 500.2,316.3" fill="none" stroke="#e9c62a" stroke-width="1.05" stroke-linejoin="round"/>
<text x="506.2" y="312.5" font-size="6.9" font-weight="bold" text-anchor="end" font-family="'Liberation Serif','Times New Roman',serif" fill="#e3c43c">V<tspan font-size="4.5" dy="0.4">read</tspan><tspan dy="-0.4"> @ 0.9 V</tspan></text>
<path d="M287.5,333.3 288.2,332.7 288.9,333 289.6,333.8 290.3,333.4 291.1,333.1 291.8,334.3 292.5,332.6 293.2,332.6 293.9,332.6 294.6,334.4 295.3,331 296,333.3 296.7,333.5 297.5,333.2 298.2,335.6 298.9,334.4 299.6,334.1 300.3,332.7 301,334.1 301.7,333.3 302.4,333.6 303.1,333.8 303.9,333.1 304.6,334 305.3,334.7 306,334.1 306.7,332.9 307.4,331 308.1,333.9 308.8,334.1 309.6,333 310.3,333.4 311,334.4 311.7,332.8 312.4,334.4 313.1,332.5 313.8,332 314.5,332.8 315.2,331.9 316,333.6 316.7,334.2 317.4,332.7 318.1,334.8 318.8,333.2 319.5,333.8 320.2,333.2 320.9,332.9 321.6,332.9 322.4,331.9 323.1,333.1 323.8,333.5 324.5,335.4 325.2,334.8 325.9,332.6 326.6,334.7 327.3,333.9 328,333.6 328.8,334.2 329.5,334 330.2,332.7 330.9,333.2 331.6,333.7 332.3,332.5 333,333.9 333.7,333.7 334.4,332.9 335.2,332.2 335.9,333.6 336.6,334.2 337.3,333.6 338,332.3 338.7,334 339.4,333.4 340.1,333.8 340.8,334.4 341.6,332.6 342.3,333.6 343,333 343.7,332.5 344.4,335 345.1,334.1 345.8,331.5 346.5,333.7 347.2,333 348,334.6 348.7,333.8 349.4,333.5 350.1,333.7 350.8,334 351.5,334 352.2,333.1 352.9,333.5 353.7,334.2 354.4,332.8 355.1,333.3 355.8,333.4 356.5,332.9 357.2,333.8 357.9,331.9 358.6,333 359.3,332.8 360.1,334.2 360.8,333.1 361.5,333.2 362.2,333.6 362.9,331.6 363.6,333.5 364.3,332.6 365,333.4 365.7,333.3 366.5,333.7 367.2,333.5 367.9,334.5 368.6,332.8 369.3,332.3 370,332.8 370.7,334.2 371.4,335 372.1,333.8 372.9,333 373.6,334 374.3,333.7 375,333.6 375.7,333.1 376.4,331.8 377.1,333.2 377.8,334.8 378.5,334.1 379.3,331.7 380,333.8 380.7,332.1 381.4,335.5 382.1,333.6 382.8,332.4 383.5,334 384.2,332.7 384.9,333.8 385.7,333.3 386.4,332 387.1,333.8 387.8,331.9 388.5,334.6 389.2,333.3 389.9,332.1 390.6,331.5 391.3,334.6 392.1,334.4 392.8,331.8 393.5,335 394.2,333.3 394.9,333.1 395.6,333.5 396.3,333.7 397,335.3 397.8,334.3 398.5,332.2 399.2,335.9 399.9,334.7 400.6,332.8 401.3,333.5 402,333.2 402.7,333.8 403.4,334.1 404.2,334 404.9,333 405.6,332.9 406.3,334.6 407,333.7 407.7,335.7 408.4,333.2 409.1,334.7 409.8,334.1 410.6,333 411.3,335 412,333.7 412.7,332.5 413.4,333 414.1,334.2 414.8,332.1 415.5,334.8 416.2,334.3 417,333.4 417.7,335.2 418.4,335.5 419.1,334 419.8,333.8 420.5,335.2 421.2,334.9 421.9,332.6 422.6,333.6 423.4,333.5 424.1,333.4 424.8,332.5 425.5,334.8 426.2,334 426.9,334 427.6,335.2 428.3,333.1 429,333.7 429.8,334 430.5,333.3 431.2,333.6 431.9,334.6 432.6,333.6 433.3,334.7 434,333 434.7,333.7 435.4,331.8 436.2,333.3 436.9,332.6 437.6,334.6 438.3,334.1 439,334.1 439.7,335.2 440.4,335 441.1,334 441.9,332.5 442.6,331.8 443.3,333.1 444,332.9 444.7,332.6 445.4,333 446.1,331.7 446.8,334.5 447.5,332.1 448.3,332.4 449,333.8 449.7,331.6 450.4,334.2 451.1,334.4 451.8,333.2 452.5,332 453.2,333 453.9,331.7 454.7,334.4 455.4,333.4 456.1,332.7 456.8,332.4 457.5,334 458.2,334.9 458.9,332.3 459.6,333.3 460.3,332.4 461.1,334.4 461.8,334 462.5,335.9 463.2,333.4 463.9,332.7 464.6,332.5 465.3,333.6 466,331.1 466.7,333.3 467.5,332.9 468.2,332.5 468.9,332.3 469.6,334.4 470.3,335.4 471,333.3 471.7,334 472.4,335.2 473.1,333.3 473.9,333.5 474.6,332.4 475.3,333.2 476,333.3 476.7,332.7 477.4,332.7 478.1,331.9 478.8,332.5 479.5,332.9 480.3,334.8 481,333.2 481.7,333.2 482.4,334.5 483.1,334.2 483.8,332.7 484.5,332.9 485.2,333.9 486,333.3 486.7,332.2 487.4,333.3 488.1,332.9 488.8,334.1 489.5,332.9 490.2,334.5 490.9,334 491.6,333 492.4,334.9 493.1,334.4 493.8,332.1 494.5,335.3 495.2,332.2 495.9,332.6 496.6,333.1 497.3,334.2 498,334.1 498.8,333.2 499.5,334.6 500.2,333.7" fill="none" stroke="#8391a6" stroke-width="1.05" stroke-linejoin="round"/>
<text x="506.2" y="330.7" font-size="6.9" font-weight="bold" text-anchor="end" font-family="'Liberation Serif','Times New Roman',serif" fill="#8a8a8a">V<tspan font-size="4.5" dy="0.4">read</tspan><tspan dy="-0.4"> @ 0.8 V</tspan></text>
<path d="M287.5,351.8 288.2,351.4 288.9,351.2 289.6,352 290.3,351.3 291.1,352.6 291.8,352.2 292.5,351.7 293.2,351.8 293.9,351.8 294.6,351.7 295.3,351.7 296,351.6 296.7,351.2 297.5,352.9 298.2,352.4 298.9,351.9 299.6,352.6 300.3,352.1 301,351.8 301.7,352.1 302.4,354 303.1,352.4 303.9,352.5 304.6,351.3 305.3,352.1 306,353.1 306.7,351.9 307.4,352.5 308.1,352.5 308.8,352.1 309.6,353.2 310.3,352 311,351.9 311.7,351.4 312.4,353.8 313.1,352 313.8,351.9 314.5,353 315.2,351.5 316,351.8 316.7,351.2 317.4,351.7 318.1,351.3 318.8,351.8 319.5,351.5 320.2,350.8 320.9,351.1 321.6,351.5 322.4,351.3 323.1,352.6 323.8,352.8 324.5,352.6 325.2,351.5 325.9,352.6 326.6,350.9 327.3,351.8 328,351.6 328.8,350.8 329.5,350.8 330.2,350.9 330.9,353.1 331.6,351.4 332.3,351.6 333,352.6 333.7,352.3 334.4,352.6 335.2,350.7 335.9,350.7 336.6,354.2 337.3,351.7 338,351.6 338.7,352 339.4,352.9 340.1,351.4 340.8,352.4 341.6,352 342.3,352.4 343,352 343.7,351.4 344.4,351.2 345.1,350.2 345.8,353 346.5,350.8 347.2,351.5 348,352.8 348.7,351 349.4,351.6 350.1,351.2 350.8,351.9 351.5,351.4 352.2,351.1 352.9,352.8 353.7,351.4 354.4,350.6 355.1,351.7 355.8,352.2 356.5,351 357.2,352.6 357.9,352.7 358.6,353.7 359.3,351.6 360.1,352.5 360.8,350.8 361.5,351.7 362.2,352 362.9,352.2 363.6,351.7 364.3,351.5 365,351.1 365.7,351.3 366.5,352 367.2,352.2 367.9,352.4 368.6,352.8 369.3,353.1 370,350.7 370.7,351.7 371.4,352 372.1,351.4 372.9,352.5 373.6,352.3 374.3,351.4 375,351.4 375.7,352.3 376.4,351.2 377.1,351.2 377.8,352.3 378.5,352.2 379.3,353 380,351.9 380.7,352.3 381.4,351.2 382.1,350.7 382.8,351.4 383.5,349.5 384.2,351.6 384.9,352.1 385.7,351.7 386.4,351.4 387.1,352.5 387.8,351.9 388.5,352.4 389.2,353.3 389.9,352.1 390.6,352.5 391.3,352.4 392.1,352.3 392.8,352.3 393.5,352.3 394.2,352.8 394.9,350.5 395.6,351.5 396.3,352.4 397,351.4 397.8,351.7 398.5,351.1 399.2,352 399.9,352.1 400.6,352.5 401.3,351.9 402,351 402.7,351.9 403.4,352.2 404.2,352.8 404.9,350 405.6,352.2 406.3,350.5 407,352.2 407.7,352 408.4,352 409.1,352.3 409.8,352 410.6,351.2 411.3,352 412,352.9 412.7,351.6 413.4,351.6 414.1,351 414.8,352.6 415.5,351.1 416.2,351 417,351.3 417.7,350.5 418.4,350.9 419.1,352.1 419.8,351.9 420.5,352.4 421.2,352.8 421.9,351.3 422.6,352.5 423.4,353.3 424.1,353.8 424.8,350.9 425.5,351.1 426.2,352.8 426.9,352.1 427.6,351.8 428.3,353 429,351.7 429.8,350.6 430.5,352.1 431.2,352.1 431.9,352.7 432.6,352.7 433.3,351.9 434,351.5 434.7,351.1 435.4,350.1 436.2,351.2 436.9,352.3 437.6,352.1 438.3,353.2 439,351.4 439.7,350.2 440.4,352 441.1,352.3 441.9,350.5 442.6,350.4 443.3,351.7 444,352.3 444.7,350.9 445.4,351.7 446.1,351 446.8,350.8 447.5,350.4 448.3,351.4 449,351 449.7,350.8 450.4,349.3 451.1,352.9 451.8,351.1 452.5,351.7 453.2,351.3 453.9,352.6 454.7,351.2 455.4,352 456.1,352 456.8,352.6 457.5,350.9 458.2,351.3 458.9,351.6 459.6,353.2 460.3,350.4 461.1,351.5 461.8,350.8 462.5,351.9 463.2,352.4 463.9,352.1 464.6,352.4 465.3,352.5 466,351.8 466.7,351.9 467.5,350.7 468.2,351.7 468.9,351.4 469.6,352 470.3,352.6 471,352.2 471.7,352.4 472.4,352.7 473.1,349.8 473.9,352.1 474.6,352 475.3,351.7 476,350.6 476.7,352 477.4,352.1 478.1,352.1 478.8,351.2 479.5,352 480.3,352 481,352.8 481.7,352.3 482.4,351.7 483.1,351.8 483.8,352 484.5,352 485.2,351.7 486,352.7 486.7,351.5 487.4,351.5 488.1,352.7 488.8,351.8 489.5,352.1 490.2,350.7 490.9,352.8 491.6,351.9 492.4,351.7 493.1,352.1 493.8,351.8 494.5,351.2 495.2,353.4 495.9,351.4 496.6,352.3 497.3,353.1 498,351.2 498.8,351.7 499.5,351 500.2,352.7" fill="none" stroke="#bd1330" stroke-width="1.05" stroke-linejoin="round"/>
<text x="506.2" y="349.1" font-size="6.9" font-weight="bold" text-anchor="end" font-family="'Liberation Serif','Times New Roman',serif" fill="#a51030">V<tspan font-size="4.5" dy="0.4">read</tspan><tspan dy="-0.4"> @ 0.7 V</tspan></text>
<path d="M287.5,368.9 288.2,369 288.9,368.8 289.6,367.8 290.3,368 291.1,368.4 291.8,369.5 292.5,368 293.2,368.3 293.9,367.8 294.6,368.1 295.3,368.7 296,367.3 296.7,366.8 297.5,368.9 298.2,368.7 298.9,368.3 299.6,369.2 300.3,369.2 301,367.5 301.7,368.4 302.4,369.2 303.1,368.2 303.9,368.4 304.6,369.1 305.3,368.5 306,367.8 306.7,368 307.4,367.4 308.1,368.5 308.8,367.2 309.6,369.1 310.3,367.7 311,369 311.7,368 312.4,368.6 313.1,369.1 313.8,369.1 314.5,369.1 315.2,368.3 316,368.6 316.7,368.8 317.4,369.1 318.1,368.6 318.8,369.3 319.5,368.6 320.2,369 320.9,368.5 321.6,368.5 322.4,367.7 323.1,368.1 323.8,367.6 324.5,368.4 325.2,368.4 325.9,369.1 326.6,367.7 327.3,370.4 328,368.4 328.8,369.2 329.5,368.9 330.2,366.9 330.9,368.2 331.6,369.3 332.3,367.1 333,369.2 333.7,368.1 334.4,368.5 335.2,368.9 335.9,367.5 336.6,368.7 337.3,368.3 338,368.2 338.7,369 339.4,370.8 340.1,368.8 340.8,368.8 341.6,368.3 342.3,368 343,368.5 343.7,369.3 344.4,368.5 345.1,369 345.8,368.2 346.5,370.2 347.2,367.6 348,368.9 348.7,369 349.4,369 350.1,367.7 350.8,367.8 351.5,368.5 352.2,368.5 352.9,367.7 353.7,367.9 354.4,368.8 355.1,369 355.8,368.1 356.5,367.8 357.2,368 357.9,370 358.6,368.8 359.3,368.6 360.1,369.3 360.8,370 361.5,369.4 362.2,367.9 362.9,368.6 363.6,368.5 364.3,368.4 365,367.9 365.7,368.5 366.5,368 367.2,368.8 367.9,368.6 368.6,367.8 369.3,367.5 370,368.4 370.7,369 371.4,368.9 372.1,368.5 372.9,366.5 373.6,368.1 374.3,367.9 375,368.2 375.7,367.7 376.4,368.1 377.1,367.9 377.8,370.2 378.5,369 379.3,368.5 380,368.7 380.7,368.6 381.4,368.5 382.1,368.2 382.8,368.5 383.5,369.2 384.2,369.1 384.9,368.9 385.7,369.6 386.4,368.7 387.1,368 387.8,367.5 388.5,367.9 389.2,368.4 389.9,368.6 390.6,369 391.3,367.9 392.1,367.9 392.8,368.8 393.5,369.1 394.2,367.9 394.9,368.5 395.6,369.1 396.3,368.4 397,368.2 397.8,367.3 398.5,369.3 399.2,368.9 399.9,368.6 400.6,368.3 401.3,367.8 402,368.7 402.7,368.8 403.4,369.7 404.2,368.4 404.9,369.8 405.6,368.8 406.3,369.4 407,368 407.7,368.8 408.4,369.4 409.1,368.8 409.8,367.7 410.6,368.5 411.3,368.9 412,367.7 412.7,367.4 413.4,368.6 414.1,367.9 414.8,368.8 415.5,367.6 416.2,367.3 417,368 417.7,369.3 418.4,367.9 419.1,368.6 419.8,368.8 420.5,368 421.2,369.3 421.9,368.8 422.6,369 423.4,367.6 424.1,367.6 424.8,366.9 425.5,368.4 426.2,368.3 426.9,368.9 427.6,369.4 428.3,368.4 429,368.4 429.8,368.7 430.5,369.4 431.2,368.1 431.9,368.9 432.6,368.4 433.3,368.4 434,369 434.7,368.1 435.4,368 436.2,369.1 436.9,368.7 437.6,368.4 438.3,368.4 439,368.8 439.7,368.3 440.4,369.2 441.1,369.2 441.9,369.9 442.6,369.6 443.3,369.4 444,368.7 444.7,368.9 445.4,368.5 446.1,370.7 446.8,368.9 447.5,369.2 448.3,369.6 449,368 449.7,368.2 450.4,368.3 451.1,368 451.8,367.8 452.5,368.2 453.2,369.4 453.9,369.1 454.7,368.7 455.4,368.8 456.1,367.7 456.8,369 457.5,368.8 458.2,368 458.9,368.8 459.6,368.5 460.3,368.4 461.1,368.3 461.8,368.3 462.5,368 463.2,368.8 463.9,368.6 464.6,368.6 465.3,368.4 466,368.3 466.7,369.9 467.5,367.6 468.2,369.4 468.9,368.9 469.6,368.9 470.3,368.4 471,368.7 471.7,368.2 472.4,368 473.1,368.8 473.9,367.8 474.6,369 475.3,369.1 476,366.4 476.7,367.3 477.4,368.7 478.1,368.9 478.8,368.6 479.5,368.8 480.3,369.1 481,369.2 481.7,369.6 482.4,368.6 483.1,369.2 483.8,367.4 484.5,368.2 485.2,367.5 486,369 486.7,369.8 487.4,368.9 488.1,367.9 488.8,368.8 489.5,369 490.2,369 490.9,369.4 491.6,369.2 492.4,367.1 493.1,369.4 493.8,368.1 494.5,368.3 495.2,369.7 495.9,368.5 496.6,367.9 497.3,368 498,368.7 498.8,369 499.5,369.4 500.2,368.5" fill="none" stroke="#6eaae0" stroke-width="1.05" stroke-linejoin="round"/>
<text x="506.2" y="365.9" font-size="6.9" font-weight="bold" text-anchor="end" font-family="'Liberation Serif','Times New Roman',serif" fill="#94b4d6">V<tspan font-size="4.5" dy="0.4">read</tspan><tspan dy="-0.4"> @ 0.6 V</tspan></text>
<path d="M287.5,386.4 288.2,386.5 288.9,386.3 289.6,387.9 290.3,387.1 291.1,386.9 291.8,386.7 292.5,388 293.2,386.8 293.9,385.7 294.6,386.3 295.3,386.3 296,385.9 296.7,386.5 297.5,386.1 298.2,386 298.9,385.7 299.6,386.6 300.3,385.3 301,386.8 301.7,386.2 302.4,386.3 303.1,384.4 303.9,386.7 304.6,384.7 305.3,385.4 306,386.3 306.7,385.5 307.4,385.5 308.1,384.4 308.8,385.6 309.6,386 310.3,386.3 311,385.8 311.7,386.2 312.4,386.3 313.1,385.7 313.8,385.9 314.5,387.6 315.2,385.7 316,387.1 316.7,386.3 317.4,387.1 318.1,385.6 318.8,386.3 319.5,386 320.2,385.7 320.9,386.1 321.6,385.5 322.4,386.3 323.1,386.2 323.8,386.7 324.5,386.2 325.2,385.2 325.9,385.5 326.6,385.5 327.3,385.1 328,386.6 328.8,386.1 329.5,386.4 330.2,385.7 330.9,386 331.6,387 332.3,385.4 333,386.8 333.7,386.4 334.4,386.1 335.2,386.5 335.9,385.7 336.6,386.3 337.3,385.6 338,385.5 338.7,387.1 339.4,385.9 340.1,385 340.8,386.7 341.6,385.5 342.3,383.7 343,385.9 343.7,386.5 344.4,386.1 345.1,387.1 345.8,386 346.5,386.6 347.2,385.6 348,386.5 348.7,387.4 349.4,386.8 350.1,386.5 350.8,385.1 351.5,385.9 352.2,385.2 352.9,386.6 353.7,385.6 354.4,386.3 355.1,385.4 355.8,387.4 356.5,385.3 357.2,386.2 357.9,387.8 358.6,386.4 359.3,385.6 360.1,386.5 360.8,386.5 361.5,386.4 362.2,384.3 362.9,385.8 363.6,384.6 364.3,387.1 365,385.9 365.7,385.7 366.5,386.5 367.2,386.2 367.9,385.4 368.6,387.4 369.3,386.2 370,385.3 370.7,387.3 371.4,387.3 372.1,387 372.9,386.5 373.6,385.3 374.3,386.4 375,387.1 375.7,386.4 376.4,386.9 377.1,385.5 377.8,386.5 378.5,386.5 379.3,385 380,385 380.7,385.7 381.4,386.4 382.1,386.8 382.8,386.1 383.5,386.1 384.2,385.9 384.9,385.8 385.7,386 386.4,386.3 387.1,385.7 387.8,386 388.5,385.8 389.2,386.7 389.9,385.6 390.6,387.1 391.3,386 392.1,386.1 392.8,385.4 393.5,385.8 394.2,386.1 394.9,386.2 395.6,385.6 396.3,385.2 397,386 397.8,386 398.5,386.1 399.2,386.6 399.9,385.6 400.6,384.4 401.3,385.8 402,384.9 402.7,385.4 403.4,386.8 404.2,386.6 404.9,385.8 405.6,385.5 406.3,386 407,385 407.7,386.5 408.4,385.8 409.1,387.4 409.8,385.7 410.6,387 411.3,385.7 412,387 412.7,385.6 413.4,386.5 414.1,385.6 414.8,385.6 415.5,386 416.2,386.4 417,386.3 417.7,387.1 418.4,386.6 419.1,384.4 419.8,385.9 420.5,384.8 421.2,385.8 421.9,386.4 422.6,385.3 423.4,385.2 424.1,386.3 424.8,385.9 425.5,387.1 426.2,386.3 426.9,386.5 427.6,387.1 428.3,385.7 429,386.1 429.8,385.2 430.5,386 431.2,386.6 431.9,386.9 432.6,386.2 433.3,386 434,386 434.7,385.5 435.4,386.5 436.2,387.1 436.9,384.5 437.6,384.7 438.3,387 439,385 439.7,386.3 440.4,385.2 441.1,386.6 441.9,386.6 442.6,386.2 443.3,386.6 444,386 444.7,386 445.4,386.8 446.1,386.4 446.8,385.4 447.5,385.6 448.3,386.1 449,386 449.7,386.1 450.4,385.5 451.1,386.4 451.8,386.1 452.5,386.8 453.2,386.6 453.9,387.1 454.7,385.7 455.4,387.4 456.1,386.2 456.8,386.3 457.5,386.2 458.2,386.6 458.9,386.3 459.6,386.1 460.3,385.7 461.1,384.9 461.8,386.1 462.5,385.7 463.2,385.9 463.9,387.6 464.6,385 465.3,386.4 466,387 466.7,386.6 467.5,386.8 468.2,385.2 468.9,385.2 469.6,386.5 470.3,385.9 471,387.3 471.7,386.1 472.4,386.2 473.1,386 473.9,385.4 474.6,385.8 475.3,385.4 476,385.7 476.7,385.9 477.4,386.7 478.1,385.5 478.8,385.4 479.5,386.8 480.3,386.5 481,385.5 481.7,385.9 482.4,385.4 483.1,387.5 483.8,385.2 484.5,387.4 485.2,385.7 486,386.5 486.7,386 487.4,385.8 488.1,386.7 488.8,386.7 489.5,386 490.2,385.7 490.9,387.7 491.6,387.2 492.4,386.1 493.1,385.9 493.8,386.1 494.5,385.9 495.2,386.7 495.9,385.3 496.6,385.8 497.3,385.1 498,386.4 498.8,386.7 499.5,385.6 500.2,386" fill="none" stroke="#54a034" stroke-width="1.05" stroke-linejoin="round"/>
<text x="506.2" y="383.3" font-size="6.9" font-weight="bold" text-anchor="end" font-family="'Liberation Serif','Times New Roman',serif" fill="#6a9c40">V<tspan font-size="4.5" dy="0.4">read</tspan><tspan dy="-0.4"> @ 0.5 V</tspan></text>
<path d="M287.5,407.6 288.2,406.7 288.9,406.4 289.6,406.4 290.3,406.8 291.1,405.7 291.8,405.9 292.5,405.6 293.2,407.8 293.9,406.4 294.6,405.3 295.3,407.1 296,408.4 296.7,405.8 297.5,408.6 298.2,406.2 298.9,407.1 299.6,406.2 300.3,406.5 301,405.6 301.7,405.4 302.4,404.6 303.1,406.7 303.9,405.4 304.6,406.5 305.3,406.7 306,406.1 306.7,406.6 307.4,406.4 308.1,406 308.8,406.5 309.6,406.5 310.3,405.7 311,405.4 311.7,405.8 312.4,406.2 313.1,406.8 313.8,406.8 314.5,406.1 315.2,406.6 316,406.4 316.7,407.2 317.4,406.8 318.1,406.9 318.8,406.5 319.5,406.4 320.2,407.7 320.9,405.4 321.6,406.2 322.4,405.8 323.1,406.8 323.8,407.4 324.5,405.9 325.2,404.3 325.9,406.5 326.6,406.7 327.3,405.1 328,406 328.8,406.2 329.5,404.6 330.2,406.7 330.9,406.4 331.6,406.5 332.3,405.5 333,405.9 333.7,405.9 334.4,406.8 335.2,405.7 335.9,407.5 336.6,406.7 337.3,405.1 338,407.7 338.7,406.8 339.4,406.4 340.1,406.8 340.8,405.5 341.6,406.8 342.3,404.8 343,405.6 343.7,407.3 344.4,407.2 345.1,406.1 345.8,405.8 346.5,407.1 347.2,406.3 348,406.3 348.7,406.5 349.4,405.5 350.1,406.9 350.8,405.2 351.5,407.4 352.2,405.4 352.9,405.9 353.7,405.8 354.4,406.7 355.1,406.8 355.8,406.5 356.5,406.5 357.2,406.6 357.9,406.2 358.6,405 359.3,404.7 360.1,404.7 360.8,406 361.5,405.9 362.2,406 362.9,406.2 363.6,406.2 364.3,405.7 365,405.3 365.7,405 366.5,407.2 367.2,406.8 367.9,405.2 368.6,406.1 369.3,406.7 370,407.4 370.7,405.9 371.4,406.4 372.1,407.1 372.9,405 373.6,405.8 374.3,406.3 375,405.9 375.7,407.9 376.4,407.1 377.1,406.5 377.8,405.7 378.5,406.9 379.3,406.6 380,405.7 380.7,405.9 381.4,405.1 382.1,406.1 382.8,406.8 383.5,407 384.2,406.8 384.9,407 385.7,406.1 386.4,406.2 387.1,407.3 387.8,406.6 388.5,405.7 389.2,406.6 389.9,406.9 390.6,406.7 391.3,406.4 392.1,406.2 392.8,406.9 393.5,407.6 394.2,406.6 394.9,405.8 395.6,406.5 396.3,405.5 397,406.4 397.8,406.1 398.5,407 399.2,406.4 399.9,406.9 400.6,407.8 401.3,406.1 402,405.6 402.7,406.3 403.4,405.9 404.2,406.2 404.9,405.7 405.6,406.4 406.3,406.4 407,405 407.7,406.5 408.4,406.7 409.1,407.2 409.8,405.7 410.6,405.4 411.3,406.9 412,405.9 412.7,406.6 413.4,407 414.1,407.4 414.8,406.6 415.5,405.9 416.2,407.4 417,406.2 417.7,405.9 418.4,407.6 419.1,406.8 419.8,405.4 420.5,405.7 421.2,406 421.9,405.4 422.6,404.7 423.4,406.6 424.1,406.8 424.8,406.6 425.5,406.3 426.2,406.4 426.9,407 427.6,405.7 428.3,406 429,406 429.8,407.1 430.5,406.7 431.2,405.7 431.9,406.1 432.6,407.7 433.3,405.8 434,406.5 434.7,406 435.4,407.5 436.2,406.5 436.9,406.3 437.6,405.9 438.3,406.6 439,407.2 439.7,407.1 440.4,405.6 441.1,407.3 441.9,406 442.6,405.4 443.3,406.2 444,405.7 444.7,405.8 445.4,405.8 446.1,406 446.8,405.9 447.5,405 448.3,406.3 449,405.9 449.7,407.2 450.4,406.8 451.1,406.9 451.8,406.6 452.5,406.8 453.2,405.7 453.9,405.2 454.7,406.3 455.4,404.2 456.1,406.1 456.8,406.6 457.5,406 458.2,407 458.9,406.7 459.6,406.3 460.3,405.9 461.1,407.1 461.8,405.9 462.5,406.2 463.2,406.9 463.9,406.8 464.6,407.8 465.3,406.2 466,405.2 466.7,407 467.5,407.1 468.2,406.1 468.9,407.2 469.6,407.4 470.3,405.8 471,406.1 471.7,405.7 472.4,406.9 473.1,406.9 473.9,406.6 474.6,405.4 475.3,405.6 476,405.2 476.7,405 477.4,405.3 478.1,405.1 478.8,406 479.5,406.4 480.3,406.8 481,406.4 481.7,405.8 482.4,406.2 483.1,406.5 483.8,405.9 484.5,406.2 485.2,406.2 486,406.1 486.7,406.5 487.4,405.4 488.1,406.6 488.8,404.8 489.5,406 490.2,404.9 490.9,407.1 491.6,406.8 492.4,405.9 493.1,406.3 493.8,405.8 494.5,406.5 495.2,406.8 495.9,408 496.6,405.4 497.3,407.3 498,406.1 498.8,406.5 499.5,407 500.2,406.7" fill="none" stroke="#4a2a88" stroke-width="1.05" stroke-linejoin="round"/>
<text x="506.2" y="403.6" font-size="6.9" font-weight="bold" text-anchor="end" font-family="'Liberation Serif','Times New Roman',serif" fill="#3b2a6e">V<tspan font-size="4.5" dy="0.4">read</tspan><tspan dy="-0.4"> @ 0.4 V</tspan></text>
<path d="M287.5,432.6 288.2,431.2 288.9,431.1 289.6,431.4 290.3,431 291.1,430.6 291.8,431 292.5,430.4 293.2,431.2 293.9,430.3 294.6,431.1 295.3,431.1 296,430.2 296.7,431.8 297.5,430.3 298.2,431.3 298.9,430.6 299.6,431 300.3,430.6 301,432.1 301.7,431.6 302.4,431.8 303.1,431.3 303.9,431.2 304.6,431 305.3,430.7 306,431.3 306.7,431.2 307.4,431 308.1,430.4 308.8,431 309.6,431.4 310.3,430.9 311,431.1 311.7,431 312.4,430.4 313.1,430.4 313.8,430.6 314.5,430.8 315.2,430.8 316,431.5 316.7,430.5 317.4,430 318.1,431.2 318.8,430.6 319.5,430.7 320.2,431.9 320.9,431.5 321.6,431.1 322.4,431.3 323.1,430.9 323.8,431 324.5,430.3 325.2,430.4 325.9,430.5 326.6,431.4 327.3,431.7 328,430.6 328.8,431.2 329.5,430.7 330.2,431.3 330.9,430.6 331.6,431.2 332.3,430.8 333,430.7 333.7,430.8 334.4,430.8 335.2,430.6 335.9,430.1 336.6,431.6 337.3,430.6 338,430.1 338.7,429.8 339.4,429.8 340.1,430.7 340.8,431.6 341.6,430.2 342.3,430.8 343,429.9 343.7,431.5 344.4,431.1 345.1,431 345.8,431.5 346.5,431.7 347.2,431.3 348,430.6 348.7,430.3 349.4,430.5 350.1,430.2 350.8,431.9 351.5,430.9 352.2,431.2 352.9,431.2 353.7,432 354.4,430.7 355.1,431.6 355.8,430.9 356.5,430.9 357.2,430 357.9,431.2 358.6,430.5 359.3,430.8 360.1,431.1 360.8,431.2 361.5,431.8 362.2,430.9 362.9,431.4 363.6,431.2 364.3,431 365,431.2 365.7,430.8 366.5,431.4 367.2,430.5 367.9,430.2 368.6,430.9 369.3,431.5 370,430.7 370.7,430.8 371.4,430.9 372.1,431 372.9,430.9 373.6,431.1 374.3,430.2 375,431.6 375.7,431.2 376.4,430.6 377.1,431.5 377.8,431 378.5,431.6 379.3,430.3 380,431.8 380.7,431.1 381.4,430 382.1,431.4 382.8,431 383.5,430.5 384.2,430.9 384.9,430.1 385.7,431.2 386.4,430.9 387.1,431 387.8,431.7 388.5,431.1 389.2,430.6 389.9,430.4 390.6,430.8 391.3,431.4 392.1,430.6 392.8,430.5 393.5,431.4 394.2,430.9 394.9,430.8 395.6,431.9 396.3,430.4 397,431.1 397.8,430.2 398.5,430.8 399.2,431.1 399.9,431.2 400.6,430 401.3,430.9 402,431 402.7,430.6 403.4,431.9 404.2,431 404.9,430.6 405.6,431.2 406.3,430.2 407,431.7 407.7,431.5 408.4,430.8 409.1,431.1 409.8,431 410.6,431.8 411.3,430.5 412,430.1 412.7,429.8 413.4,430.6 414.1,430.2 414.8,430.9 415.5,431.4 416.2,430.9 417,430.7 417.7,431.4 418.4,430.7 419.1,430.9 419.8,431.3 420.5,430.3 421.2,430.5 421.9,432 422.6,430.9 423.4,430.5 424.1,430.9 424.8,430.7 425.5,430.4 426.2,430.8 426.9,430.9 427.6,431.1 428.3,431.4 429,430.3 429.8,430.5 430.5,431.6 431.2,430.9 431.9,431.8 432.6,431.3 433.3,430.4 434,431.2 434.7,430.5 435.4,430.9 436.2,431.4 436.9,431.9 437.6,431 438.3,431.3 439,431.3 439.7,431.4 440.4,429.8 441.1,430.8 441.9,431.1 442.6,431.1 443.3,430.5 444,431.3 444.7,431.3 445.4,430.8 446.1,430.7 446.8,430.8 447.5,430.9 448.3,431.5 449,431.6 449.7,430.8 450.4,430.4 451.1,430.5 451.8,431.4 452.5,430.9 453.2,430.8 453.9,431.1 454.7,431 455.4,430.7 456.1,430.4 456.8,430.6 457.5,430.9 458.2,430.9 458.9,430.5 459.6,430.3 460.3,431.3 461.1,430.6 461.8,431 462.5,430.9 463.2,430.8 463.9,430.4 464.6,430.8 465.3,430.8 466,431.4 466.7,430.3 467.5,430.6 468.2,431 468.9,430.6 469.6,430.9 470.3,431.2 471,430.1 471.7,430.7 472.4,430.5 473.1,431.6 473.9,430.8 474.6,431.1 475.3,431.6 476,430.5 476.7,430.7 477.4,430.9 478.1,430.7 478.8,431.5 479.5,431.3 480.3,431.3 481,430.7 481.7,430.4 482.4,430.5 483.1,430.7 483.8,430.2 484.5,431.3 485.2,431.6 486,431.2 486.7,430.7 487.4,430.9 488.1,431 488.8,431.1 489.5,431.7 490.2,430.6 490.9,431.2 491.6,431.2 492.4,430.8 493.1,430.5 493.8,430.2 494.5,430.4 495.2,431 495.9,431.5 496.6,430.7 497.3,431.2 498,431.3 498.8,431.4 499.5,431 500.2,431" fill="none" stroke="#d9b23e" stroke-width="1.05" stroke-linejoin="round"/>
<text x="506.2" y="428.2" font-size="6.9" font-weight="bold" text-anchor="end" font-family="'Liberation Serif','Times New Roman',serif" fill="#d6c074">V<tspan font-size="4.5" dy="0.4">read</tspan><tspan dy="-0.4"> @ 0.3 V</tspan></text>
<path d="M287.5,457.2 288.2,456.8 288.9,456.7 289.6,457 290.3,457.4 291.1,456.6 291.8,456.5 292.5,457.7 293.2,457 293.9,457.6 294.6,456.6 295.3,457.2 296,456.7 296.7,457.2 297.5,456.8 298.2,456.6 298.9,457.6 299.6,457.1 300.3,456 301,456.7 301.7,456.4 302.4,456.3 303.1,456.6 303.9,456.7 304.6,457 305.3,456.5 306,456 306.7,456.6 307.4,457.3 308.1,456.4 308.8,457.3 309.6,457.3 310.3,456.7 311,457 311.7,456.4 312.4,456.6 313.1,456.3 313.8,457 314.5,457.3 315.2,456.4 316,457.1 316.7,455.5 317.4,456.1 318.1,456.2 318.8,457.5 319.5,456.5 320.2,457.2 320.9,456 321.6,456.9 322.4,457 323.1,456.8 323.8,455.6 324.5,456.9 325.2,457.2 325.9,457.5 326.6,457 327.3,456.1 328,456.7 328.8,457.2 329.5,456.3 330.2,456.9 330.9,456.5 331.6,456.8 332.3,457.1 333,456.3 333.7,457.9 334.4,456.7 335.2,456.8 335.9,456.4 336.6,456.9 337.3,456.7 338,456.2 338.7,456.1 339.4,456.8 340.1,456.8 340.8,455.7 341.6,455.9 342.3,456.8 343,456.9 343.7,457.2 344.4,456.2 345.1,456.9 345.8,456.5 346.5,456.6 347.2,456.8 348,457.3 348.7,457.3 349.4,457.3 350.1,456.5 350.8,456.6 351.5,456.3 352.2,456.5 352.9,456.5 353.7,456.4 354.4,457 355.1,456.9 355.8,457 356.5,456.8 357.2,457.2 357.9,456.8 358.6,457.3 359.3,457.1 360.1,457.1 360.8,456.8 361.5,456.2 362.2,456.1 362.9,457.5 363.6,456.9 364.3,457 365,456.6 365.7,456.5 366.5,458.1 367.2,456.4 367.9,456.8 368.6,456.9 369.3,456.5 370,456.4 370.7,456.6 371.4,456.7 372.1,456.5 372.9,457.1 373.6,456.2 374.3,456.9 375,457.5 375.7,457.3 376.4,456.2 377.1,455.4 377.8,457 378.5,456.7 379.3,456.2 380,457 380.7,456.3 381.4,456.5 382.1,456.2 382.8,456.7 383.5,456.6 384.2,456.6 384.9,457.4 385.7,456.9 386.4,456.2 387.1,457.2 387.8,457.2 388.5,456.4 389.2,456.5 389.9,456.6 390.6,456.5 391.3,456.8 392.1,457.2 392.8,456.8 393.5,458 394.2,456.8 394.9,457 395.6,458.1 396.3,458.4 397,457.3 397.8,457.2 398.5,456.7 399.2,457.6 399.9,457 400.6,456.5 401.3,457.1 402,457.5 402.7,457.2 403.4,457.8 404.2,457.3 404.9,457 405.6,456.8 406.3,456.9 407,457.2 407.7,457.1 408.4,457.2 409.1,456.6 409.8,457 410.6,457.4 411.3,456.7 412,456.1 412.7,457.6 413.4,457.1 414.1,456.7 414.8,457.1 415.5,456.9 416.2,456.3 417,456.7 417.7,456.2 418.4,456.9 419.1,456.7 419.8,457.1 420.5,456.7 421.2,456.8 421.9,456.4 422.6,456.6 423.4,456.4 424.1,457.4 424.8,456.9 425.5,456.6 426.2,456.8 426.9,456.4 427.6,456.2 428.3,456.8 429,457.1 429.8,456.6 430.5,456 431.2,456.4 431.9,457.5 432.6,456.4 433.3,457.3 434,456.8 434.7,457.2 435.4,456.8 436.2,456.1 436.9,456.6 437.6,457.6 438.3,456.8 439,457 439.7,456.7 440.4,456.7 441.1,457 441.9,456.9 442.6,457.7 443.3,456.7 444,456.6 444.7,456.3 445.4,455.9 446.1,455.9 446.8,456.9 447.5,455.8 448.3,457.3 449,457.3 449.7,456.5 450.4,456.1 451.1,456.7 451.8,456.7 452.5,457 453.2,456.2 453.9,456.4 454.7,456.6 455.4,456.4 456.1,456.4 456.8,456.1 457.5,456.1 458.2,456.6 458.9,456.8 459.6,457.3 460.3,457.8 461.1,457.5 461.8,456.9 462.5,457.6 463.2,456.6 463.9,456.5 464.6,457.9 465.3,456.3 466,456.6 466.7,456.8 467.5,457.7 468.2,456.6 468.9,457.2 469.6,456.6 470.3,456.1 471,456.5 471.7,456.5 472.4,456.1 473.1,456.3 473.9,456.5 474.6,457.4 475.3,457.2 476,457.2 476.7,457.2 477.4,456.6 478.1,456.9 478.8,456.5 479.5,456.2 480.3,456.5 481,456.9 481.7,456.9 482.4,457.3 483.1,456.1 483.8,456.8 484.5,457.1 485.2,456.4 486,456.9 486.7,456.4 487.4,456.2 488.1,457.3 488.8,456.3 489.5,457.5 490.2,457.1 490.9,456.8 491.6,456.6 492.4,456.6 493.1,456.3 493.8,456.6 494.5,455.5 495.2,457 495.9,456.9 496.6,457.2 497.3,456.2 498,455.7 498.8,456.5 499.5,456.6 500.2,456.9" fill="none" stroke="#b51f4c" stroke-width="1.05" stroke-linejoin="round"/>
<text x="506.2" y="454.1" font-size="6.9" font-weight="bold" text-anchor="end" font-family="'Liberation Serif','Times New Roman',serif" fill="#ae1f48">V<tspan font-size="4.5" dy="0.4">read</tspan><tspan dy="-0.4"> @ 0.2 V</tspan></text>
<path d="M287.5,472.2 288.2,471.4 288.9,472 289.6,472.4 290.3,472 291.1,471.4 291.8,471.8 292.5,472 293.2,471.7 293.9,472.2 294.6,471.7 295.3,471.9 296,472.1 296.7,473 297.5,472.1 298.2,472 298.9,472.6 299.6,472.1 300.3,472.2 301,471.3 301.7,472.2 302.4,472.1 303.1,471.6 303.9,472.7 304.6,472.2 305.3,472.2 306,471.8 306.7,471.7 307.4,472 308.1,471.6 308.8,472.2 309.6,472.2 310.3,471.7 311,471.3 311.7,471.7 312.4,471.6 313.1,472 313.8,472 314.5,471.8 315.2,472 316,472.4 316.7,472.6 317.4,471.8 318.1,472.4 318.8,472.2 319.5,471.9 320.2,472.7 320.9,472.4 321.6,472.3 322.4,472.3 323.1,472.1 323.8,471.8 324.5,472.8 325.2,472.5 325.9,472.2 326.6,472.6 327.3,472.7 328,472.2 328.8,472.4 329.5,472.1 330.2,472.3 330.9,472 331.6,472.9 332.3,472 333,472.3 333.7,472.3 334.4,472 335.2,472.5 335.9,472.1 336.6,471.9 337.3,472.1 338,471.8 338.7,472.5 339.4,472.2 340.1,472.4 340.8,471.5 341.6,472.2 342.3,471.9 343,472.1 343.7,472.5 344.4,472.3 345.1,472.2 345.8,472.5 346.5,472.5 347.2,472.8 348,471.6 348.7,472.2 349.4,472 350.1,472 350.8,472.2 351.5,471.6 352.2,471.2 352.9,471.7 353.7,471.8 354.4,472.7 355.1,471.9 355.8,471.7 356.5,471.3 357.2,471.9 357.9,471.9 358.6,472 359.3,471.5 360.1,471.8 360.8,471.4 361.5,472.2 362.2,471.6 362.9,471.3 363.6,472.6 364.3,472.4 365,472.4 365.7,472.4 366.5,471.8 367.2,472.5 367.9,471.7 368.6,472.8 369.3,472.1 370,471.3 370.7,472.2 371.4,472.7 372.1,471.8 372.9,472.4 373.6,472.1 374.3,471.8 375,471.2 375.7,472.5 376.4,471.9 377.1,472.3 377.8,471.8 378.5,471.9 379.3,472.6 380,472 380.7,471.9 381.4,471.6 382.1,472.1 382.8,472.3 383.5,471.9 384.2,472 384.9,471.7 385.7,472.5 386.4,471.8 387.1,471.9 387.8,472.6 388.5,472 389.2,471.5 389.9,471.8 390.6,472.1 391.3,472.9 392.1,472.2 392.8,472.1 393.5,472.5 394.2,472.6 394.9,471.8 395.6,472.6 396.3,472.4 397,472.3 397.8,471.2 398.5,472 399.2,472.4 399.9,471.7 400.6,472.7 401.3,472.1 402,471.8 402.7,472.5 403.4,472.5 404.2,472.6 404.9,472.1 405.6,472.7 406.3,472 407,472.2 407.7,471.8 408.4,471.8 409.1,472.1 409.8,471.8 410.6,471.8 411.3,471.9 412,472.2 412.7,472.3 413.4,472.4 414.1,472.4 414.8,472 415.5,471.7 416.2,471.3 417,471.8 417.7,471.7 418.4,471.4 419.1,472.7 419.8,471.5 420.5,472.1 421.2,472.1 421.9,471.8 422.6,472.7 423.4,471.7 424.1,471.4 424.8,472.3 425.5,471.5 426.2,471.3 426.9,471.6 427.6,471.8 428.3,472.1 429,472.3 429.8,471.7 430.5,472.3 431.2,473 431.9,471.9 432.6,472 433.3,472.2 434,472.4 434.7,471.7 435.4,471.7 436.2,471.8 436.9,472.6 437.6,472.6 438.3,471.5 439,471.5 439.7,471.7 440.4,471.6 441.1,472.2 441.9,472.2 442.6,472.7 443.3,472.5 444,472.2 444.7,472.6 445.4,471.9 446.1,471.8 446.8,472.1 447.5,472.5 448.3,471.5 449,472.4 449.7,472.4 450.4,472 451.1,472.1 451.8,472.1 452.5,472.2 453.2,472.6 453.9,471.9 454.7,472.7 455.4,472.6 456.1,472.7 456.8,471.5 457.5,471.6 458.2,472.4 458.9,471.9 459.6,471.8 460.3,471.7 461.1,471.6 461.8,471.9 462.5,471.9 463.2,472 463.9,472.4 464.6,471.8 465.3,472.6 466,471.4 466.7,473.1 467.5,471.7 468.2,472.3 468.9,472.4 469.6,472 470.3,472.2 471,472 471.7,471.4 472.4,472.1 473.1,472.5 473.9,472 474.6,471.5 475.3,472 476,472.3 476.7,472.2 477.4,472.3 478.1,472 478.8,472 479.5,471.1 480.3,472.6 481,471.9 481.7,472.3 482.4,471.8 483.1,471.9 483.8,472.2 484.5,472.7 485.2,472.7 486,472.4 486.7,472.8 487.4,471.8 488.1,472.2 488.8,471.8 489.5,472.5 490.2,472 490.9,472.4 491.6,472.8 492.4,471.4 493.1,472.9 493.8,472.3 494.5,472.1 495.2,471.5 495.9,472.2 496.6,471.5 497.3,472.2 498,472.2 498.8,472.8 499.5,472 500.2,472.5" fill="none" stroke="#3434b8" stroke-width="1.05" stroke-linejoin="round"/>
<text x="506.2" y="469.4" font-size="6.9" font-weight="bold" text-anchor="end" font-family="'Liberation Serif','Times New Roman',serif" fill="#2a2aa6">V<tspan font-size="4.5" dy="0.4">read</tspan><tspan dy="-0.4"> @ 0.1 V</tspan></text>
<rect x="287.5" y="275.4" width="222" height="209.8" fill="none" stroke="#2b2b2b" stroke-width="1.05"/><path d="M287.5,485.2 v-2.2 M287.5,275.4 v2.2 M331.9,485.2 v-2.2 M331.9,275.4 v2.2 M376.3,485.2 v-2.2 M376.3,275.4 v2.2 M420.7,485.2 v-2.2 M420.7,275.4 v2.2 M465.1,485.2 v-2.2 M465.1,275.4 v2.2 M509.5,485.2 v-2.2 M509.5,275.4 v2.2 M287.5,289.5 h2.4 M509.5,289.5 h-2.4 M287.5,406 h2.4 M509.5,406 h-2.4 M287.5,370.9 h1.4 M509.5,370.9 h-1.4 M287.5,350.4 h1.4 M509.5,350.4 h-1.4 M287.5,335.9 h1.4 M509.5,335.9 h-1.4 M287.5,324.6 h1.4 M509.5,324.6 h-1.4 M287.5,315.3 h1.4 M509.5,315.3 h-1.4 M287.5,307.5 h1.4 M509.5,307.5 h-1.4 M287.5,300.8 h1.4 M509.5,300.8 h-1.4 M287.5,294.8 h1.4 M509.5,294.8 h-1.4 M287.5,466.9 h1.4 M509.5,466.9 h-1.4 M287.5,452.4 h1.4 M509.5,452.4 h-1.4 M287.5,441.1 h1.4 M509.5,441.1 h-1.4 M287.5,431.8 h1.4 M509.5,431.8 h-1.4 M287.5,424 h1.4 M509.5,424 h-1.4 M287.5,417.3 h1.4 M509.5,417.3 h-1.4 M287.5,411.3 h1.4 M509.5,411.3 h-1.4 " stroke="#2b2b2b" stroke-width="0.8"/>
<text x="287.5" y="493.6" font-size="9.3" text-anchor="middle" font-family="'Liberation Serif','Times New Roman',serif" fill="#222" stroke="#222" stroke-width="0.22">0</text>
<text x="331.9" y="493.6" font-size="9.3" text-anchor="middle" font-family="'Liberation Serif','Times New Roman',serif" fill="#222" stroke="#222" stroke-width="0.22">100</text>
<text x="376.3" y="493.6" font-size="9.3" text-anchor="middle" font-family="'Liberation Serif','Times New Roman',serif" fill="#222" stroke="#222" stroke-width="0.22">200</text>
<text x="420.7" y="493.6" font-size="9.3" text-anchor="middle" font-family="'Liberation Serif','Times New Roman',serif" fill="#222" stroke="#222" stroke-width="0.22">300</text>
<text x="465.1" y="493.6" font-size="9.3" text-anchor="middle" font-family="'Liberation Serif','Times New Roman',serif" fill="#222" stroke="#222" stroke-width="0.22">400</text>
<text x="509.5" y="493.6" font-size="9.3" text-anchor="middle" font-family="'Liberation Serif','Times New Roman',serif" fill="#222" stroke="#222" stroke-width="0.22">500</text>
<text x="270.6" y="291.0" font-size="9.3" font-family="'Liberation Serif','Times New Roman',serif" fill="#222" stroke="#222" stroke-width="0.22">10<tspan font-size="5.6" dy="-4.6">-3</tspan></text>
<text x="270.6" y="411.3" font-size="9.3" font-family="'Liberation Serif','Times New Roman',serif" fill="#222" stroke="#222" stroke-width="0.22">10<tspan font-size="5.6" dy="-4.6">-4</tspan></text>
<text x="401" y="507.7" font-size="12.6" text-anchor="middle" font-family="'Liberation Serif','Times New Roman',serif" fill="#111" stroke="#111" stroke-width="0.32">Time (s)</text>
<text transform="translate(272.8,377.8) rotate(-90)" font-size="13" text-anchor="middle" font-family="'Liberation Serif','Times New Roman',serif" fill="#111" stroke="#111" stroke-width="0.32"><tspan font-style="italic">g</tspan><tspan font-size="8.2" font-style="italic" dy="1.8">diff</tspan><tspan dy="-1.8"> (mS)</tspan></text>
</svg></body></html>
